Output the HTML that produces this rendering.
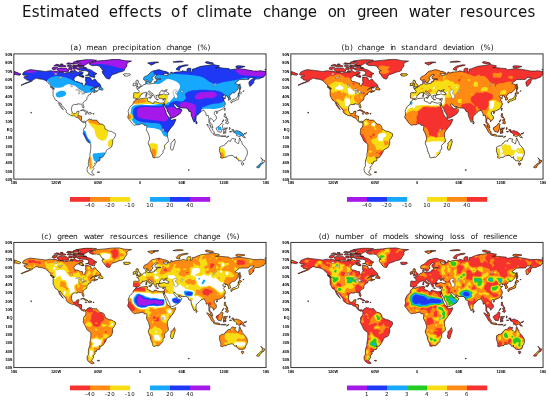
<!DOCTYPE html>
<html lang="en"><head><meta charset="utf-8"><title>Estimated effects of climate change on green water resources</title>
<style>html,body{margin:0;padding:0;background:#fff}svg{display:block}text{font-family:"DejaVu Sans","Liberation Sans",sans-serif;fill:#111;font-variant-ligatures:none}.t{font-family:"Liberation Sans",sans-serif;fill:#000;font-weight:bold}</style></head><body>
<svg width="550" height="400" viewBox="0 0 550 400">
<defs><clipPath id="land"><path d="M8.4,20.4L9.8,18.1L12.6,16.7L16.4,15.6L21,16.2L27.3,16.9L31.5,17.5L36.4,16.7L38.5,17.1L42,17.1L45.5,18.3L49,18.3L50.4,19.2L54.6,18.3L57.4,18.3L58.8,18.8L59.5,17.5L60.2,15.4L61.6,17.1L63,17.9L64.4,18.3L65.8,17.1L66.5,17.5L68.6,17.9L69.3,19.2L67.9,20L65.8,19.8L65.1,21.2L63,21.7L60.9,23.3L59.8,25L60.2,26.1L61.2,27.5L63.7,27.7L66.5,28.9L68.6,29.2L68.6,30.8L70,32.3L70.7,31.7L71,30L72.1,28.3L71.4,26.2L71.8,25L71.4,23.1L74.2,23.1L77,24.2L77.3,25.8L78.4,26.4L80.1,25.4L80.8,24.8L82.6,27.1L84,28.8L85.8,30L86.8,31.7L85.4,32.3L84,33.2L81.2,33.2L79.1,33.8L77.7,35L76.3,36L78.4,34.6L79.8,34L80.8,34.3L80.5,35.4L81.2,36.7L83.3,37.1L84,36.2L83.3,37.3L81.2,38.1L79.8,38.8L79.8,37.9L80.8,37.1L79.1,37.5L77.7,38.3L76.6,39.2L77,40L76.3,40.4L74.2,41.2L74.2,42.1L73.1,43.3L72.8,44.2L73.1,45.4L72.1,46.2L70.7,47.1L69.3,48.3L68.9,49.6L69.6,51.7L70,52.9L69.8,54L68.9,53.8L68.1,52.1L68.1,50.8L67.2,50L66.1,50.2L64.8,49.8L63.3,49.8L63.3,50.7L62.3,50.6L60.2,50.4L58.4,51.4L57.7,53.3L57.5,56.2L58.4,58.8L59.8,59.8L61.6,59.5L62.6,58.3L62.8,57.5L65.1,57.1L64.8,58.8L64.4,59.6L64,61.7L65.8,61.8L67.5,62.3L67.5,64.6L67.5,66.2L68.6,67.5L70,67.3L70.7,67.1L71.8,67.9L71,68.1L70,68.9L68.9,68.3L67.9,67.9L66.5,66.7L65.9,65.8L64.8,64.2L63,63.6L61.6,62.9L60.2,61.7L58.8,61.9L57,61.4L54.9,60.4L53.2,59.2L52.1,57.9L52.3,56.7L51.1,55L49.3,52.9L48.3,51.7L47.2,50L46.5,48.8L45.6,48.6L45.8,50L47,52.1L48.3,54.2L49.3,55.8L48.8,55.4L47.6,54.2L46.5,52.7L45.5,51.7L44.9,50L44.1,47.9L43,46.7L41.6,46.2L40.7,44.6L40.2,43.5L39.2,41.7L39,39.2L39.2,36.5L38.7,34.8L39.9,34.6L40.2,35.4L40,34.2L38.5,33.3L36.8,32.5L36.4,31.2L35,29.6L33.9,28.8L32.9,27.5L31.1,26.2L29.7,25.8L28,25.2L25.2,25L23.1,24.2L21.7,24.2L19.9,25.6L18.5,25.8L18.2,27.1L16.1,27.9L14,28.8L11.9,29.5L9.8,30.3L7.3,31.4L7,31.1L9.1,30.1L10.8,29.3L12.6,28.5L14,28.3L15.4,27.1L16.1,26.1L14.7,26.2L12.6,26.1L12.6,25L10.8,24.6L9.8,23.5L10.5,22.5L13.3,22.1L13.3,21.2L11.9,21.2L9.8,21.2ZM80.5,23.5L78,22.9L76.3,22.5L74.2,21.2L71.4,21.4L74.2,20.8L74.5,19.2L74.9,17.9L72.1,16.8L70.7,16.7L68.6,16.7L66.5,16.2L63.7,15.8L63.3,14.2L66.5,13.6L69.3,13.8L71.4,14.3L74.2,15.2L76.3,15.8L78.4,16.7L79.1,17.5L81.2,18.8L82.9,19.6L81.5,20.8L79.8,20.2L80.8,22.1ZM44.8,17.5L46.5,17.9L50.4,17.7L53.2,17.7L54.9,17.1L54.2,15.8L52.5,14.3L50.4,14L49,14.3L46.2,13.9L43.4,14.6L42.7,15.4L43.8,16.2ZM38.1,15L39.9,15.7L41.3,15.4L42.3,14.2L43.8,13.2L41.3,12.9L38.8,13.3ZM63.7,11.2L70,11.5L71.4,10.8L73.5,9.6L74.9,8.8L79.1,7.5L82.6,6.2L78.4,5.8L71.4,5.8L65.8,6.5L62.3,7.1L65.1,7.9L66.5,9.2L64.4,10ZM61.6,12.7L70,12.8L70,11.9L64.4,11.2L58.8,11.1L61.6,12.1ZM59.5,9.8L63.7,9.6L65.1,8.5L62.3,7.3L59.5,8.1ZM44.1,12.3L47.6,12.9L51.8,12.5L51.8,11.7L49,11.2L44.8,11.4ZM53.2,12.3L57.4,12.5L57.4,11.2L53.9,11.2ZM54.6,15.4L58.1,15.4L58.1,13.5L54.9,13.5ZM58.8,15L62.6,15L62.6,13.3L59.1,13.3ZM65.1,22.1L67.9,22.9L69.6,21.8L67.2,20.2L65.5,20.7ZM56.3,17.9L58.8,17.9L58.8,16.8L56.7,16.8ZM84.5,35.3L87.1,36L88.9,36.1L89.1,35.2L88.5,34.2L87.1,33.5L86.8,32.1L85.8,32.9L85,34.2ZM36.2,32.8L38.5,33.2L39.7,34.7L38.1,34.4ZM80.8,33.5L82.7,34L81.9,34ZM66.5,56.7L68.6,55.8L70,55.8L72.1,57L74.1,58.2L71.8,58.4L71.4,57.8L69.6,56.7L68.2,56.2L67.2,56.7ZM73.8,59.6L75.2,58.4L77,58.5L78,59.5L77,59.8L75.9,60.2ZM71.2,59.7L72.6,59.8L72.4,60.2L71.3,60.1ZM79,59.6L80.1,59.7L79.9,60.1L79,60ZM74.9,9.8L78.4,8.3L82.6,7.1L91,6.4L98,5.6L105,5.4L110.6,6.7L117.6,7.1L114.1,8.3L112.7,10L113,11.7L112,13.3L110.6,15L110.6,16.2L108.5,17.5L105,18.2L102.9,19.2L100.1,20.2L98,20.8L96.6,22.9L95.9,24.8L94.5,25L92.4,24.2L91,22.5L89.6,20.4L88.5,19.2L88.2,17.1L90.3,16.7L88.2,15.8L87.1,14.2L85.4,12.1L82.6,11.5L78.4,11.7L76.3,10.8ZM109.2,20.4L110.6,19.7L113.4,19.8L115.8,19.8L116.5,20.8L114.8,21.7L112.7,22.2L110.2,21.8L110.6,21ZM71.8,67.9L72.8,67.1L73.5,66L74.9,65.4L75.9,64.8L76.3,65.8L77.3,65L78.4,66.2L81.2,66.2L82.6,66.1L84,67.9L86.1,70L88.2,70.2L89.9,71.2L91,73.8L91,75L92.4,75.6L94.8,77.1L97.3,77.4L99.8,78.8L101.4,79.6L101.6,81.7L100.1,84.2L98.7,85.8L98.7,89.2L98,91.7L97.3,93.3L95.9,94.2L94.5,94.8L92.4,96.2L91.9,98.3L90.3,100.8L88.5,103.3L86.8,104L85.2,103.3L86.1,105L85.8,106.7L82.6,107.5L82.4,109.2L80.5,109.2L81.3,110.7L80.1,112.5L78.8,113.3L79.9,114.6L78.4,116.7L77.7,118.3L78.2,119L80.3,120.7L78.4,121.2L76.3,120.4L74.2,118.8L73.1,116.7L73.1,114.2L74.5,111.7L74.3,109.6L74.5,107.5L74.8,105.8L75.9,102.5L75.9,100L76.6,96.7L76.8,93.3L76.8,90.2L75.6,89.2L73.5,87.8L72.6,86.5L71.4,83.8L70.3,81.7L69.3,80L69.1,78.6L70,77.8L69.4,76.8L69.6,75.4L70,74.2L71,73.8L71.8,71.8L71.9,70L71.5,69ZM83.3,117.9L85.4,117.8L85.4,118.5L83.6,118.5ZM121.9,45.2L124.6,45.7L126.7,44.6L129.5,44.3L133,43.9L133.7,44.3L133.2,46.2L133.7,47.1L135.1,47.6L136.7,48.1L137.9,49.2L140,49.3L140,47.9L141.4,47.6L143.5,48.5L146.3,49.2L148.4,48.9L149.9,48.9L150.4,50.4L150,51.8L148.8,50L149.4,51.7L150.8,55L151.9,57.5L152.2,59.6L153.6,62.1L156.1,64.6L156.3,65.4L157.5,66.2L159.6,65.7L161.8,65.2L161.7,66.3L160.3,69.2L159.2,71.2L156.8,74L155,76.5L153.6,78.8L153.3,80.8L153.6,83.3L154.3,85.4L154.3,87.9L151.9,89.8L150.5,91.7L150.8,95L149.1,96.2L149,98.8L147.3,100.8L144.9,103.2L142.1,103.3L140,104L138.8,103.3L138.7,101.7L137.5,98.8L136.5,96.7L136.1,93.8L134.4,90L134.3,88.3L135.7,85L135.3,82.5L134.5,80L133.7,78.3L132.3,75.8L132.7,74.2L132.8,72.1L132.2,71.2L130.2,71.4L129.2,69.8L127,69.8L124.6,70.8L122.8,70.7L120.7,71.3L119.7,70.8L117.9,69.2L116.7,67.5L115.5,65.8L114.2,64.6L113.7,62.8L114.4,61.2L114.6,59.2L114.1,57.5L114.8,55.4L115.8,53.3L116.9,51.9L118.3,51L119.1,50L119.2,48.8L120,47.3L121.2,46.7ZM160.5,85L161.3,87.9L160.6,90L159.6,93.3L158.9,95.8L157.5,96.2L156.4,94.6L156.4,92.9L157.1,91.2L156.8,89.2L158.2,88.2L159.6,86.2ZM119.7,44.2L119.3,42.8L119.8,40.4L119.5,39.2L120.4,38.6L123.2,38.8L124.7,38.8L125.2,37.5L124.2,35.7L122.7,34.8L124.9,34.4L124.7,33.6L126.1,33.8L127.1,32.7L128.4,32.2L129.3,30.8L130.9,30.4L131.9,30L131.8,28.8L131.7,27.5L133.3,26.9L133.3,28.3L133,29.2L133.7,30L135.8,30L138.9,29.4L140.7,29L140.7,27.5L142.8,27.3L142.4,25.7L145.6,25.2L147,25L143.5,24.8L141.8,25L140.9,23.8L141,22.5L143.5,20.8L141.4,20.2L140.7,21.2L138.2,23.3L137.9,24.4L139.2,25.2L137.5,27.1L137.2,28.2L136,28.8L135,28.8L133.8,26.2L133.3,25.6L131.6,26.6L129.8,26L129.5,24.2L130.5,22.7L133,21.7L135.1,20L136.5,18.3L138.6,17.1L140.7,16.7L143.8,15.8L145.6,15.8L147.7,16.5L149.1,17.1L151.9,17.5L154.7,18.8L154,19.8L150.5,19.6L149.1,19.4L150.5,21.4L152.2,21.7L154,21.1L154,20L156.8,19.8L156.8,18.1L158.2,18.3L158.5,19.3L161,18.3L163.8,17.9L167.3,17.7L168.3,16.8L171.5,17.5L173.6,17.9L172.9,16.7L172.8,15.8L173.9,14.3L176.8,14.3L176.8,15.8L176.4,17.9L177.8,17.9L178.5,15L180.6,14.8L182.7,13.8L186.9,12.3L191.1,11.7L196,11.2L198.8,10.2L201.6,11.1L205.4,11.7L204.4,13.3L201.6,13.8L205.1,13.6L210,14.2L214.9,14.6L216.3,15.8L219.1,15.4L224,14.6L231,15.4L238,16.7L239.4,17L245,17.1L245.7,16.7L250.6,17.3L252,17.5L252,20.8L250.6,21.2L249.9,22.9L246.4,24.2L245,25L241.5,25L240.1,26.7L239.4,28.3L240.1,28.3L238,30.8L235.9,32.5L235.2,30.8L234.8,27.9L236.6,26.2L239.4,24.6L240.1,23.3L238,23.5L235.9,23.5L234.5,25.4L231.7,25.6L228.2,25.5L225.4,25.7L222.6,27.9L220.8,29.4L222.6,30L224.7,30.7L224.3,32.5L224.3,34.6L222.6,36.7L220.5,38.8L218.4,39L217,39.8L216.6,41L215.2,41.8L216.5,44.2L216.6,45.4L214.5,46.2L214.5,44.6L214.7,43.6L213.5,43.3L213.5,41.9L213,41.7L211,42.5L211.4,41.1L210.7,40.9L208.6,42.3L209.3,43.8L211.8,43.9L210.3,44.8L209.5,45.8L210.6,47.8L211.3,49.2L211.4,50L211,51.4L209.8,53.8L208.2,55.2L205.9,56.4L203.3,57.3L203,58.1L202.6,57.1L201.6,57L200.2,58.8L200.5,60.4L202.1,62.1L202.5,64.6L201.1,66.2L199.5,67.8L199.4,66.5L197.8,65L196.6,63.9L195.9,65.4L195.6,67.2L196.3,68.9L197.6,69.8L198.4,71.7L198.8,73.8L197.8,73.3L196.7,72.2L196.2,70.4L195.5,69.2L194.8,68.2L194.9,66.7L194.9,64.6L194.4,62.1L193.9,61L192.8,61.8L192,61.5L192,59.6L190.8,57.5L190,56.2L189,56.7L187.9,56.9L186.9,57.5L186.5,58.3L185.5,58.9L183.6,61.1L182.1,62.1L182.1,64.2L181.9,66.4L181.2,67.3L180.2,68.3L179.4,66.8L178.4,64.2L177.4,61.7L177,59.2L176.9,57.5L175.3,57.7L174.3,56.4L175,55.8L173.6,55.2L172.9,54.2L171.1,54L169,54.1L166.6,53.7L165.9,52.5L164.1,52.8L162.8,52L161.6,50.8L161,49.8L159.9,50L159.6,50.4L160.1,51.7L161.1,52.9L162,53.8L162.1,54.8L163.8,54.8L165.3,53.2L165.5,54.6L167.1,55.3L167.9,56.2L166.9,57.9L166.4,59.2L164.5,60.8L162.5,61.9L160.3,63.3L157.5,64.3L156.4,64.4L156,62.7L155.9,61.2L154.7,59.2L153.4,57.1L152.9,55.2L151.9,53.8L150.7,51.7L150.5,50.4L149.9,48.9L150.5,47.5L151.2,45.4L151.3,44.4L149.8,44.8L148.4,44.8L147.3,44.6L146.3,44.6L145.1,44.2L144.5,42.9L144.3,42.1L144.5,41.4L146.3,40.7L148,40.6L149.4,40L150.5,40L151.5,40.6L152.9,40.8L155,40.4L155,39.4L153.6,38.6L152.2,37.7L151.9,37.3L152.6,36.4L153.4,35.7L152.2,35.8L150.6,36.4L150.8,37.3L151.5,37.3L150.5,37.8L149.5,38L148.8,37.2L149.4,36.7L148.4,36.4L147.6,36.2L146.8,37.3L146.1,38.3L145.5,39.3L145.7,40.3L146.3,40.7L145.2,41L144.3,41.2L142.8,41L142.7,41.7L141.9,41.3L142,42.3L142.8,43.3L142.1,44.6L141.2,44.3L140.8,43.1L140,41.9L139.6,40.4L138.9,39.6L137.2,38.8L136.1,37.3L135.6,37L134.6,37.3L134.8,38.2L135.6,38.8L136.4,39.8L137.3,40.2L138.9,41.5L137.9,41.2L137.6,41.9L138,42.5L137.2,43.3L137,43.1L137.2,42.1L136.5,41.4L135.9,41L134.6,40.2L133.3,39.2L132.7,38.1L131.2,38.5L129.5,38.9L128.2,39L128.2,40.1L126.6,41L125.8,42.1L126.1,42.8L125.5,43.6L124.6,44.3L122.8,44.4L122.1,45L121.6,44.4L120.9,44ZM0,17.5L2.1,18.1L4.9,19.2L7,20L5.6,21.2L3.5,21L1.4,20.4L0,20.8ZM122.1,33.3L123.5,33.1L125.3,32.8L127,32.3L127.2,31.1L126.2,30.8L125.9,30L124.9,29.2L124.6,28.3L124,28.1L124.6,27.1L123.5,26.9L123.9,26.2L122.5,26.2L121.9,27.1L122.1,28.3L122.6,28.8L122.5,29.3L123.5,29.3L123.9,30.4L122.8,30.6L123.1,31.2L122.4,31.8L123.8,32.2L122.8,32.5ZM119,31.8L121.6,31.5L121.8,30.4L122.1,29.5L121.1,28.9L120,29.3L119,29.8L119.3,30.8ZM217,48.9L218,48.8L218.4,47.3L219.8,47.1L220.8,47L221.9,46.2L223.3,45.8L224.6,45.2L224.7,43.3L225.4,42.1L224.9,40.5L224.1,40.8L224,42.1L222.9,43.8L221.9,44.2L221.2,45L219.1,45.4L217.7,46.2L216.8,47.3ZM224,40.4L225,39.6L226.3,40L227.8,38.9L227.1,38.3L225.4,37.2L225,38.8L224,39.6ZM225.4,36.7L226.4,36L226.1,34.2L227.1,34.2L226.2,31.7L226.1,29.8L225.4,30.4L225.4,33.3ZM210.1,55.8L210.7,56.7L211.3,54.2L210.7,54ZM202.1,59L203,59.7L203.7,58.5L203,58.3ZM181.9,67.9L182.1,66.9L183.3,68.8L182.7,69.8L182,70ZM210.2,61.7L210.6,59.6L211.5,59.7L211.4,61.2L212.8,64.2L212.1,63.8L211,63.3L210.3,62.9ZM211.4,69.2L212.4,67.9L213.8,66.9L214.5,68.8L213.8,70L212.8,69.6ZM211.4,66.2L212.1,65.2L213.7,64.6L213.8,66.2L212.8,66.7L212.1,67.3ZM208,68L209.6,65.6L209.9,66L208.5,68.2ZM202.3,73.8L203,73.5L204,72.7L205.1,72.3L206.1,71.1L207.2,69.6L207.9,69.2L209.3,70.7L208.6,71.4L208.5,73.3L209.3,74.2L208.2,75L207.5,76.7L207.2,78.2L206.1,78.3L205.1,77.7L204,77.8L203,76.2L202.3,75ZM192.7,70.3L194.2,70.7L196,72.5L197,73.3L198.4,75L199.1,76.7L200.2,77.9L200.1,79.8L199.1,79.8L197.6,78.3L196.3,76L195.1,73.8L193.9,72.2ZM199.6,80.6L200.5,80L201.9,80.4L203.7,80.4L205.1,80.8L206.1,81.5L206.1,82.2L203.7,81.9L201.6,81.5L200.5,81.2ZM209.6,79.6L209.6,77.5L209.3,75.8L210,74.3L210.7,74L212.1,74.2L213.5,73.7L213.1,74.6L211,74.7L210.1,75.7L211,75.8L212.3,75.7L211.8,76.7L211.3,76.7L211.8,77.9L212.1,78.8L211.4,79.2L210.7,77.5L210.3,77.9L210.3,79.6ZM217.7,75.7L219.1,75.4L219.9,75.8L220.5,77.8L222.2,76.4L224.7,77.2L227.1,78.2L228.2,79.6L229.2,80L229.6,81.7L231.5,83.8L229.2,83.3L228.2,81.8L226.8,81.4L226.1,82.7L224.7,82.7L223.3,81.7L222.6,81.9L222.6,80.4L221.2,78.9L219.4,78.3L219,77.3L219.8,76.9L218.4,76.8ZM206.8,81.9L209.3,81.9L212.1,81.9L212.1,82.4L209.3,82.5L206.8,82.3ZM212.4,83.6L213.5,82.5L214.9,82L214.2,82.9ZM215.2,75.4L215.6,73.3L216.2,74.2L215.9,75.4ZM215.6,77.5L217.6,77.5L217.3,78.1L215.6,77.9ZM229.9,79.7L231.7,79.2L232.6,78.5L232.4,79.4L231,80.2ZM205.4,93.3L205.9,93.2L207.5,92.1L209.3,91.7L211,90.8L211.6,89.3L212.4,89.4L213.5,87.5L214.9,86.7L215.9,87.3L216.6,87.4L217,85.8L217.3,85.2L218.8,84.4L220.5,85L221.8,85L221.2,86.2L220.8,87.5L222.2,88.3L223.6,89.6L224.6,89.6L225,87.5L225.2,85.4L225.7,83.9L226.4,85.4L226.6,86.9L227.7,87.5L228.2,90L229.2,91.2L230.3,92.1L231.5,93.8L232.9,95.8L233.4,97.9L233.3,100L232.7,102.1L231.7,103.3L231,106.1L229.2,106.7L228.4,107.5L227.1,106.8L224.7,106.8L223.6,105L222.6,104.8L222.4,102.5L221.2,104L220.8,103.9L219.8,102.3L218,101.2L215.9,101.7L214.2,101.9L212.8,102.5L212.4,103.3L210,103.3L208.6,104.2L207.2,104L206.5,103.6L207,101.7L206.5,100L205.9,98.3L205.3,96.7L205.7,94.6ZM227.3,108.9L229.7,109L229.7,110L228.9,111.3L228.2,111.2L227.6,110.2ZM246.9,103.7L248.1,105L248.8,105.6L249.2,106.3L250.8,106.4L250.5,107.7L249.8,107.9L249.8,108.8L248.6,109.7L248.4,109L248.6,108.3L247.7,107.8L248.3,107.1L248.3,105.8L247.1,104.2ZM246.9,108.8L247.9,109.6L247.1,110.8L246.7,111.5L245.8,112.1L245.6,113.3L244.6,113.8L243.6,113.7L242.5,113.3L243.2,112.3L243.9,111.7L245.3,110.8L246,109.8ZM162,15.2L162.8,14.2L163.8,13.3L165.2,12.3L167.3,11.7L171.5,10.8L174.3,10.9L173.6,11.5L170.1,12.2L168,12.7L166.9,13.5L165.9,14.3L165.2,15.4L166.2,16.1L164.5,16.2L162.8,15.8ZM133.7,9L135.8,10.3L137.5,11.2L138.9,10.4L140.7,9.6L139.3,9L142.1,9L144.9,8.3L142.1,7.9L138.6,8.2L135.8,8.5ZM158.9,8.1L162.4,8.3L166.6,8.1L169.4,7.7L166.6,7.1L162.4,7.3ZM192.5,9.2L196,10L199.5,9.6L198.8,8.8L196,8.3L193.2,7.5L191.1,8.3ZM221.9,13.3L223.3,13.8L226.1,13.9L231,12.5L228.2,12L224,11.7L221.9,12.3ZM250.9,15.8L252,15.8L252,15.3L250.9,15.4ZM134.8,43.3L136.8,43.2L136.6,44.4L134.8,43.7ZM131.7,42.5L132.7,42.3L132.8,40.7L131.8,40.9ZM132,40.4L132.6,40.4L132.7,39.2L132.1,39.6ZM142.4,45.3L144.4,45.6L144.3,45.9L142.4,45.7ZM148.6,45.8L150.1,45.2L149.8,45.9L148.8,46.2ZM39.9,11.7L44.1,11.8L45.1,10.8L42.7,10.3ZM52.5,10L56.7,10.2L57.4,9.3L53.9,8.8ZM57.4,10.1L59.1,10.1L59.1,9.2L57.4,9.3ZM58.4,12.7L60.7,12.7L60.7,11.9L58.4,11.9ZM69.3,14.2L72.8,14.3L72.1,13.5L69.6,13.4ZM46.2,10.6L49,10.7L49,10L46.5,9.9ZM67.9,23.2L70,23.2L70,22.5L68.2,22.5ZM16.8,58.2L17.5,58.4L17.5,59.2L16.8,59ZM174.2,115.8L175.3,115.8L175.2,116.4L174.3,116.3ZM228.9,37.5L229.9,37.1L230.2,36.8L228.9,37.2Z"/></clipPath>
<clipPath id="frame"><rect x="0" y="0" width="252" height="125"/></clipPath>
<path id="coast" d="M8.4,20.4L9.8,18.1L12.6,16.7L16.4,15.6L21,16.2L27.3,16.9L31.5,17.5L36.4,16.7L38.5,17.1L42,17.1L45.5,18.3L49,18.3L50.4,19.2L54.6,18.3L57.4,18.3L58.8,18.8L59.5,17.5L60.2,15.4L61.6,17.1L63,17.9L64.4,18.3L65.8,17.1L66.5,17.5L68.6,17.9L69.3,19.2L67.9,20L65.8,19.8L65.1,21.2L63,21.7L60.9,23.3L59.8,25L60.2,26.1L61.2,27.5L63.7,27.7L66.5,28.9L68.6,29.2L68.6,30.8L70,32.3L70.7,31.7L71,30L72.1,28.3L71.4,26.2L71.8,25L71.4,23.1L74.2,23.1L77,24.2L77.3,25.8L78.4,26.4L80.1,25.4L80.8,24.8L82.6,27.1L84,28.8L85.8,30L86.8,31.7L85.4,32.3L84,33.2L81.2,33.2L79.1,33.8L77.7,35L76.3,36L78.4,34.6L79.8,34L80.8,34.3L80.5,35.4L81.2,36.7L83.3,37.1L84,36.2L83.3,37.3L81.2,38.1L79.8,38.8L79.8,37.9L80.8,37.1L79.1,37.5L77.7,38.3L76.6,39.2L77,40L76.3,40.4L74.2,41.2L74.2,42.1L73.1,43.3L72.8,44.2L73.1,45.4L72.1,46.2L70.7,47.1L69.3,48.3L68.9,49.6L69.6,51.7L70,52.9L69.8,54L68.9,53.8L68.1,52.1L68.1,50.8L67.2,50L66.1,50.2L64.8,49.8L63.3,49.8L63.3,50.7L62.3,50.6L60.2,50.4L58.4,51.4L57.7,53.3L57.5,56.2L58.4,58.8L59.8,59.8L61.6,59.5L62.6,58.3L62.8,57.5L65.1,57.1L64.8,58.8L64.4,59.6L64,61.7L65.8,61.8L67.5,62.3L67.5,64.6L67.5,66.2L68.6,67.5L70,67.3L70.7,67.1L71.8,67.9L71,68.1L70,68.9L68.9,68.3L67.9,67.9L66.5,66.7L65.9,65.8L64.8,64.2L63,63.6L61.6,62.9L60.2,61.7L58.8,61.9L57,61.4L54.9,60.4L53.2,59.2L52.1,57.9L52.3,56.7L51.1,55L49.3,52.9L48.3,51.7L47.2,50L46.5,48.8L45.6,48.6L45.8,50L47,52.1L48.3,54.2L49.3,55.8L48.8,55.4L47.6,54.2L46.5,52.7L45.5,51.7L44.9,50L44.1,47.9L43,46.7L41.6,46.2L40.7,44.6L40.2,43.5L39.2,41.7L39,39.2L39.2,36.5L38.7,34.8L39.9,34.6L40.2,35.4L40,34.2L38.5,33.3L36.8,32.5L36.4,31.2L35,29.6L33.9,28.8L32.9,27.5L31.1,26.2L29.7,25.8L28,25.2L25.2,25L23.1,24.2L21.7,24.2L19.9,25.6L18.5,25.8L18.2,27.1L16.1,27.9L14,28.8L11.9,29.5L9.8,30.3L7.3,31.4L7,31.1L9.1,30.1L10.8,29.3L12.6,28.5L14,28.3L15.4,27.1L16.1,26.1L14.7,26.2L12.6,26.1L12.6,25L10.8,24.6L9.8,23.5L10.5,22.5L13.3,22.1L13.3,21.2L11.9,21.2L9.8,21.2ZM80.5,23.5L78,22.9L76.3,22.5L74.2,21.2L71.4,21.4L74.2,20.8L74.5,19.2L74.9,17.9L72.1,16.8L70.7,16.7L68.6,16.7L66.5,16.2L63.7,15.8L63.3,14.2L66.5,13.6L69.3,13.8L71.4,14.3L74.2,15.2L76.3,15.8L78.4,16.7L79.1,17.5L81.2,18.8L82.9,19.6L81.5,20.8L79.8,20.2L80.8,22.1ZM44.8,17.5L46.5,17.9L50.4,17.7L53.2,17.7L54.9,17.1L54.2,15.8L52.5,14.3L50.4,14L49,14.3L46.2,13.9L43.4,14.6L42.7,15.4L43.8,16.2ZM38.1,15L39.9,15.7L41.3,15.4L42.3,14.2L43.8,13.2L41.3,12.9L38.8,13.3ZM63.7,11.2L70,11.5L71.4,10.8L73.5,9.6L74.9,8.8L79.1,7.5L82.6,6.2L78.4,5.8L71.4,5.8L65.8,6.5L62.3,7.1L65.1,7.9L66.5,9.2L64.4,10ZM61.6,12.7L70,12.8L70,11.9L64.4,11.2L58.8,11.1L61.6,12.1ZM59.5,9.8L63.7,9.6L65.1,8.5L62.3,7.3L59.5,8.1ZM44.1,12.3L47.6,12.9L51.8,12.5L51.8,11.7L49,11.2L44.8,11.4ZM53.2,12.3L57.4,12.5L57.4,11.2L53.9,11.2ZM54.6,15.4L58.1,15.4L58.1,13.5L54.9,13.5ZM58.8,15L62.6,15L62.6,13.3L59.1,13.3ZM65.1,22.1L67.9,22.9L69.6,21.8L67.2,20.2L65.5,20.7ZM56.3,17.9L58.8,17.9L58.8,16.8L56.7,16.8ZM84.5,35.3L87.1,36L88.9,36.1L89.1,35.2L88.5,34.2L87.1,33.5L86.8,32.1L85.8,32.9L85,34.2ZM36.2,32.8L38.5,33.2L39.7,34.7L38.1,34.4ZM80.8,33.5L82.7,34L81.9,34ZM66.5,56.7L68.6,55.8L70,55.8L72.1,57L74.1,58.2L71.8,58.4L71.4,57.8L69.6,56.7L68.2,56.2L67.2,56.7ZM73.8,59.6L75.2,58.4L77,58.5L78,59.5L77,59.8L75.9,60.2ZM71.2,59.7L72.6,59.8L72.4,60.2L71.3,60.1ZM79,59.6L80.1,59.7L79.9,60.1L79,60ZM74.9,9.8L78.4,8.3L82.6,7.1L91,6.4L98,5.6L105,5.4L110.6,6.7L117.6,7.1L114.1,8.3L112.7,10L113,11.7L112,13.3L110.6,15L110.6,16.2L108.5,17.5L105,18.2L102.9,19.2L100.1,20.2L98,20.8L96.6,22.9L95.9,24.8L94.5,25L92.4,24.2L91,22.5L89.6,20.4L88.5,19.2L88.2,17.1L90.3,16.7L88.2,15.8L87.1,14.2L85.4,12.1L82.6,11.5L78.4,11.7L76.3,10.8ZM109.2,20.4L110.6,19.7L113.4,19.8L115.8,19.8L116.5,20.8L114.8,21.7L112.7,22.2L110.2,21.8L110.6,21ZM71.8,67.9L72.8,67.1L73.5,66L74.9,65.4L75.9,64.8L76.3,65.8L77.3,65L78.4,66.2L81.2,66.2L82.6,66.1L84,67.9L86.1,70L88.2,70.2L89.9,71.2L91,73.8L91,75L92.4,75.6L94.8,77.1L97.3,77.4L99.8,78.8L101.4,79.6L101.6,81.7L100.1,84.2L98.7,85.8L98.7,89.2L98,91.7L97.3,93.3L95.9,94.2L94.5,94.8L92.4,96.2L91.9,98.3L90.3,100.8L88.5,103.3L86.8,104L85.2,103.3L86.1,105L85.8,106.7L82.6,107.5L82.4,109.2L80.5,109.2L81.3,110.7L80.1,112.5L78.8,113.3L79.9,114.6L78.4,116.7L77.7,118.3L78.2,119L80.3,120.7L78.4,121.2L76.3,120.4L74.2,118.8L73.1,116.7L73.1,114.2L74.5,111.7L74.3,109.6L74.5,107.5L74.8,105.8L75.9,102.5L75.9,100L76.6,96.7L76.8,93.3L76.8,90.2L75.6,89.2L73.5,87.8L72.6,86.5L71.4,83.8L70.3,81.7L69.3,80L69.1,78.6L70,77.8L69.4,76.8L69.6,75.4L70,74.2L71,73.8L71.8,71.8L71.9,70L71.5,69ZM83.3,117.9L85.4,117.8L85.4,118.5L83.6,118.5ZM121.9,45.2L124.6,45.7L126.7,44.6L129.5,44.3L133,43.9L133.7,44.3L133.2,46.2L133.7,47.1L135.1,47.6L136.7,48.1L137.9,49.2L140,49.3L140,47.9L141.4,47.6L143.5,48.5L146.3,49.2L148.4,48.9L149.9,48.9L150.4,50.4L150,51.8L148.8,50L149.4,51.7L150.8,55L151.9,57.5L152.2,59.6L153.6,62.1L156.1,64.6L156.3,65.4L157.5,66.2L159.6,65.7L161.8,65.2L161.7,66.3L160.3,69.2L159.2,71.2L156.8,74L155,76.5L153.6,78.8L153.3,80.8L153.6,83.3L154.3,85.4L154.3,87.9L151.9,89.8L150.5,91.7L150.8,95L149.1,96.2L149,98.8L147.3,100.8L144.9,103.2L142.1,103.3L140,104L138.8,103.3L138.7,101.7L137.5,98.8L136.5,96.7L136.1,93.8L134.4,90L134.3,88.3L135.7,85L135.3,82.5L134.5,80L133.7,78.3L132.3,75.8L132.7,74.2L132.8,72.1L132.2,71.2L130.2,71.4L129.2,69.8L127,69.8L124.6,70.8L122.8,70.7L120.7,71.3L119.7,70.8L117.9,69.2L116.7,67.5L115.5,65.8L114.2,64.6L113.7,62.8L114.4,61.2L114.6,59.2L114.1,57.5L114.8,55.4L115.8,53.3L116.9,51.9L118.3,51L119.1,50L119.2,48.8L120,47.3L121.2,46.7ZM160.5,85L161.3,87.9L160.6,90L159.6,93.3L158.9,95.8L157.5,96.2L156.4,94.6L156.4,92.9L157.1,91.2L156.8,89.2L158.2,88.2L159.6,86.2ZM119.7,44.2L119.3,42.8L119.8,40.4L119.5,39.2L120.4,38.6L123.2,38.8L124.7,38.8L125.2,37.5L124.2,35.7L122.7,34.8L124.9,34.4L124.7,33.6L126.1,33.8L127.1,32.7L128.4,32.2L129.3,30.8L130.9,30.4L131.9,30L131.8,28.8L131.7,27.5L133.3,26.9L133.3,28.3L133,29.2L133.7,30L135.8,30L138.9,29.4L140.7,29L140.7,27.5L142.8,27.3L142.4,25.7L145.6,25.2L147,25L143.5,24.8L141.8,25L140.9,23.8L141,22.5L143.5,20.8L141.4,20.2L140.7,21.2L138.2,23.3L137.9,24.4L139.2,25.2L137.5,27.1L137.2,28.2L136,28.8L135,28.8L133.8,26.2L133.3,25.6L131.6,26.6L129.8,26L129.5,24.2L130.5,22.7L133,21.7L135.1,20L136.5,18.3L138.6,17.1L140.7,16.7L143.8,15.8L145.6,15.8L147.7,16.5L149.1,17.1L151.9,17.5L154.7,18.8L154,19.8L150.5,19.6L149.1,19.4L150.5,21.4L152.2,21.7L154,21.1L154,20L156.8,19.8L156.8,18.1L158.2,18.3L158.5,19.3L161,18.3L163.8,17.9L167.3,17.7L168.3,16.8L171.5,17.5L173.6,17.9L172.9,16.7L172.8,15.8L173.9,14.3L176.8,14.3L176.8,15.8L176.4,17.9L177.8,17.9L178.5,15L180.6,14.8L182.7,13.8L186.9,12.3L191.1,11.7L196,11.2L198.8,10.2L201.6,11.1L205.4,11.7L204.4,13.3L201.6,13.8L205.1,13.6L210,14.2L214.9,14.6L216.3,15.8L219.1,15.4L224,14.6L231,15.4L238,16.7L239.4,17L245,17.1L245.7,16.7L250.6,17.3L252,17.5L252,20.8L250.6,21.2L249.9,22.9L246.4,24.2L245,25L241.5,25L240.1,26.7L239.4,28.3L240.1,28.3L238,30.8L235.9,32.5L235.2,30.8L234.8,27.9L236.6,26.2L239.4,24.6L240.1,23.3L238,23.5L235.9,23.5L234.5,25.4L231.7,25.6L228.2,25.5L225.4,25.7L222.6,27.9L220.8,29.4L222.6,30L224.7,30.7L224.3,32.5L224.3,34.6L222.6,36.7L220.5,38.8L218.4,39L217,39.8L216.6,41L215.2,41.8L216.5,44.2L216.6,45.4L214.5,46.2L214.5,44.6L214.7,43.6L213.5,43.3L213.5,41.9L213,41.7L211,42.5L211.4,41.1L210.7,40.9L208.6,42.3L209.3,43.8L211.8,43.9L210.3,44.8L209.5,45.8L210.6,47.8L211.3,49.2L211.4,50L211,51.4L209.8,53.8L208.2,55.2L205.9,56.4L203.3,57.3L203,58.1L202.6,57.1L201.6,57L200.2,58.8L200.5,60.4L202.1,62.1L202.5,64.6L201.1,66.2L199.5,67.8L199.4,66.5L197.8,65L196.6,63.9L195.9,65.4L195.6,67.2L196.3,68.9L197.6,69.8L198.4,71.7L198.8,73.8L197.8,73.3L196.7,72.2L196.2,70.4L195.5,69.2L194.8,68.2L194.9,66.7L194.9,64.6L194.4,62.1L193.9,61L192.8,61.8L192,61.5L192,59.6L190.8,57.5L190,56.2L189,56.7L187.9,56.9L186.9,57.5L186.5,58.3L185.5,58.9L183.6,61.1L182.1,62.1L182.1,64.2L181.9,66.4L181.2,67.3L180.2,68.3L179.4,66.8L178.4,64.2L177.4,61.7L177,59.2L176.9,57.5L175.3,57.7L174.3,56.4L175,55.8L173.6,55.2L172.9,54.2L171.1,54L169,54.1L166.6,53.7L165.9,52.5L164.1,52.8L162.8,52L161.6,50.8L161,49.8L159.9,50L159.6,50.4L160.1,51.7L161.1,52.9L162,53.8L162.1,54.8L163.8,54.8L165.3,53.2L165.5,54.6L167.1,55.3L167.9,56.2L166.9,57.9L166.4,59.2L164.5,60.8L162.5,61.9L160.3,63.3L157.5,64.3L156.4,64.4L156,62.7L155.9,61.2L154.7,59.2L153.4,57.1L152.9,55.2L151.9,53.8L150.7,51.7L150.5,50.4L149.9,48.9L150.5,47.5L151.2,45.4L151.3,44.4L149.8,44.8L148.4,44.8L147.3,44.6L146.3,44.6L145.1,44.2L144.5,42.9L144.3,42.1L144.5,41.4L146.3,40.7L148,40.6L149.4,40L150.5,40L151.5,40.6L152.9,40.8L155,40.4L155,39.4L153.6,38.6L152.2,37.7L151.9,37.3L152.6,36.4L153.4,35.7L152.2,35.8L150.6,36.4L150.8,37.3L151.5,37.3L150.5,37.8L149.5,38L148.8,37.2L149.4,36.7L148.4,36.4L147.6,36.2L146.8,37.3L146.1,38.3L145.5,39.3L145.7,40.3L146.3,40.7L145.2,41L144.3,41.2L142.8,41L142.7,41.7L141.9,41.3L142,42.3L142.8,43.3L142.1,44.6L141.2,44.3L140.8,43.1L140,41.9L139.6,40.4L138.9,39.6L137.2,38.8L136.1,37.3L135.6,37L134.6,37.3L134.8,38.2L135.6,38.8L136.4,39.8L137.3,40.2L138.9,41.5L137.9,41.2L137.6,41.9L138,42.5L137.2,43.3L137,43.1L137.2,42.1L136.5,41.4L135.9,41L134.6,40.2L133.3,39.2L132.7,38.1L131.2,38.5L129.5,38.9L128.2,39L128.2,40.1L126.6,41L125.8,42.1L126.1,42.8L125.5,43.6L124.6,44.3L122.8,44.4L122.1,45L121.6,44.4L120.9,44ZM0,17.5L2.1,18.1L4.9,19.2L7,20L5.6,21.2L3.5,21L1.4,20.4L0,20.8ZM122.1,33.3L123.5,33.1L125.3,32.8L127,32.3L127.2,31.1L126.2,30.8L125.9,30L124.9,29.2L124.6,28.3L124,28.1L124.6,27.1L123.5,26.9L123.9,26.2L122.5,26.2L121.9,27.1L122.1,28.3L122.6,28.8L122.5,29.3L123.5,29.3L123.9,30.4L122.8,30.6L123.1,31.2L122.4,31.8L123.8,32.2L122.8,32.5ZM119,31.8L121.6,31.5L121.8,30.4L122.1,29.5L121.1,28.9L120,29.3L119,29.8L119.3,30.8ZM217,48.9L218,48.8L218.4,47.3L219.8,47.1L220.8,47L221.9,46.2L223.3,45.8L224.6,45.2L224.7,43.3L225.4,42.1L224.9,40.5L224.1,40.8L224,42.1L222.9,43.8L221.9,44.2L221.2,45L219.1,45.4L217.7,46.2L216.8,47.3ZM224,40.4L225,39.6L226.3,40L227.8,38.9L227.1,38.3L225.4,37.2L225,38.8L224,39.6ZM225.4,36.7L226.4,36L226.1,34.2L227.1,34.2L226.2,31.7L226.1,29.8L225.4,30.4L225.4,33.3ZM210.1,55.8L210.7,56.7L211.3,54.2L210.7,54ZM202.1,59L203,59.7L203.7,58.5L203,58.3ZM181.9,67.9L182.1,66.9L183.3,68.8L182.7,69.8L182,70ZM210.2,61.7L210.6,59.6L211.5,59.7L211.4,61.2L212.8,64.2L212.1,63.8L211,63.3L210.3,62.9ZM211.4,69.2L212.4,67.9L213.8,66.9L214.5,68.8L213.8,70L212.8,69.6ZM211.4,66.2L212.1,65.2L213.7,64.6L213.8,66.2L212.8,66.7L212.1,67.3ZM208,68L209.6,65.6L209.9,66L208.5,68.2ZM202.3,73.8L203,73.5L204,72.7L205.1,72.3L206.1,71.1L207.2,69.6L207.9,69.2L209.3,70.7L208.6,71.4L208.5,73.3L209.3,74.2L208.2,75L207.5,76.7L207.2,78.2L206.1,78.3L205.1,77.7L204,77.8L203,76.2L202.3,75ZM192.7,70.3L194.2,70.7L196,72.5L197,73.3L198.4,75L199.1,76.7L200.2,77.9L200.1,79.8L199.1,79.8L197.6,78.3L196.3,76L195.1,73.8L193.9,72.2ZM199.6,80.6L200.5,80L201.9,80.4L203.7,80.4L205.1,80.8L206.1,81.5L206.1,82.2L203.7,81.9L201.6,81.5L200.5,81.2ZM209.6,79.6L209.6,77.5L209.3,75.8L210,74.3L210.7,74L212.1,74.2L213.5,73.7L213.1,74.6L211,74.7L210.1,75.7L211,75.8L212.3,75.7L211.8,76.7L211.3,76.7L211.8,77.9L212.1,78.8L211.4,79.2L210.7,77.5L210.3,77.9L210.3,79.6ZM217.7,75.7L219.1,75.4L219.9,75.8L220.5,77.8L222.2,76.4L224.7,77.2L227.1,78.2L228.2,79.6L229.2,80L229.6,81.7L231.5,83.8L229.2,83.3L228.2,81.8L226.8,81.4L226.1,82.7L224.7,82.7L223.3,81.7L222.6,81.9L222.6,80.4L221.2,78.9L219.4,78.3L219,77.3L219.8,76.9L218.4,76.8ZM206.8,81.9L209.3,81.9L212.1,81.9L212.1,82.4L209.3,82.5L206.8,82.3ZM212.4,83.6L213.5,82.5L214.9,82L214.2,82.9ZM215.2,75.4L215.6,73.3L216.2,74.2L215.9,75.4ZM215.6,77.5L217.6,77.5L217.3,78.1L215.6,77.9ZM229.9,79.7L231.7,79.2L232.6,78.5L232.4,79.4L231,80.2ZM205.4,93.3L205.9,93.2L207.5,92.1L209.3,91.7L211,90.8L211.6,89.3L212.4,89.4L213.5,87.5L214.9,86.7L215.9,87.3L216.6,87.4L217,85.8L217.3,85.2L218.8,84.4L220.5,85L221.8,85L221.2,86.2L220.8,87.5L222.2,88.3L223.6,89.6L224.6,89.6L225,87.5L225.2,85.4L225.7,83.9L226.4,85.4L226.6,86.9L227.7,87.5L228.2,90L229.2,91.2L230.3,92.1L231.5,93.8L232.9,95.8L233.4,97.9L233.3,100L232.7,102.1L231.7,103.3L231,106.1L229.2,106.7L228.4,107.5L227.1,106.8L224.7,106.8L223.6,105L222.6,104.8L222.4,102.5L221.2,104L220.8,103.9L219.8,102.3L218,101.2L215.9,101.7L214.2,101.9L212.8,102.5L212.4,103.3L210,103.3L208.6,104.2L207.2,104L206.5,103.6L207,101.7L206.5,100L205.9,98.3L205.3,96.7L205.7,94.6ZM227.3,108.9L229.7,109L229.7,110L228.9,111.3L228.2,111.2L227.6,110.2ZM246.9,103.7L248.1,105L248.8,105.6L249.2,106.3L250.8,106.4L250.5,107.7L249.8,107.9L249.8,108.8L248.6,109.7L248.4,109L248.6,108.3L247.7,107.8L248.3,107.1L248.3,105.8L247.1,104.2ZM246.9,108.8L247.9,109.6L247.1,110.8L246.7,111.5L245.8,112.1L245.6,113.3L244.6,113.8L243.6,113.7L242.5,113.3L243.2,112.3L243.9,111.7L245.3,110.8L246,109.8ZM162,15.2L162.8,14.2L163.8,13.3L165.2,12.3L167.3,11.7L171.5,10.8L174.3,10.9L173.6,11.5L170.1,12.2L168,12.7L166.9,13.5L165.9,14.3L165.2,15.4L166.2,16.1L164.5,16.2L162.8,15.8ZM133.7,9L135.8,10.3L137.5,11.2L138.9,10.4L140.7,9.6L139.3,9L142.1,9L144.9,8.3L142.1,7.9L138.6,8.2L135.8,8.5ZM158.9,8.1L162.4,8.3L166.6,8.1L169.4,7.7L166.6,7.1L162.4,7.3ZM192.5,9.2L196,10L199.5,9.6L198.8,8.8L196,8.3L193.2,7.5L191.1,8.3ZM221.9,13.3L223.3,13.8L226.1,13.9L231,12.5L228.2,12L224,11.7L221.9,12.3ZM250.9,15.8L252,15.8L252,15.3L250.9,15.4ZM134.8,43.3L136.8,43.2L136.6,44.4L134.8,43.7ZM131.7,42.5L132.7,42.3L132.8,40.7L131.8,40.9ZM132,40.4L132.6,40.4L132.7,39.2L132.1,39.6ZM142.4,45.3L144.4,45.6L144.3,45.9L142.4,45.7ZM148.6,45.8L150.1,45.2L149.8,45.9L148.8,46.2ZM39.9,11.7L44.1,11.8L45.1,10.8L42.7,10.3ZM52.5,10L56.7,10.2L57.4,9.3L53.9,8.8ZM57.4,10.1L59.1,10.1L59.1,9.2L57.4,9.3ZM58.4,12.7L60.7,12.7L60.7,11.9L58.4,11.9ZM69.3,14.2L72.8,14.3L72.1,13.5L69.6,13.4ZM46.2,10.6L49,10.7L49,10L46.5,9.9ZM67.9,23.2L70,23.2L70,22.5L68.2,22.5ZM16.8,58.2L17.5,58.4L17.5,59.2L16.8,59ZM174.2,115.8L175.3,115.8L175.2,116.4L174.3,116.3ZM228.9,37.5L229.9,37.1L230.2,36.8L228.9,37.2Z"/><path id="water" d="M158.9,37.5L160.3,36.2L162,35.8L163.1,36.7L162.4,37.9L161.3,38.1L161.7,39.6L163.1,40.4L163.7,42.1L163.4,43.9L161.7,44.4L160.6,43.8L160.3,42.1L159.2,39.6ZM61.6,36L63.7,35L65.8,35L66.8,36L65.1,36.2L63,36.2ZM64.5,40L65.5,40L66.1,37.1L65.1,36.8ZM67.2,36.8L69.3,36.8L70,37.9L68.7,39L67.5,38.3ZM67.7,40.3L70,40L70.7,39.2L68.9,39.5ZM70.2,38.9L72.4,38.8L72.4,38.2L70.7,38.4ZM39.9,20.4L42.7,20.8L43.4,19.6L41.3,19.2ZM44.1,24.2L46.2,24.2L49,22.9L47.6,22.7L45.5,23.3ZM57,32.9L58.4,32.9L57.7,30.4L56.7,30.4ZM148.4,77.3L149.8,77.1L149.8,74.8L148.4,74.8ZM166.9,38.3L168.3,38.8L169,36.7L167.6,36.2ZM198.8,32.1L200.2,31.7L202.6,28.8L201.9,28.8Z"/></defs>
<rect width="550" height="400" fill="#fff"/>
<text x="22.1" y="16.6" font-size="15" textLength="77.5" lengthAdjust="spacing" style="fill:#111">Estimated</text><text x="108.8" y="16.6" font-size="15" textLength="53" lengthAdjust="spacing" style="fill:#111">effects</text><text x="171" y="16.6" font-size="15" textLength="16.3" lengthAdjust="spacing" style="fill:#111">of</text><text x="196.6" y="16.6" font-size="15" textLength="55.5" lengthAdjust="spacing" style="fill:#111">climate</text><text x="262.9" y="16.6" font-size="15" textLength="54.1" lengthAdjust="spacing" style="fill:#111">change</text><text x="327.8" y="16.6" font-size="15" textLength="17.9" lengthAdjust="spacing" style="fill:#111">on</text><text x="356.9" y="16.6" font-size="15" textLength="41.4" lengthAdjust="spacing" style="fill:#111">green</text><text x="408.7" y="16.6" font-size="15" textLength="42.1" lengthAdjust="spacing" style="fill:#111">water</text><text x="459.8" y="16.6" font-size="15" textLength="75.6" lengthAdjust="spacing" style="fill:#111">resources</text>
<g transform="translate(14,54)">
<text x="56.2" y="-3.9" font-size="7.5" textLength="11.3" lengthAdjust="spacing">(a)</text><text x="72.2" y="-3.9" font-size="7.5" textLength="20.9" lengthAdjust="spacing">mean</text><text x="98.4" y="-3.9" font-size="7.5" textLength="48.6" lengthAdjust="spacing">precipitation</text><text x="152.2" y="-3.9" font-size="7.5" textLength="25.3" lengthAdjust="spacing">change</text><text x="183.3" y="-3.9" font-size="7.5" textLength="13.1" lengthAdjust="spacing">(%)</text>
<g clip-path="url(#frame)">
<g clip-path="url(#land)">
<path d="M33,24C33.4,25.7 34.4,28.4 35.6,30C36.8,31.6 37.9,33.1 40,33.6C42.1,34.1 45.8,33.7 48,33.2C50.2,32.7 51,30.7 53,30.4C55,30.1 57.8,30.7 60,31.6C62.2,32.5 64,34.4 66,35.6C68,36.8 69.7,38.7 72,39C74.3,39.3 77.4,38 80,37.6C82.6,37.2 86.1,37.3 87.6,36.4C89.1,35.5 88.8,34.7 89,32C89.2,29.3 98.3,22 89,20C79.7,18 42.3,19.3 33,20C23.7,20.7 32.6,22.3 33,24Z" fill="#16a8fc"/>
<path d="M42,39.5C42.5,38.5 44.5,37.3 46,37C47.5,36.7 50,36.9 51,37.5C52,38.1 52.5,39.6 52,40.5C51.5,41.4 49.5,42.6 48,43C46.5,43.4 44,43.6 43,43C42,42.4 41.5,40.5 42,39.5Z" fill="#16a8fc"/>
<path d="M129,30C127.3,28.8 127.2,24.5 128,22C128.8,19.5 130.3,16.7 134,15C137.7,13.3 130.3,12.5 150,12C169.7,11.5 235,10 252,12C269,14 255.7,21.7 252,24C248.3,26.3 234.2,24.5 230,26C225.8,27.5 227.8,30.3 227,33C226.2,35.7 226.3,40.2 225,42C223.7,43.8 221,43.2 219,44C217,44.8 214.7,45.5 213,47C211.3,48.5 211.2,51.7 209,53C206.8,54.3 203.2,54.7 200,55C196.8,55.3 192.3,54.5 190,55C187.7,55.5 186.7,55.2 186,58C185.3,60.8 187.7,69.7 186,72C184.3,74.3 178.7,73.7 176,72C173.3,70.3 171.7,64.8 170,62C168.3,59.2 167.7,57 166,55C164.3,53 161.7,51.2 160,50C158.3,48.8 156.2,49 156,48C155.8,47 158,45.3 159,44C160,42.7 160.8,41.8 162,40C163.2,38.2 165.8,35 166,33C166.2,31 165,29.3 163,28C161,26.7 156.2,25.2 154,25C151.8,24.8 151.5,26.2 150,27C148.5,27.8 147,29.6 145,30C143,30.4 140.7,29.5 138,29.5C135.3,29.5 130.7,31.2 129,30Z" fill="#16a8fc"/>
<path d="M117,56C117.3,54 117.7,52.9 119,52C120.3,51.1 122.3,50.7 125,50.5C127.7,50.3 131.7,51.1 135,51C138.3,50.9 141.5,50.5 145,50C148.5,49.5 152.5,48 156,48C159.5,48 163.7,48.7 166,50C168.3,51.3 169.7,53.7 170,56C170.3,58.3 169.3,61.7 168,64C166.7,66.3 163.7,67.8 162,70C160.3,72.2 159.2,75 158,77C156.8,79 156.3,81.2 155,82C153.7,82.8 151.5,83 150,82C148.5,81 148,77.3 146,76C144,74.7 141,74.5 138,74C135,73.5 130.8,73.7 128,73C125.2,72.3 122.8,71.5 121,70C119.2,68.5 117.7,66.3 117,64C116.3,61.7 116.7,58 117,56Z" fill="#16a8fc"/>
<path d="M79,100C79.8,99.3 82,99.2 84,99C86,98.8 89.6,98.2 91,98.5C92.4,98.8 92.8,99.9 92.5,101C92.2,102.1 90.4,103.8 89,105C87.6,106.2 85.4,107.7 84,108C82.6,108.3 81.3,107.8 80.5,107C79.7,106.2 79.2,104.2 79,103C78.8,101.8 78.2,100.7 79,100Z" fill="#16a8fc"/>
<path d="M69,77C69.3,76.5 70.5,76 71.3,77C72,78 72.5,81.2 73.5,83C74.5,84.8 76.7,86.9 77,88C77.3,89.1 76.4,89.8 75.6,89.4C74.8,89 73,87.1 72,85.5C71,83.9 69.9,81.4 69.4,80C68.9,78.6 68.7,77.5 69,77Z" fill="#16a8fc"/>
<path d="M221,77C221.8,76.7 224.5,76.5 226,77C227.5,77.5 229.5,79.1 230,80C230.5,80.9 230,82.3 229,82.5C228,82.7 225.3,81.6 224,81C222.7,80.4 221.5,79.7 221,79C220.5,78.3 220.2,77.3 221,77Z" fill="#16a8fc"/>
<path d="M243,110C243.7,109 246,108 247,108C248,108 249.2,109 249,110C248.8,111 247,113.3 246,114C245,114.7 243.5,114.7 243,114C242.5,113.3 242.3,111 243,110Z" fill="#16a8fc"/>
<path d="M204,73C204.5,72.5 206.5,72.5 207,73C207.5,73.5 207.5,75.5 207,76C206.5,76.5 204.5,76.5 204,76C203.5,75.5 203.5,73.5 204,73Z" fill="#16a8fc"/>
<path d="M0,32C1.3,37.3 3,32.3 8,32C13,31.7 25.5,31.3 30,30C34.5,28.7 32.8,25.7 35,24.4C37.2,23.1 40.2,22.1 43,22C45.8,21.9 49.2,22.8 52,23.6C54.8,24.4 57.3,25.9 60,27C62.7,28.1 65.3,29.2 68,30C70.7,30.8 73.3,31.4 76,32C78.7,32.6 81.8,33.6 84,33.6C86.2,33.6 87.7,32.9 89,32C90.3,31.1 91.5,29 92,28C92.5,27 89.7,26.3 92,26C94.3,25.7 103.3,27.3 106,26C108.7,24.7 105.7,20 108,18C110.3,16 118,17 120,14C122,11 140,2.3 120,0C100,-2.3 20,-5.3 0,0C-20,5.3 -1.3,26.7 0,32Z" fill="#1e38f6"/>
<path d="M128,0C107.3,2.2 126.3,10.3 128,13C129.7,15.7 135.8,14.8 138,16C140.2,17.2 138.7,19.7 141,20.5C143.3,21.3 149.5,21.2 152,21C154.5,20.8 154.5,19.2 156,19C157.5,18.8 157.7,19.7 161,20C164.3,20.3 171.5,20.5 176,21C180.5,21.5 184.7,21.8 188,23C191.3,24.2 193.7,26.8 196,28C198.3,29.2 199.7,30 202,30C204.3,30 206.7,28.7 210,28C213.3,27.3 218.7,26.7 222,26C225.3,25.3 228,24.2 230,24C232,23.8 233,23.5 234,25C235,26.5 234.7,31.7 236,33C237.3,34.3 240.8,34.5 242,33C243.2,31.5 241.3,25.5 243,24C244.7,22.5 250.5,28 252,24C253.5,20 272.7,4 252,0C231.3,-4 148.7,-2.2 128,0Z" fill="#1e38f6"/>
<path d="M156,49C157.2,48.2 160,47.2 162,47C164,46.8 166.3,48 168,47.5C169.7,47 171.5,45.2 172,44C172.5,42.8 170.3,41.2 171,40C171.7,38.8 173.8,37.7 176,37C178.2,36.3 181,36.2 184,36C187,35.8 190.7,35.8 194,36C197.3,36.2 201.3,36.3 204,37C206.7,37.7 208.8,38.5 210,40C211.2,41.5 211.7,44.5 211,46C210.3,47.5 208.2,48.3 206,49C203.8,49.7 200.3,49.5 198,50C195.7,50.5 193.7,51.3 192,52C190.3,52.7 188.8,52.7 188,54C187.2,55.3 187.2,57.3 187,60C186.8,62.7 187.3,68.3 186.5,70C185.7,71.7 183.8,70.7 182,70C180.2,69.3 178,68 176,66C174,64 172,59.3 170,58C168,56.7 166,58.3 164,58C162,57.7 159.5,57 158,56C156.5,55 155.3,53.2 155,52C154.7,50.8 154.8,49.8 156,49Z" fill="#1e38f6"/>
<path d="M119,58C119,56.1 119.5,54.6 121,53.5C122.5,52.4 124.8,51.8 128,51.5C131.2,51.2 136.3,52 140,52C143.7,52 147,51.7 150,51.5C153,51.3 155.5,50.8 158,51C160.5,51.2 163.2,52 165,53C166.8,54 168.5,55.5 169,57C169.5,58.5 169,60.3 168,62C167,63.7 164.3,65.3 163,67C161.7,68.7 160.8,70.2 160,72C159.2,73.8 159,76.8 158,78C157,79.2 155.5,79.3 154,79C152.5,78.7 150.3,77.5 149,76C147.7,74.5 147.8,71.2 146,70C144.2,68.8 141,69.3 138,69C135,68.7 130.8,68.7 128,68C125.2,67.3 122.5,66.7 121,65C119.5,63.3 119,59.9 119,58Z" fill="#1e38f6"/>
<path d="M69.6,79C69.7,78.6 70,78.2 70.6,79C71.2,79.8 72.2,82.6 73,84C73.8,85.4 75.2,86.8 75.5,87.5C75.8,88.2 75.6,88.7 75,88.3C74.4,87.9 72.8,86.1 72,85C71.2,83.9 70.4,82.5 70,81.5C69.6,80.5 69.5,79.4 69.6,79Z" fill="#1e38f6"/>
<path d="M12,17.5C12.2,17.1 12.5,16.3 14,16.2C15.5,16.1 19.7,16.3 21,16.6C22.3,16.9 22.7,17.6 22,18C21.3,18.4 18.6,18.7 17,18.8C15.4,18.9 13.3,18.8 12.5,18.6C11.7,18.4 11.8,17.9 12,17.5Z" fill="#a418ea"/>
<path d="M38,0C25,2.9 36.7,14.5 38,17.5C39.3,20.5 43,18 46,18C49,18 53,17.8 56,17.5C59,17.2 62.2,17.1 64,16.5C65.8,15.9 66,14.8 67,14C68,13.2 68.2,12.1 70,11.5C71.8,10.9 75,10.8 78,10.5C81,10.2 84.3,9.7 88,10C91.7,10.3 96.3,11.7 100,12.5C103.7,13.3 107.3,14.6 110,15C112.7,15.4 115,17.5 116,15C117,12.5 129,2.5 116,0C103,-2.5 51,-2.9 38,0Z" fill="#a418ea"/>
<path d="M223,14C227.8,13.3 247.2,12.7 252,14C256.8,15.3 254,20.7 252,22C250,23.3 244,22.2 240,22C236,21.8 230.8,21.7 228,21C225.2,20.3 223.8,19.2 223,18C222.2,16.8 218.2,14.7 223,14Z" fill="#a418ea"/>
<path d="M0,14C0.7,12.7 3.3,12.7 4,14C4.7,15.3 4.7,20.7 4,22C3.3,23.3 0.7,23.3 0,22C-0.7,20.7 -0.7,15.3 0,14Z" fill="#a418ea"/>
<path d="M181,42C181.5,41 183.2,39.7 185,39C186.8,38.3 189.5,38.2 192,38C194.5,37.8 198.2,37.5 200,38C201.8,38.5 203.2,40 203,41C202.8,42 200.8,43.5 199,44C197.2,44.5 194.2,43.8 192,44C189.8,44.2 187.7,45.3 186,45.5C184.3,45.7 182.8,45.6 182,45C181.2,44.4 180.5,43 181,42Z" fill="#a418ea"/>
<path d="M166,50C166.7,49.2 168.3,48.2 170,48C171.7,47.8 174.2,48.5 176,49C177.8,49.5 180,49.8 181,51C182,52.2 182,54.2 182,56C182,57.8 181.5,60.3 181,62C180.5,63.7 179.8,65.7 179,66C178.2,66.3 177,65.3 176,64C175,62.7 174.2,59.5 173,58C171.8,56.5 170.2,55.8 169,55C167.8,54.2 166.5,53.8 166,53C165.5,52.2 165.3,50.8 166,50Z" fill="#a418ea"/>
<path d="M153,55C153.8,53.8 156.2,53 158,53C159.8,53 162.3,54.2 164,55C165.7,55.8 167.7,56.8 168,58C168.3,59.2 167.3,60.8 166,62C164.7,63.2 161.7,64.7 160,65C158.3,65.3 157.2,64.8 156,64C154.8,63.2 153.5,61.5 153,60C152.5,58.5 152.2,56.2 153,55Z" fill="#a418ea"/>
<path d="M123,58C123.2,56.5 123.5,54.8 125,54C126.5,53.2 129.2,53.1 132,53C134.8,52.9 139,53.5 142,53.5C145,53.5 148,52.8 150,53C152,53.2 153.2,53.5 154,55C154.8,56.5 155.3,60 155,62C154.7,64 153.5,66.2 152,67C150.5,67.8 148.3,67.2 146,67C143.7,66.8 140.7,66.3 138,66C135.3,65.7 132.3,65.5 130,65C127.7,64.5 125.2,64.2 124,63C122.8,61.8 122.8,59.5 123,58Z" fill="#a418ea"/>
<path d="M118.5,42C118.7,40.9 118.9,39.2 120,38.6C121.1,38 123.5,38.3 125,38.4C126.5,38.5 128.3,38.8 129,39.4C129.7,40 129.5,41.1 129,42C128.5,42.9 127.7,44.4 126,45C124.3,45.6 120.2,46 119,45.5C117.8,45 118.3,43.1 118.5,42Z" fill="#f7de14"/>
<path d="M143,41.5C143.7,40.8 146.3,40.6 148,40.5C149.7,40.4 152,40.4 153,41C154,41.6 154.2,43 154,44C153.8,45 152.8,46.8 152,47C151.2,47.2 150.3,45.8 149,45.5C147.7,45.2 145,45.7 144,45C143,44.3 142.3,42.2 143,41.5Z" fill="#f7de14"/>
<path d="M120,46C121.2,45.2 123.7,44.8 126,44.5C128.3,44.2 131.7,43.8 134,44C136.3,44.2 137.8,45.5 140,46C142.2,46.5 144.8,46.9 147,47C149.2,47.1 152,46.1 153,46.5C154,46.9 154.2,48.9 153,49.5C151.8,50.1 148.5,49.9 146,50C143.5,50.1 140.7,50 138,50C135.3,50 132.7,49.9 130,50C127.3,50.1 123.8,50.7 122,50.5C120.2,50.3 119.3,49.8 119,49C118.7,48.2 118.8,46.8 120,46Z" fill="#f7de14"/>
<path d="M119.5,47C120.2,46.3 122.1,45.8 124,45.5C125.9,45.2 129.7,45.1 131,45.5C132.3,45.9 132.8,47.4 132,48C131.2,48.6 128,48.8 126,49C124,49.2 121.1,49.8 120,49.5C118.9,49.2 118.8,47.7 119.5,47Z" fill="#ff8a14"/>
<path d="M113,61C113.7,59.9 116,59.2 117,59.5C118,59.8 119,61.8 119,63C119,64.2 118,66 117,66.5C116,67 113.7,66.9 113,66C112.3,65.1 112.3,62.1 113,61Z" fill="#f7de14"/>
<path d="M114,61.5C114.3,60.8 116,60.6 116.5,61C117,61.4 117.3,63.3 117,64C116.7,64.7 115,65.4 114.5,65C114,64.6 113.7,62.2 114,61.5Z" fill="#ff8a14"/>
<path d="M57,59C57.5,58.2 59.7,57.5 61,57.5C62.3,57.5 64.2,58.1 65,59C65.8,59.9 66.5,62.2 66,63C65.5,63.8 63.3,63.7 62,63.5C60.7,63.3 58.8,62.8 58,62C57.2,61.2 56.5,59.8 57,59Z" fill="#f7de14"/>
<path d="M63,62C63.5,61.6 65.1,61.2 66,61.5C66.9,61.8 68.2,63.2 68.5,64C68.8,64.8 68.6,66.2 68,66.5C67.4,66.8 65.8,66.4 65,66C64.2,65.6 63.3,64.7 63,64C62.7,63.3 62.5,62.4 63,62Z" fill="#ff8a14"/>
<path d="M74,66C74.7,65 77.7,64.8 80,65C82.3,65.2 85.8,65.8 88,67C90.2,68.2 92,69.8 93,72C94,74.2 94.3,77.7 94,80C93.7,82.3 92.3,85 91,86C89.7,87 87.5,86.7 86,86C84.5,85.3 83,83.8 82,82C81,80.2 81,76.8 80,75C79,73.2 77,72.5 76,71C75,69.5 73.3,67 74,66Z" fill="#f7de14"/>
<path d="M74.5,66.5C75.2,66 77.9,65.3 80,65.5C82.1,65.7 85.5,66.8 87,67.5C88.5,68.2 89.3,69.4 89,70C88.7,70.6 86.7,71.1 85,71C83.3,70.9 80.6,69.9 79,69.5C77.4,69.1 76.2,69 75.5,68.5C74.8,68 73.8,67 74.5,66.5Z" fill="#ff8a14"/>
<path d="M94,88C94.5,87 95.9,85.3 97,85C98.1,84.7 100.2,85 100.5,86C100.8,87 99.8,89.8 99,91C98.2,92.2 96.3,93.5 95.5,93.5C94.7,93.5 94.2,91.9 94,91C93.8,90.1 93.5,89 94,88Z" fill="#f7de14"/>
<path d="M74.5,103C75,102.2 76.8,101.8 77.5,103C78.2,104.2 78.4,108 78.5,110C78.6,112 78.5,114.2 78,115C77.5,115.8 76.1,116.2 75.5,115C74.9,113.8 74.7,110 74.5,108C74.3,106 74,103.8 74.5,103Z" fill="#f7de14"/>
<path d="M75,104C75.2,103.3 76.1,103 76.5,104C76.9,105 77.2,108.3 77.3,110C77.4,111.7 77.2,113.3 77,114C76.8,114.7 76.3,115 76,114C75.7,113 75.5,109.7 75.3,108C75.1,106.3 74.8,104.7 75,104Z" fill="#ff8a14"/>
<path d="M135,90C136.2,89 141.6,88.8 143,90C144.4,91.2 143.8,94.7 143.5,97C143.2,99.3 142,103 141,104C140,105 138.4,104.3 137.5,103C136.6,101.7 135.9,98.2 135.5,96C135.1,93.8 133.8,91 135,90Z" fill="#f7de14"/>
<path d="M137.5,96C138,94.8 140.2,94.3 141,95C141.8,95.7 142.2,98.5 142,100C141.8,101.5 140.7,103.7 140,104C139.3,104.3 138.4,103.3 138,102C137.6,100.7 137,97.2 137.5,96Z" fill="#ff8a14"/>
<path d="M150,91C150.3,90.5 151.7,90.5 152,91C152.3,91.5 152.3,93.5 152,94C151.7,94.5 150.3,94.5 150,94C149.7,93.5 149.7,91.5 150,91Z" fill="#f7de14"/>
<path d="M204.5,95C205,93.8 206.9,93.2 208,93.5C209.1,93.8 210.4,95.2 211,97C211.6,98.8 212.2,102.6 211.5,104C210.8,105.4 208.1,106 207,105.5C205.9,105 205.4,102.8 205,101C204.6,99.2 204,96.2 204.5,95Z" fill="#f7de14"/>
<path d="M205.5,99C205.9,98 208.2,98.1 209,99C209.8,99.9 210.4,103.5 210,104.5C209.6,105.5 207.2,105.9 206.5,105C205.8,104.1 205.1,100 205.5,99Z" fill="#ff8a14"/>
<path d="M221,104C221.7,103.5 224.3,103.5 225,104C225.7,104.5 225.7,106.5 225,107C224.3,107.5 221.7,107.5 221,107C220.3,106.5 220.3,104.5 221,104Z" fill="#f7de14"/>
</g>
<use href="#water" fill="#fff"/>
<use href="#coast" fill="none" stroke="#1a1414" stroke-width="0.62" stroke-linejoin="round"/>
<use href="#water" fill="none" stroke="#3a3030" stroke-width="0.35"/>
</g>
<rect x="-0.15" y="-0.1" width="252.2" height="125.2" fill="none" stroke="#222" stroke-width="0.9"/>
<text x="0" y="130.2" font-size="3.9" text-anchor="middle" class="t">180</text><text x="42" y="130.2" font-size="3.9" text-anchor="middle" class="t">120W</text><text x="84" y="130.2" font-size="3.9" text-anchor="middle" class="t">60W</text><text x="126" y="130.2" font-size="3.9" text-anchor="middle" class="t">0</text><text x="168" y="130.2" font-size="3.9" text-anchor="middle" class="t">60E</text><text x="210" y="130.2" font-size="3.9" text-anchor="middle" class="t">120E</text><text x="252" y="130.2" font-size="3.9" text-anchor="middle" class="t">180</text><text x="-1.6" y="1.8" font-size="3.9" text-anchor="end" class="t">90N</text><text x="-1.6" y="10.1" font-size="3.9" text-anchor="end" class="t">80N</text><text x="-1.6" y="18.5" font-size="3.9" text-anchor="end" class="t">70N</text><text x="-1.6" y="26.8" font-size="3.9" text-anchor="end" class="t">60N</text><text x="-1.6" y="35.1" font-size="3.9" text-anchor="end" class="t">50N</text><text x="-1.6" y="43.5" font-size="3.9" text-anchor="end" class="t">40N</text><text x="-1.6" y="51.8" font-size="3.9" text-anchor="end" class="t">30N</text><text x="-1.6" y="60.1" font-size="3.9" text-anchor="end" class="t">20N</text><text x="-1.6" y="68.5" font-size="3.9" text-anchor="end" class="t">10N</text><text x="-1.6" y="76.8" font-size="3.9" text-anchor="end" class="t">EQ</text><text x="-1.6" y="85.1" font-size="3.9" text-anchor="end" class="t">10S</text><text x="-1.6" y="93.5" font-size="3.9" text-anchor="end" class="t">20S</text><text x="-1.6" y="101.8" font-size="3.9" text-anchor="end" class="t">30S</text><text x="-1.6" y="110.1" font-size="3.9" text-anchor="end" class="t">40S</text><text x="-1.6" y="118.5" font-size="3.9" text-anchor="end" class="t">50S</text><text x="-1.6" y="126.8" font-size="3.9" text-anchor="end" class="t">60S</text>
<rect x="56" y="143" width="20.2" height="4.8" fill="#f6322e"/>
<rect x="76" y="143" width="20.2" height="4.8" fill="#ff8a14"/>
<rect x="96" y="143" width="20.2" height="4.8" fill="#f7de14"/>
<rect x="136" y="143" width="20.2" height="4.8" fill="#16a8fc"/>
<rect x="156" y="143" width="20.2" height="4.8" fill="#1e38f6"/>
<rect x="176" y="143" width="20.2" height="4.8" fill="#a418ea"/>
<text x="76" y="153" font-size="5.4" text-anchor="middle" letter-spacing="0.35" fill="#222">-40</text>
<text x="96" y="153" font-size="5.4" text-anchor="middle" letter-spacing="0.35" fill="#222">-20</text>
<text x="116" y="153" font-size="5.4" text-anchor="middle" letter-spacing="0.35" fill="#222">-10</text>
<text x="136" y="153" font-size="5.4" text-anchor="middle" letter-spacing="0.35" fill="#222">10</text>
<text x="156" y="153" font-size="5.4" text-anchor="middle" letter-spacing="0.35" fill="#222">20</text>
<text x="176" y="153" font-size="5.4" text-anchor="middle" letter-spacing="0.35" fill="#222">40</text>
</g>
<g transform="translate(291,54)">
<text x="50.5" y="-3.9" font-size="7.5" textLength="11.4" lengthAdjust="spacing">(b)</text><text x="66.8" y="-3.9" font-size="7.5" textLength="26.8" lengthAdjust="spacing">change</text><text x="99.5" y="-3.9" font-size="7.5" textLength="5.6" lengthAdjust="spacing">in</text><text x="110.3" y="-3.9" font-size="7.5" textLength="35.7" lengthAdjust="spacing">standard</text><text x="151.9" y="-3.9" font-size="7.5" textLength="31.7" lengthAdjust="spacing">deviation</text><text x="189.5" y="-3.9" font-size="7.5" textLength="13.1" lengthAdjust="spacing">(%)</text>
<g clip-path="url(#frame)">
<g clip-path="url(#land)">
<rect x="0" y="0" width="252" height="125" fill="#f6322e"/>
<path d="M93.1,20L94.5,19.5L96,19.5L96.5,19.3L97.5,18.6L99,17L98.5,16.5L97.5,17L97,16.5L97,15L97.8,14L98.7,13.5L98.6,13L97.5,12.3L96,12.5L93.5,11.8L91,11.5L90,11.5L88.4,12L87.9,12.5L87,15.2L87,16.1L87.2,16.5L89,18.5L90,19.2ZM213.3,84.5L213.5,84.3L214,84.3L216.2,82L215,81.1L213.5,81.1L213,81.4L212,80.9L211.6,80.5L211.5,79L211.6,78L212,77.5L213,77.3L213.1,76L213.5,75.6L214,75.6L214.9,76.5L214.5,77L214.5,77.5L215,77.6L215.5,77.5L217.5,76.2L220.7,75.5L220.6,75L219.5,73.9L217.5,73.9L215.5,71.9L214.5,72.9L214,72.9L213,71.9L212.5,72.4L210,72.5L209.5,72L210.1,71.5L210.1,71L211,70.1L211.5,70.6L212.5,70.6L213,71.1L214,71.1L215.6,69.5L215.6,69L216.1,68.5L215.6,68L215.6,67.5L214.6,66.5L215.1,66L215.1,64.5L213.6,63L213.6,62.5L213.1,62L213.1,61.5L212.6,61L212.6,60.5L213.1,60L213.1,59.5L211.5,57.9L211,57.9L210.5,57.5L212.1,56L212.1,55L212.6,54.5L212.6,54L211.6,53L211.6,52.5L212.1,52L212.1,51.5L212.6,51L212.6,48.5L211.6,47.5L211.6,47L211.1,46.5L211.1,45.5L212.5,44L213,44.5L213,46L214.5,47.6L215,47.6L215.4,48L215.4,48.5L217,50.1L218,50.1L219.5,48.7L220.5,48.7L222,47.2L223.5,47.2L224,46.7L224.5,46.7L226.1,45L226.1,42.5L226.5,42L226.5,41L229,38.6L229.5,38.6L231,37L229.5,35.4L228.5,35.4L228,35.9L227.6,35.5L227.6,34.5L228.1,34L228.1,32.5L227.6,32L227.5,30L226,28.5L225.5,28.4L225,28.9L223.5,28.9L223.1,28.5L224,27.5L224.5,27.4L223,27.2L221,28L220.5,28L218.5,27.5L215,28.1L214,28.6L212.5,29L209,29.1L205.8,30.5L204.4,31.5L205.1,32.5L204.8,33L204.5,33.1L203.9,32.5L203.7,31L203.9,30L203.5,29.6L203,29.4L200,28.9L195.9,24L194,22.4L193.5,22.2L191.5,21.8L190,22.2L189.5,21.9L188.5,20.8L188,20.6L186.5,21.2L185.5,21.8L183.5,22.5L179.5,20.7L177,20.2L174,18.7L171,17.9L168.5,17.7L167.7,17L166.5,16.5L164.5,15.9L162.5,15.9L160.9,15L160.5,15L161.4,16L160.5,16.9L160,16.9L159.5,17.4L158.5,17.4L157.5,16.5L156.5,16.5L155,18.1L154,17L153.5,17L153,16.4L152.5,16.4L152,15.9L150.5,15.9L150,15.4L148.5,15.4L148,15L142.5,15.7L141.5,15.5L139.5,15.8L138,15.7L137,16.4L136.5,16.4L133,19.9L132.5,19.9L132,20.4L131.5,20.4L131,20.9L130.5,20.9L127.9,23.5L127.9,25.5L129.9,27.5L129.9,28.5L128,30.3L127,29.3L126.5,29.3L126.2,29L126.2,28.5L125.7,28L125.7,27L125.2,26.5L125.2,26L123.5,24.4L122,24.4L120.4,26L120.3,26.5L119.8,27L119.8,27.5L119.5,27.8L119,27.8L117.3,29.5L117.3,31.5L119,33.2L120.5,33.1L121.4,34L120.9,34.5L122.8,36.5L122.5,36.8L120,36.9L119.5,37.4L119,37.4L117.3,39L117.8,39.5L117.9,42L117.4,42.5L117.5,43L117.9,43.5L117.8,44L119.2,45.5L119.2,46L117.7,47.5L117.7,48L117.2,48.5L117.2,49.5L114.2,52.5L114.2,53L113.7,53.5L113.7,54L113.2,54.5L113.2,55L112.7,55.5L112.7,56L112.3,56.5L112.2,58L112.7,58.5L112.7,60L112.2,60.5L112.2,62L111.8,62.5L111.8,63L111.8,63.5L112.4,64L112.5,64.5L114.4,66.5L114.5,67L115,67.4L115.3,67L115.5,65.5L116.5,66L116.8,67L116.5,68L116.1,68.5L117.5,69.9L119.5,71.2L121,71.5L122.5,70.9L123.1,72L124.5,72.1L125,71.6L126,71.6L126.5,71.1L127.7,71L126.4,70L125,68.5L125,68L125.2,67.5L126,66.5L125.6,64.5L125.5,63.5L125.8,62L127,60.5L126.8,58L127,57.5L127.5,57L129.1,56L131.9,53.5L133,53.1L136,53.1L138.5,53.4L142.5,53.2L145,53.4L148.5,52.8L150.5,52.9L153,52.5L153.8,52L154.5,50.2L155,49.8L155.5,49.8L156.5,50.3L157.6,51.5L159,52.8L163.5,53.6L166.4,56.5L168,57.4L169,56.5L169,56L169.5,55.5L170,55.4L170.2,55.5L172.5,55.5L173,56L172.9,56.5L175,58.5L174.9,59L175.4,59.5L175.4,61.5L175.9,62L175.9,62.5L176.4,63L176.4,64L176.9,64.5L176.9,65L177.4,65.5L177.4,66.5L178.4,67.5L178.4,68L180,69.6L180.5,69.6L182,71.1L182.5,71.1L183.1,70.5L184.1,69.5L184.1,69L184.6,68.5L184.1,68L184.1,67.5L183.1,66.5L183.1,65L183.6,64.5L183.6,62L186,59.6L186.5,59.6L188,58.1L188.5,58.1L189,57.6L190,58.6L191,59.1L192.7,62L194.1,64L195.5,65L196.5,66.2L197,66.5L197.5,66.5L198,67L198,67.5L199.5,69.1L203,65.5L203,65L204.1,64L203.6,63.5L203.6,62L202.7,61L204.7,59L204.7,58L205,57.7L206,57.7L206.5,57.2L207,57.2L207.5,56.7L208,56.7L208.5,56.1L210.5,58L209,59.5L208.9,60L208.4,60.5L208.4,62.5L209.4,63.5L209.4,64L207.4,66L207.4,66.5L206.4,67.5L206.4,68.5L203,71.9L202.5,71.9L200.5,73.9L200.1,73.5L200.1,72.5L199.6,72L199.6,71L199,70.5L199,70L197.5,68.5L197,68.5L193.5,67.8L193.4,68.5L193,68.9L192.5,68.9L192.2,69.5L192,72L193.4,73.5L193.4,74L193.9,74.5L193.9,75L194.9,76L194.9,76.5L195.4,77L195.4,77.5L198,80L198,80.5L199.5,82.1L200,82.1L200.5,82.6L201,82.6L201.5,83.2L204.5,83.3L205,83.8L205.5,83.8L206,83.3L206.5,83.8L211.5,83.8L212.5,84.8L213,84.8ZM114.7,23L115,22.7L115.5,22.7L117.7,20.5L117.7,20L115.5,17.9L111,17.9L110.6,17.5L111.5,16.5L111.5,16.3L110.5,16.7L109,16.7L108,17.1L106.5,17L106.3,17.5L106.5,19L107.5,19L107.9,19.5L107.4,20L108.4,21L108.4,21.5L110,23.2L114.5,23.2ZM209.2,24L209.8,23.5L211,21L211,19.5L210.8,19L210.5,18.7L210,18.5L206,19.2L203.5,18.7L202.5,18.9L202,19.2L201.7,20.5L201.9,23L202.1,23.5L202.5,23.8L207,23.6L208.5,24.1ZM78.8,122.5L79,122.3L80,122.3L81.8,120.5L79.3,118L79.3,117.5L79.8,117L79.8,116.5L80.3,116L80.3,115.5L81.3,114.5L80.8,114L80.8,113L82.3,111.5L82.3,111L82.7,110.5L82.7,110L83.7,109L83.7,108.5L84,108.2L85.5,108.2L87.1,106.5L87.1,105.5L88,104.6L88.5,104.6L90.1,103L90,102.5L90.5,102L89.7,101.5L89,100.4L87.6,99.5L87.3,99L89,98.9L89.7,97.5L90.5,97.1L91,97.2L91.7,97.5L92,98L92.2,99L92.5,99.1L93.2,98.5L93.2,97.5L93.7,97L93.7,96.5L94,96.2L94.5,96.2L95,95.7L95.5,95.7L96,95.2L96.5,95.2L99.2,92.5L99.2,92L99.7,91.5L99.7,89.5L100.2,89L100.2,85.5L100.7,85L100.7,84.5L102.2,83L102.2,82.5L102.7,82L102.7,81.5L103.2,81L102.7,80.5L102.7,79.5L100.5,77.4L100,77.4L99.5,76.9L99,76.8L98.5,76.3L98,76.3L97,75.3L94.5,75.3L94,74.8L93.5,74.8L92.2,73.5L92.2,73L91.7,72.5L91.7,72L91.2,71.5L91.2,71L89.5,69.3L89,69.3L88,68.3L86,68.4L84.7,67L84.7,66.5L82.5,64.3L78,64.4L77,63.4L76.5,63.9L76,63.8L75.5,63.3L75,63.3L74.5,63.8L74,63.8L72,65.8L71,65.8L70.5,65.3L70,65.3L69.5,65.8L69.2,65.5L69.1,62.5L67,60.4L66,60.4L65.6,60L65.6,59.5L66.1,59L66.1,58.5L67,57.6L69,57.6L69.5,58L70,58L70.4,58.5L69.5,59.5L71.5,61.5L72,61.5L73,60.6L73.5,60.6L74,61.1L75.5,61.1L77.5,61.1L78,60.6L79,61.6L79.5,61.6L80,61.1L81.1,60L81.1,59.5L79.5,58L78,58L77,56.9L75,56.9L74.5,57.4L73,55.9L72.5,55.9L72,55.5L71.5,55.5L70.5,54.5L70.6,54L71.6,53L71.6,52.5L71.1,52L71.1,51.5L70.6,51L70.7,50L70.1,49.5L70.1,49L71.5,47.6L72,47.6L74.6,45L74.1,44.5L74.1,43.5L76,41.6L76.5,41.6L78.1,40L78.1,39.5L78.5,39.1L79.5,40.1L80,40.1L81,39.1L82,39.1L82.5,38.6L83,38.6L85,36.6L85.5,37.1L86.5,37.1L87,37.6L88.5,37.6L90.1,36L90.1,35.5L90.6,35L90.1,34.5L90.1,34L88.5,32.5L88,32.5L86.5,33.4L85.5,33.7L82.5,33L78,33.3L76.5,32.8L73.5,32.1L71.5,31.3L70.3,30.5L67,29L65.5,28.7L65,28.5L64,26.7L63,26.2L61.5,26L59.1,24.5L58,23.3L56,23.2L54,23.7L53.3,22.5L52.8,22L49.5,20.4L48,20.2L47,20.3L42.8,21.5L42,22.2L41.5,21.7L41,21.6L38.5,22.3L35,24.3L31.5,28L33.5,30.1L34,30.1L34.4,30.5L34.4,31L34.9,31.5L34.9,32L35.4,32.5L34.9,33L36.9,35L36.9,35.5L37.4,36L37.4,37.5L36.9,38L36.9,39.5L37.4,40L37.4,41.5L38,42L38,42.5L38.5,43L38.5,43.5L39,44L39,44.5L39.4,45L39.4,45.5L41.5,47.6L42,47.6L42.4,48L42.4,48.5L42.9,49L42.9,49.5L43.4,50L43.4,50.5L43.9,51L43.9,51.5L45.4,53L45.4,53.5L49,57L50,56.1L50.4,56.5L50.4,57.5L50.9,58L50.9,58.5L53,60.6L53.5,60.6L54.5,61.6L55,61.6L55.5,62.1L56,62.1L56.5,62.6L57.5,62.6L58,63.1L60,63.1L60.5,63.6L61,63.6L62,64.6L62.5,64.6L63,65.1L63.5,65L64,65.5L65,65.7L65.1,66.5L67.5,69.2L68,69.2L68.5,69.7L69,69.7L69.8,70.5L69.8,72.5L67.8,74.5L67.8,76L67.3,76.5L68.3,77.5L67.3,78.5L67.3,79.5L67.8,80L67.8,80.5L68.3,81L68.3,81.5L68.8,82L68.8,82.5L69.3,83L69.3,83.5L69.8,84L69.8,84.5L70.3,85L70.3,85.5L70.8,86L70.8,86.5L74,89.5L74.2,89.5L73.3,87.5L72.4,86.5L70.5,82.1L70.3,80L70.5,79.7L71,79.7L71.7,80L72.5,80.7L73.2,82.5L74.3,84.5L76.2,89.5L76.2,90L76,90.2L75,90L74.8,97L74.3,97.5L74.3,99L73.8,99.5L73.8,103.5L73.3,104L73.3,105L72.8,105.5L72.8,108.5L72.3,109L72.3,110L72.8,110.5L72.7,111.5L72.2,112L72.2,112.5L71.3,113.5L71.3,117L71.7,117.5L71.7,118L74.5,120.8L75,120.8L76,121.8L76.5,121.8L77,122.3L77.5,122.3L78,122.8L78.5,122.8ZM148.5,23.1L148,22.9L147.7,22.5L147.7,22L148,21.5L148.7,21.5L149.1,22L149,22.5ZM165,22.6L164.5,22.3L164.4,22L164.5,21.8L165,21.6L165.2,22ZM170.5,23.7L170,23.4L169.6,22.5L169.7,22L170,21.9L170.5,21.8L170.7,22ZM221.1,25L221.6,24.5L221.9,23L221.9,22.5L221.5,21.9L220.5,21.8L217.5,22.3L217.2,22.5L217.1,23L217.5,24L220,25ZM168.5,27.6L168,27.7L167.3,27L167.7,25L168,24.7L169,24.8L169.6,25.5L169.6,26ZM140,26.4L139.6,26L140,25.6L140.4,26ZM139.5,26.9L139.1,26.5L139.5,26.1L139.9,26.5ZM139,27.4L138.6,27L139,26.6L139.4,27ZM134.5,28L134.4,27.5L134.5,27.3L135,27.5L134.9,28ZM63.5,30.6L61.5,30.3L61,30L61.1,29.5L61.5,29.3L63,29.3L64,29.5L64.1,30ZM218.5,43.8L218,43.8L217.7,43.5L217.7,43L217.2,42.5L217.1,41.5L218.5,40.1L220.5,40.1L223,37.5L223.5,38L223.5,38.5L222.4,39.5L222.3,42L222,42.3L221.5,42.3L220.5,43.3L219,43.3ZM148,38.8L147.5,38.8L147.2,38.5L147.5,38.2L148,38.2L148.3,38.5ZM181.5,66.5L181,66.9L180.5,66.8L179.8,66L178.8,64L177.8,61L177.2,60L174.6,58L174.2,57L173.5,56L171.5,55L170.3,53L170.2,51.5L170.4,51L172,50.1L177.5,49L179.5,49.4L180.5,49.7L182.5,51.5L183.5,51.7L183.8,51.5L183,50.3L181,48.5L180.3,47.5L179.7,46L180,43.5L180.5,42.8L183.5,41.1L184.3,39.5L185,38.8L185.5,38.6L186.5,38.5L188,38.8L190.5,38.7L191,38.8L191.5,39.2L192.5,39L192.8,38.5L193.5,38.1L196,38.3L197.5,38.7L201.1,40L201.9,41.5L201.7,44.5L201.4,45L199.5,45.7L197.7,47L197.4,48L197.6,50L197.5,51.3L196.3,54L195.5,55.2L194,55.9L192,56L191,56.4L190,56.4L189.5,56.3L188.5,55.5L187,53.5L186,52.6L185,52.3L184.6,52.5L184.6,54L185,55.5L185.7,57L185.7,57.5L184.2,59.5L183,61.5L182.6,64.5ZM224.5,39.6L223.6,39.5L223.3,39L223.5,38.6L224,38.2L224.5,38.3L224.6,38.5L224.8,39.5ZM73.5,40.1L73,40.3L72.2,40L71.6,39L73,38.6L74,39L74.1,39.5ZM129,42.8L128,42.8L127.2,42L129,40.2L130,40.2L130.3,40.5L129.8,41L129.7,42ZM138.5,47.2L137.5,47.2L136.5,46.2L136,46.2L135.8,46L136,45.8L136.5,45.8L137,45.3L138.3,44L138.3,43.5L138.5,43.3L139,43.3L139.2,43.5L139.2,44L140.7,45.5L140.5,45.7L140,45.7ZM135.5,45.7L135,45.7L134.8,45.5L135,45.3L135.5,45.3L135.7,45.5ZM148,47.2L144.5,47.2L144.3,47L145.5,45.8L146,45.8L146.5,46.3L147.5,46.3L148.2,47ZM60.5,57.9L59.5,57.9L59.2,57.5L59.2,52L59.5,51.7L62,51.7L62.5,52.2L63,52.1L64,51.1L65,51.2L65.5,51.7L66,51.7L66.3,52L66.4,52.5L66.8,53L66.8,53.5L67.4,54L67.4,54.5L67,54.9L66.5,54.9L65.5,55.9L65,55.4L64,55.4L63.5,55.9L62.5,55.8ZM210.5,65L210,64.5L210.5,64L211,64.5ZM210.5,67.9L210.1,67.5L210.5,67.1L210.9,67.5ZM210,68.5L209.5,68L210,67.6L210.4,68ZM209.5,69.4L209.1,69L209.1,68.5L209.5,68L210,68.5L209.9,69ZM198.5,70.2L198,70.4L197,70.1L195.7,70L196,69.9L196.5,70L197,69.6L197.5,68.9L198.4,69.5L198.6,70ZM210,69.9L209.6,69.5L210,69.1L210.4,69.5ZM210.5,70.4L210.1,70L210.5,69.6L210.9,70ZM141.3,105L141.5,104.8L144.5,104.8L149.8,99.5L149.8,99L150.3,98.5L150.3,97.5L150.8,97L150.8,96.5L152.3,95L152.3,91L154.5,88.5L154.9,89L154.8,89.5L155.3,90L155.2,91.5L154.7,92L154.7,92.5L154.2,93L154.2,94L154.7,94.5L154.7,95L156.5,96.7L157.5,97.3L158.5,97.1L159,96.6L160.6,95L160.7,93.5L161.2,93L161.2,92L161.7,91.5L161.7,90.5L162.2,90L162.2,89L162.7,88.5L162.7,86.5L162.2,86L162.2,85L160.5,83.5L156,87.9L155.6,87.5L155.7,84.5L155.2,84L155.1,82.5L154.6,82L154.6,80L154.6,79.5L155.1,79L155.1,78L156.1,77L156,76L155.5,75.7L153.5,75.5L152.5,75.7L151.5,76.2L150,76L148.5,76.3L148,76.7L147.3,77.5L146.1,80L146.3,82.5L146.2,83L145.5,83.3L142.5,82.2L138.8,81.5L138,80.5L137.9,80L138,78.5L137.2,76.5L136.1,75L135.5,73.5L132.5,72.8L131,72.7L131,74.8L132,75L132.7,75.5L133.2,80L133.9,81.5L133.9,82.5L134.2,83.5L134,85L134.4,87L133.2,88.5L133.1,90L133.4,92L133.8,92.5L133.8,93L134.2,93.5L134.2,95.5L134.7,96L134.7,97L135.2,97.5L135.2,98L135.7,98.5L135.7,99.5L136.2,100L136.2,100.5L136.7,101L136.7,103L138.5,104.8L139,104.8L139.5,105.3L141,105.3ZM201,76.9L200.1,76L200.1,75.5L199.6,75L199.6,74L200,73.6L200.4,74L200.4,74.5L200.9,75L200.9,75.5L201.4,76L201.4,76.5ZM72.5,76.2L71.8,76L72,75.5L72.5,75.2L73,75.3L73,75.5ZM202.5,78.4L202,78.4L201.1,77.5L201.1,77L201.5,76.6L202.9,78ZM207.5,79.9L207,79.9L206.6,79.5L207.5,78.6L207.9,79L207.9,79.5ZM83,82.1L82.5,82.3L82,82.2L81.3,81.5L81.5,80.6L82.5,79.4L83,79.4L83.5,80L83.7,80.5L83.6,81ZM206.5,80.4L206.1,80L206.5,79.6L206.9,80ZM228.6,112.5L230.6,110.5L230.6,110L231.1,109.5L231.1,109L230.1,108L232.2,106L232.2,105.5L232.8,105L232.8,103.5L233.8,102.5L233.8,102L234.3,101.5L234.3,101L234.8,100.5L234.8,96.5L234.3,96L234.3,95.5L233.2,94.5L233.3,94L232.3,93L232.3,92.5L229.8,90L229.8,89.5L229.3,89L229.3,87.5L227.8,86L227.8,85L227.3,84.5L227.3,84L226.8,83.5L226.8,83L227,82.8L229,84.8L230,84.8L230.5,85.3L231,85.3L232.8,83.5L231.8,82.5L231.7,82L231.1,81.5L231,81.2L225,81.1L221,81.3L220.9,81.5L221.3,82L222.5,83.3L223.5,83.3L223.7,83.5L223.7,84L223,84.7L221.5,83.2L220,83.2L219.5,82.7L218,82.7L215.5,85.2L215,85.2L214.5,84.7L212,87.2L211.5,87.2L209.7,89L209.7,89.5L209.5,89.7L208.5,89.7L208,90.2L207,90.2L206,91.2L205.5,91.2L203.2,93.5L203.7,94L203.7,95.5L203.2,96L203.2,96.5L203.7,97L203.7,98L204.2,98.5L204.2,99L204.8,99.5L204.8,103.5L207,105.8L208,105.8L208.5,105.3L209,105.3L209.5,104.8L212,104.8L213.5,103.3L215.5,103.3L216,102.7L218,102.7L220.5,105.3L221.5,105.3L224.5,108.2L225.5,108.2L226.5,108.8L226.7,109.5L226.5,111L228,112.6ZM80.5,83.7L80,83.8L79.5,83.7L79,82.8L79.2,82L80,81.5L80.5,81.8L80.6,82L80.8,83.5ZM223,87.2L222.8,87L222.8,85.5L223,85.3L223.2,85.5L223.2,87ZM155.5,88.4L155,88L155.5,87.6L155.9,88ZM155,88.9L154.5,88.5L155,88L155.4,88.5ZM86,99.1L85.5,99.3L85.3,98.5L85.9,98L86.6,98L87,98.5ZM244.6,115L245,114.6L245.5,114.6L247.1,113L247.1,112L248.5,110.6L249,110.6L251,108.5L251,108L251.5,107.5L251.5,105.4L250.5,104.5L248,104.5L246.5,104.8L246.4,107L245.9,107.5L245.9,108L244,109.9L243.5,109.9L241.5,112L241.7,113.5L242.5,114.5L243,114.5L243.5,115ZM85.2,120L86.7,118.5L86.7,117.5L85,115.8L83.5,115.7L81.7,117.5L81.7,118.5L83.5,120.3L85,120.2Z" fill="#ff8a14" fill-rule="evenodd"/>
<path d="M114.5,23L115,22.6L115.5,22.6L117.6,20.5L117.5,20L116,18.5L115.5,18.3L114.5,18.5L113.3,19L112.8,19.5L112.2,20.5L111.1,21.5L110.5,21.7L110,21.5L109.9,21L110.8,20L111,18.5L110,18.2L109.5,18.4L109,19.5L108.8,20.5L109,22L110,23.1ZM158.6,19.5L158.6,19L158,18.5L157.5,18.9L157.7,19.5L158,19.7ZM153.1,25.5L153.8,25L153.6,23.5L153.7,23L155,21.5L154.5,21.3L153,21.1L152,21.5L151.9,22L152.2,23.5L152,24.7L152.5,25.5ZM178.7,27L179,26.5L179.1,26L178.7,25.5L178,25L177.5,24.9L177,25.2L176.9,26L177.5,27.1L178,27.2ZM113.4,63.5L113.8,63L114.4,60.5L117.5,58L122,56.6L123.5,56.7L125,57.3L126,57.2L128.4,55.5L131,53L132,52.5L133,52.3L137,52.1L140.5,52.6L142.5,52.4L144.5,52.6L149,52L150.5,52.2L153,51.6L154.1,49.5L154.5,44L155,43.4L157.5,43.9L159.5,43.4L160,43.1L160.5,42.4L162.5,40.6L164,40.3L164.5,40L166.8,37L168,35L168.3,34L168.6,32L168.3,31L167.5,30.2L165,29.8L163.5,30L163,28.5L162.5,28.1L161.5,27.6L160,27.4L157.5,26L156,25.6L154,25.6L153.7,26L152.1,27L150.5,27.5L147.5,26.7L146,27.2L145,27.2L144.2,26.5L144.6,26L144.5,25.5L144,25.7L143.8,26.5L143.4,27L141.5,28.5L141,28.6L140,28.2L138,28.4L137,28.7L134.5,30.1L134,30.2L132.7,29.5L132,29.5L130.5,29.7L129.2,30.5L128.5,30.6L128,30.5L127,29.4L126.5,29.4L126.1,29L126.1,28.5L125.6,28L125.6,27L125.1,26.5L125,26L120.5,26.1L120.5,26.5L119.9,27L119.9,27.5L119.5,27.9L119,27.9L117.4,29.5L117.4,31.5L119,33L120.1,33L120.5,32.4L121.5,33.1L123.5,33.5L123.8,34L123.5,34.6L122.4,35.5L122.5,36L122.9,36.5L122.5,36.9L120,37L119.5,37.5L119,37.5L117.5,39L118,39.5L118,41.9L118.5,43L118.4,43.5L118,44L119.3,45.5L119.3,46L117.8,47.5L117.8,48L117.3,48.5L117.3,49.5L114.3,52.5L114.3,53L113.8,53.5L113.8,54L113.3,54.5L113.3,55L112.8,55.5L112.8,56L112.4,56.5L112.3,58L112.8,58.5L112.8,60L112.3,60.5L112.3,62L111.9,62.5L112,63.5L112.5,63.8ZM58.9,61L58.3,59.5L58.2,59L59,58.2L59.5,58L59,57.5L59.1,52L59.5,51.5L62,51.6L62.5,52L63,52L63.1,51L63.4,50.5L64,50.4L65.5,51.5L66,51.5L66.5,52L66.5,52.5L67,53L67,53.5L67.5,54.1L68,54.1L69.2,53.5L70,52.5L70.1,51.5L70.5,50.9L70.5,50L70,50L69.5,50.3L68,50L66.5,48.7L64.5,47.6L63.1,45.5L63,44L63.2,42L64,41.2L64.5,40.9L66,40.9L68,40.4L68.5,40.5L70,41.1L70.4,40.5L70.2,40L69.5,39.4L66,37.6L64.5,37.3L63,35.5L60.6,34.5L59.5,32.6L58,31.3L56.5,31L55,30.3L53.5,30L51.4,28.5L50.5,28.1L49.5,27.9L48,28L46,27.5L44,27.4L42.5,28.4L40.9,29L40,29.9L38.5,30.3L38.3,32L38.7,33.5L38.5,33.8L38,33.8L37.8,34L37.6,34.5L38,35L39,34.4L39.5,34.8L40,36L40.3,38L41.5,39L42,39.1L42.5,38.9L44,37.8L45.5,37.7L46,37.6L47,37L48.5,36.9L49.4,37L50,37.5L50.5,38.7L51,39.2L51.6,39L52,37.9L52.5,37.9L54,39L55.7,39.5L56.5,40L57.4,41.5L57.6,43L57,43.3L56.5,43.2L56.3,41.5L55.5,40.7L53.1,44.5L52.5,47.1L51.5,47.3L51,47.1L50,45.9L47,44.9L45.5,45.2L45.1,45.5L45.2,46L45.7,47L46,48.7L47.2,50.5L48,52.3L50,53.6L52,54.4L53.5,54.5L55.5,55.2L55.9,55.5L56,56L55.8,56.5L54.4,57.5L54.7,58.5L56,60.5L56.5,60.9L58.5,61.3ZM186.6,32.5L187.1,30.5L186.5,28.1L186,27.7L185,27.4L183.5,27.7L183,28.5L182.5,30.5L182.5,31.5L182.7,32.5L183,32.9L183.5,33L186,32.7ZM159.5,33.3L159,33.4L157.5,33.2L157,32.5L157.5,31.7L158,31.7L159,32.2L159.5,32.2L160,32.5ZM195.9,37L196.5,36.5L196.9,34.5L196,33.5L195,33.1L193,33.1L191,33.8L190.5,34.2L189.8,35.5L189.8,36.5L190,36.9L190.5,37.2L193.5,36.8L195,37.1ZM131.5,35.3L131,35.4L130.5,34.7L130.5,33.9L131,33.5L131.7,34L132,34.5L131.8,35ZM160,35.6L159.5,35.4L159,34.5L159.5,33.8L160.5,34.7L160.5,35.1ZM82.7,36L82.5,34.8L82,34.8L81.4,35L81.3,35.5L81.5,36.1L82.5,36.1ZM139.5,38.2L138.5,38.3L137.5,37.8L136.3,37.5L137,36.8L137.5,35.8L138,35.5L139.5,35.3L141,36L141.1,36.5L141,37.1ZM135,37.1L134.5,37.2L133.9,37L133.8,36.5L134,36L134.5,35.9L134.8,36L135.1,36.5ZM210.9,41.5L211.6,40.5L212.4,40L214.5,40L215.4,39.5L215.2,36.5L215,36.1L214.5,36L212.5,36.2L210.5,37L209.8,37.5L209.3,38.5L209,40L209.1,40.5L209.5,41.7L210,41.9ZM148,38.9L147.5,38.9L147,38.5L147.5,38L148,38L148.5,38.5ZM180.5,41L181.6,40L181.5,39.5L181,39.3L179.8,41L180,41.3ZM129,42.9L128,42.9L127.1,42L129,40.1L130,40.1L130.4,40.5L129.9,41L129.8,42ZM219,49L219.5,48.5L220.5,48.5L222,47.1L223.5,47L224,46.5L224.5,46.5L224.7,46L224.3,44.5L224.9,42L224.5,41.2L222.5,40.4L222.4,42L222,42.5L221.5,42.5L220.5,43.4L219,43.4L218.5,43.9L218,43.9L217.6,43.5L217.6,43L217,42.5L217,42.1L216.4,47L217,48ZM60,45.1L59.4,45L58.9,44L59.1,42L59.5,41.5L60,41.6L60.2,42L59.7,43.5L60.1,44.5L60.1,45ZM71.5,44L71.7,43.5L70.5,42.5L70,42.3L69.5,42.5L69.3,43L69.4,43.5L70,44.2L70.5,44.5ZM66.9,43.5L67.2,43L67,42.7L66.5,42.7L66,43L65.9,43.5L66,43.7L66.5,43.7ZM73.5,46L74.5,45L74,44.5L74,43.2L73.5,43.5L73.9,45ZM138.5,47.3L137.5,47.3L136.5,46.3L136,46.3L135.7,46L136,45.7L136.5,45.7L137,45.2L138.2,44L138.2,43.5L138.5,43.2L139,43.2L139.3,43.5L139.3,44L140.8,45.5L140.5,45.8L140,45.8ZM170.2,49L170.5,48.9L170.7,48.5L170.5,47L170.7,45.5L170.5,45L170,44.9L167.5,45.1L166.9,46L166.7,47.5L166.8,48.5L167.5,48.9ZM135.5,45.8L135,45.8L134.7,45.5L135,45.2L135.5,45.2L135.8,45.5ZM148,47.3L144.5,47.3L144.2,47L145.5,45.7L146,45.7L146.5,46.2L147.5,46.2L148.3,47ZM200.7,65.5L201.7,64.5L202.9,62.5L203.5,62L202.5,61L204.6,59L204.6,58L205,57.6L206,57.6L206.5,57.1L207,57.1L207.5,56.5L208,56.5L208.5,56L209.1,54.5L209.3,52.5L210.5,50L210.4,49.5L209.9,49L208.5,48.5L206,47.2L204,45.8L199.5,46.6L198.6,47L198.1,47.5L198,48L198.1,51L197.7,53.5L197.9,55.5L197.8,56L196.7,57.5L195.5,60.5L195.5,61L197,61.9L200,65.8L200.5,65.8ZM63.1,58.5L63.2,56L62.5,55.9L60.4,58L62,58.2L63,58.6ZM72.7,88L71.5,87L71,84.9L69.8,82.5L69.1,80L69.4,78L68.9,77L68.8,76L69.8,74L70.4,72L71,71L71.4,69L72,67.5L72.5,67.5L72.9,70.5L73.4,71.5L74,71.9L75.5,71.7L77.3,71L77.6,70.5L77.6,69L76.5,67.5L75.1,66.5L75.4,66L76.3,65.5L76.5,65L76.3,64L76,64L75.5,63.5L75,63.5L74.5,64L74,64L72,65.9L71,65.9L70.5,65.4L70,65.4L69.5,65.9L69.1,65.5L69,62.5L67,62.5L66.5,62.6L66,63.5L66,67.5L67.5,69.1L68,69.1L68.5,69.6L69,69.6L69.9,70.5L70,72L70,72.5L67.9,74.5L67.9,76L67.4,76.5L68.4,77.5L67.4,78.5L67.5,79.5L68,80L68,80.5L68.5,81L68.4,81.5L68.9,82L68.9,82.5L69.5,83L69.4,83.5L69.9,84L69.9,84.5L70.4,85L70.4,85.5L71,86L71,86.5L72.5,88ZM93,98.5L93.1,97.5L93.6,97L93.6,96.5L94,96.1L94.5,96.1L95,95.6L95.5,95.6L96,95.1L96.5,95.1L99.1,92.5L99.1,92L99.6,91.5L99.6,89.5L100.1,89L100.1,85.5L100.6,85L100.6,84.5L102,83L102.1,82.5L102.6,82L102.5,81.5L103,81L102.5,80.5L102.6,79.5L100.5,77.5L100,77.5L99.5,77L99,77L98.5,76.5L98,76.5L97,75.5L94.5,75.4L94,74.9L93.5,74.9L92.1,73.5L92.1,73L91.6,72.5L91.6,72L91.1,71.5L91.1,71L89.5,69.4L89,69.4L88,68.4L86,68.5L84.5,67L84.5,66.5L82.5,64.4L77.8,64.5L77.7,65L78.1,65.5L81.5,66.3L83.5,67.4L84.3,68L81,68.5L80.5,69L80.3,69.5L80,71L80.1,71.5L80.5,72.1L82.6,73L83,73.5L84,75.7L84.5,76L85,75.9L85.6,75.5L85.7,75L85.4,74.5L84.1,73.5L84,73L84.6,71.5L84.6,69.5L84.3,68.5L84.5,68.2L85.5,68.4L86.4,69L87.5,70.5L90.5,73.5L91.3,75.5L91,78.1L90.6,78.5L89.5,78.8L87,79.8L86.6,80.5L86.3,82.5L86,83.3L84.5,84.4L82.5,84.7L81.5,85.3L80.4,86L79.9,87L80.3,88L81.5,89L82,90L84.1,92L84.8,93.5L85.3,96L86,96.1L88.5,95.5L92,96.1L92.3,96.5ZM213.2,71L213.1,70.5L212.5,69.9L212,70L211.5,70.4L212.5,70.5L213,71ZM148.6,81.5L149.2,80L148.5,79.4L147.9,80L147.9,81.5L148,81.7ZM213.2,84.5L213.5,84.2L214,84.2L216.1,82L215.5,81.6L212,81.5L210.5,81.1L207,80.9L202.5,81.3L201.5,81.9L201.2,82.5L201.5,83.1L204.5,83.2L205,83.7L205.5,83.7L206,83.2L206.5,83.7L211.5,83.7L212.5,84.7L213,84.7ZM225.8,108L226.5,107.8L229.5,107.8L230.5,107.5L232.1,106L232.1,105.5L232.7,105L232.7,103.5L233.7,102.5L233.7,102L234.2,101.5L234.2,101L234.7,100.5L234.7,96.5L234.2,96L234.2,95.5L233.1,94.5L233.2,94L232.2,93L232.2,92.5L229.7,90L229.7,89.5L229.2,89L229.2,87.5L227.7,86L227.7,85L227.2,84.5L227.2,84L226.7,83.5L226.7,83L227,82.7L229,84.7L230,84.7L230.5,85.2L231,85.2L232.7,83.5L231.7,82.5L231.6,82L231,81.7L224.5,81.7L221.5,81.8L221.4,82L222.5,83.2L223.5,83.2L223.8,83.5L223.8,84L223,84.8L221.5,83.3L220,83.3L219.5,82.8L218,82.8L215.5,85.3L215,85.3L214.5,84.8L212,87.3L211.5,87.3L209.8,89L209.8,89.5L209.5,89.8L208.5,89.8L208,90.3L207,90.3L206,91.3L205.5,91.3L203.3,93.5L203.8,94L203.8,95.5L203.3,96L203.3,96.5L203.8,97L203.8,98L204.3,98.5L204.3,99L204.9,99.5L204.9,103.5L207,105.7L208,105.7L208.5,105.2L209,105.2L209.5,104.7L212,104.7L213.5,103.2L215.5,103.2L216,102.6L218,102.6L220.5,105.2L221.5,105.2L224.5,108.1ZM141.2,105L141.5,104.7L144.5,104.7L149.7,99.5L149.7,99L150.2,98.5L150.2,97.5L150.7,97L150.7,96.5L152.2,95L152.2,91L154.1,89L153.6,88L154,87.4L155,86.8L155.5,86.8L155.5,84.5L155,84L155,82.5L154.5,82.2L154,82.1L153,82.8L151.5,82.9L150.5,83.3L148,83.1L146,84.1L142.5,83.1L139.5,82.5L137.5,83.5L136,84L135.4,84.5L135.5,87.5L134,88.3L133.6,89.5L133.7,92L133.9,93L134.3,93.5L134.3,95.5L134.8,96L134.8,97L135.3,97.5L135.3,98L135.7,98.5L135.7,99.5L136.2,100L136.3,100.5L136.8,101L136.8,103L138.5,104.7L139,104.7L139.5,105.2L141,105.2ZM157.1,96.5L157.5,96.3L159,96.4L160,95.5L160,95L160.5,94.9L160.6,93.5L161.1,93L161.1,92L161.6,91.5L161.6,90.5L162.1,90L162.1,89L162.6,88.5L162.6,86.5L162.1,86L162,85L161.5,84.5L159.5,84.5L156.4,87.5L156.1,88L156,89L155.5,89.3L155,89.2L154.9,89.5L155.4,90L155.3,91.5L154.8,92L154.8,92.5L154.3,93L154.3,94L154.8,94.5L154.8,95L156,96.1L156.5,96.6ZM223,87.3L222.7,87L222.7,85.5L223,85.2L223.3,85.5L223.3,87ZM95.5,91.2L94,91.4L93.5,91L93.3,89L92.9,88L92.8,87.5L93,86.9L93.5,86.6L94.5,86.7L95.5,87.3L97,87.2L97.5,87.4L97.9,88.5L97.5,90.5ZM78.7,122.5L79,122.2L80,122.2L81.7,120.5L79.2,118L79.2,117.5L79.7,117L79.7,116.5L80.2,116L80.2,115.5L81.2,114.5L80.7,114L80.7,113L82.2,111.5L82.2,111L82.6,110.5L82.6,110L83.5,109L83.5,108.5L84,108L85.5,108L86.9,106.5L86.2,105.5L85.5,104.8L84.5,104.4L84.1,104L83.5,101.9L83,102L82.5,102.5L82,102.7L79,103.2L78.3,103L77.8,102.5L77.2,101.5L77.4,99.5L77.1,98.5L76.8,98L75.5,97L75.4,96.5L75.3,92L75,91.2L75,97L74.4,97.5L74.4,99L73.9,99.5L74,103.5L73.5,104L73.5,105L72.9,105.5L72.9,108.5L72.4,109L72.4,110L72.9,110.5L72.8,111.5L72.3,112L72.3,112.5L71.4,113.5L71.4,117L71.8,117.5L71.8,118L74.5,120.7L75,120.7L76,121.7L76.5,121.7L77,122.2L77.5,122.2L78,122.7L78.5,122.7ZM80.5,98.5L80.9,98L81,97.5L80.8,97L80,96.4L78.7,96.5L78,97L77.7,97.5L77.7,98L78.5,98.7L79.5,98.7ZM217.5,101.5L216.9,101.5L216.8,101L217.5,100.8L218.5,101L218,101.4ZM85.1,120L86.6,118.5L86.6,117.5L85,115.9L83.5,115.8L81.8,117.5L81.8,118.5L83.5,120.2Z" fill="#f7de14" fill-rule="evenodd"/>
<path d="M123.6,29L124.2,28.5L124,27.8L123.5,27.8L123,28.4L122.8,29L123,29.3ZM51.3,35.5L52,35L52.3,34.5L52.3,33.5L51,32.1L49.4,31.5L48.5,30.5L48,30.5L47.5,31L47.8,31.5L47.6,32L47,32.5L45,32.8L44.6,33L44.3,33.5L44.5,35.7L46,35.2L48.5,35.9L50,35.9ZM165.7,34L166.3,33.5L166,32.5L165.5,32.7L165.4,33L165.4,34ZM143.1,35.5L143.5,34.9L143.9,33.5L143.5,33L141.4,34L142.5,34.8L143,35.7ZM63.2,40L63.7,39.5L63.8,38.5L63.3,37L62.6,36L59.8,35L58,33.6L56.9,34L56.6,34.5L56.6,35L57,36.5L57.2,38.5L57.8,40L58.5,40.3L61,40.3L62.5,40.2ZM156.5,40L157.1,39L157.2,38L156.5,37.4L155.5,37.4L155,38.2L155,39.3L155.5,40L156,40.2ZM112.9,63L113.2,62.5L113.4,61L113.8,60L115,59L115.4,58.5L116,56.7L116.4,56L116.9,55.5L119,54.1L121.5,53.5L122,53.5L123,54.2L123.5,54.2L123.7,54L123.8,53L124.1,52.5L126,51.4L131,51.1L132.5,51.3L136.5,51.1L140.5,51.8L143,51.4L144.5,51.6L147,51.6L149,51L151.5,50.7L153,50L153.4,49.5L153.5,49L153.9,43L153.2,40.5L152,39.7L150,39.3L145.5,39.6L144,40L142,39.7L138,40.1L135.5,39.4L132,39.7L130.5,40.3L130,41L129.9,42L129,43L129,43.5L128.5,44.1L127,44L126.4,43.5L126,42.2L124.5,41.2L124,41.3L122.9,42L122.2,42.5L122.1,43L121.5,43.4L118.5,44.3L118.5,44.5L119.4,45.5L119.4,46L117.9,47.5L117.9,48L117.4,48.5L117.4,49.5L114.4,52.5L114.4,53L113.9,53.5L113.9,54L113.4,54.5L113.4,55L112.9,55.5L112.9,56L112.5,56.5L112.4,58L112.9,58.5L112.9,60L112.4,60.5L112.4,62L112.1,62.5L112.2,63L112.5,63.2ZM138.5,47.4L137.5,47.4L136.5,46.4L136,46.4L135.6,46L136,45.6L136.5,45.6L137,45.1L138.1,44L138.1,43.5L138.5,43.1L139,43.1L139.4,43.5L139.4,44L140.9,45.5L140.5,45.9L140,45.9ZM58,52L59.2,49L59.1,47L58.8,46L58,44.7L57.5,44.4L55.5,44.3L54.5,44.5L53.9,45L53.7,46L53.8,49L54.3,51.5L54.7,52L55.5,52.2L57.5,52.3ZM135.5,45.9L135,45.9L134.6,45.5L135,45.1L135.5,45.1L135.9,45.5ZM219,47L219.3,46L219.3,45.5L219,45.2L218.5,45.5L217.9,46.5L218,46.8L218.4,47ZM148,47.4L144.5,47.4L144.1,47L145.5,45.6L146,45.6L146.5,46.1L147.5,46.1L148.4,47ZM201,55.5L201.7,54.5L203.1,51.5L202.9,50.5L203.3,48.5L203.2,47.5L202.7,47L202,46.9L200.5,46.9L199.5,47.1L198.8,47.5L198.6,48L198.7,51L198.4,53L198.6,54L199.5,55.2L199.9,55.5L200.5,55.6ZM69.6,70L69.7,68.5L70.1,68L70.1,67L69.7,66.5L69.5,66L69,65.5L69,64.5L68,64.5L67.4,66.5L67.5,69L68,69L68.5,69.5L69,69.5ZM75.6,70L75.7,69.5L75,68.4L74.5,68.3L74.1,68.5L74.5,70.3L75,70.5ZM83.1,72L83.5,71.9L83.8,71.5L84,70.5L83.9,69.5L83.6,69L83,68.8L81.4,69L80.9,69.5L80.8,70L80.8,71L81,71.5L81.5,71.8ZM91.2,87L91.8,86.5L92,86L92.3,83.5L94.5,82.8L94.9,82.5L95.1,82L95.2,81L95,80.3L93,78.7L89.5,79.5L87.5,80.2L87,81L86.9,82.5L87.2,84L87.1,85.5L87.3,86L88.3,87L89,87.3ZM213.1,84.5L213.5,84.1L214,84.1L216,82L212,82L207.5,81.6L203,81.9L202.5,81.9L202,82.3L201.8,83L204.5,83.1L205,83.6L205.5,83.6L206,83.1L206.5,83.6L211.5,83.6L212.5,84.6ZM225.8,107.5L226.4,107L226.6,106.5L226,105.3L225.8,104.5L226,103L226.4,102.5L231,102.7L231.5,102.9L231.9,104.5L231.8,106L232,106L232,105.5L232.6,105L232.6,103.5L233.6,102.5L233.6,102L234.1,101.5L234.1,101L234.6,100.5L234.6,96.5L234.1,96L234.1,95.5L233,94.5L233.1,94L232.1,93L232.1,92.5L229.6,90L229.6,89.5L229.1,89L229.1,87.5L227.6,86L227.6,85L227.1,84.5L227.1,84L226.6,83.5L226.6,83L227,82.6L229,84.6L230,84.6L230.5,85.1L231,85.1L232.6,83.5L231.6,82.5L231.5,82.2L224,82.1L222,82.3L222,82.5L222.5,83.1L223.5,83.1L223.9,83.5L223.9,84L223,84.9L221.5,83.4L220,83.4L219.5,82.9L218,82.9L215.5,85.4L215,85.4L214.5,84.9L212,87.4L211.5,87.4L209.9,89L209.9,89.5L209.5,89.9L208.5,89.9L208,90.4L207,90.4L206,91.4L205.5,91.4L203.4,93.5L203.9,94L203.9,95.5L203.4,96L203.4,96.5L203.9,97L203.9,98L204.4,98.5L204.4,99L205,99.5L205,100.1L205.6,97.5L205,95.5L205.3,94.5L206,94.2L208.5,94.4L208.9,95L209.5,101L209.3,103L209,103.6L208,103.8L205.5,103.7L205,103.1L205,103.5L207,105.6L208,105.6L208.5,105.1L209,105.1L209.5,104.6L212,104.6L213.5,103.1L215.5,103.1L216,102.5L211.7,100L211.3,99.5L211.5,98.3L212.2,97.5L211.5,96.6L211.2,95.5L210.5,94L210.4,93L211.6,91.5L214,89.9L215,89.8L215.3,90L215.5,91L216,91.2L217.5,91L219.2,91.5L219.5,91.7L219.9,92.5L220.1,94L221,95.4L221.5,95.7L224,96.4L225,96.3L225.3,96L225.9,94.5L226.5,94.2L230.5,94L232.5,94.4L232.7,95L233,98L232.9,99L232.5,99.7L231.5,99.9L230,99.6L227,99.5L226.3,99L225.9,98L225,97.3L224.5,97.5L223.5,99.5L222.4,101L219.3,102.5L218.5,102.7L218.5,103L220.5,105.1L221.5,105.1L224,107.6L224.5,107.8ZM153.5,86L153.2,85.5L153,85.4L152.8,86L153,86.2ZM223,87.4L222.6,87L222.6,85.5L223,85.1L223.4,85.5L223.4,87ZM141.1,105L141.5,104.6L144.5,104.6L147,102L147,101.7L145.5,101.5L145.2,101L145.3,98.5L145.8,98L147.5,97.8L148.5,98L148.8,98.5L148.8,100L149,100L149.6,99.5L149.6,99L150.1,98.5L150.1,97.5L150.6,97L150.6,96.5L152.1,95L152.1,91L153.6,89.5L153.6,89L152.5,87.8L151.5,87.4L149.5,87.6L148,87.3L144.5,87.4L142.5,87.2L137,88L134.5,88.5L134,89L134,93L134.4,93.5L134.4,95.5L134.9,96L134.9,97L135.3,97.5L135.3,98L135.8,98.5L135.8,99.5L136.3,100L136.3,100.5L136.9,101L136.9,103L138.5,104.6L139,104.6L139.5,105.1ZM159,89.5L159.7,89L159.5,88.6L159,88.1L158.5,88.2L158.2,89L158.5,89.6ZM156.2,96L155.9,91L155.8,90.5L155.5,90.1L155.4,91.5L154.9,92L154.9,92.5L154.4,93L154.4,94L154.9,94.5L154.9,95ZM228.2,97.5L228.1,97L227.5,96.4L227,96.3L226.8,96.5L226.8,97.5L227,97.8ZM78.6,122.5L79,122.1L80,122.1L81.6,120.5L79.1,118L79.1,117.5L79.6,117L79.6,116.5L80.1,116L80.1,115.5L81.1,114.5L80.6,114L80.6,113L82.1,111.5L82.1,111L82.5,110.5L82.5,110.1L78,110L77.1,109.5L76.6,109L76.5,108.4L75.8,107.5L75,107.4L74.5,107.9L74.1,109L73,110L72.9,111.5L72.4,112L72.4,112.5L71.5,113.5L71.5,117L71.9,117.5L71.9,118L74.5,120.6L75,120.6L76,121.6L76.5,121.6L77,122.1L77.5,122.1L78,122.6ZM84.9,120L84.4,117.5L84.4,116L83.5,115.9L81.9,117.5L81.9,118.5L83.5,120.1Z" fill="#ffffff" fill-rule="evenodd"/>
<path d="M121.2,50.5L121.5,49.5L121.3,48L121,47.6L120,47.3L119,47.8L118.7,49L118.8,50L119.4,50.5L120,50.7L120.5,50.8ZM136.9,100.5L137.4,100L137.2,97.5L136.5,96.6L136,96.6L135.5,97.2L135.5,98L135.9,98.5L136,99.5L136.5,100L136.5,100.5Z" fill="#16a8fc" fill-rule="evenodd"/>
</g>
<use href="#water" fill="#fff"/>
<use href="#coast" fill="none" stroke="#1a1414" stroke-width="0.62" stroke-linejoin="round"/>
<use href="#water" fill="none" stroke="#3a3030" stroke-width="0.35"/>
</g>
<rect x="-0.15" y="-0.1" width="252.2" height="125.2" fill="none" stroke="#222" stroke-width="0.9"/>
<text x="0" y="130.2" font-size="3.9" text-anchor="middle" class="t">180</text><text x="42" y="130.2" font-size="3.9" text-anchor="middle" class="t">120W</text><text x="84" y="130.2" font-size="3.9" text-anchor="middle" class="t">60W</text><text x="126" y="130.2" font-size="3.9" text-anchor="middle" class="t">0</text><text x="168" y="130.2" font-size="3.9" text-anchor="middle" class="t">60E</text><text x="210" y="130.2" font-size="3.9" text-anchor="middle" class="t">120E</text><text x="252" y="130.2" font-size="3.9" text-anchor="middle" class="t">180</text><text x="-1.6" y="1.8" font-size="3.9" text-anchor="end" class="t">90N</text><text x="-1.6" y="10.1" font-size="3.9" text-anchor="end" class="t">80N</text><text x="-1.6" y="18.5" font-size="3.9" text-anchor="end" class="t">70N</text><text x="-1.6" y="26.8" font-size="3.9" text-anchor="end" class="t">60N</text><text x="-1.6" y="35.1" font-size="3.9" text-anchor="end" class="t">50N</text><text x="-1.6" y="43.5" font-size="3.9" text-anchor="end" class="t">40N</text><text x="-1.6" y="51.8" font-size="3.9" text-anchor="end" class="t">30N</text><text x="-1.6" y="60.1" font-size="3.9" text-anchor="end" class="t">20N</text><text x="-1.6" y="68.5" font-size="3.9" text-anchor="end" class="t">10N</text><text x="-1.6" y="76.8" font-size="3.9" text-anchor="end" class="t">EQ</text><text x="-1.6" y="85.1" font-size="3.9" text-anchor="end" class="t">10S</text><text x="-1.6" y="93.5" font-size="3.9" text-anchor="end" class="t">20S</text><text x="-1.6" y="101.8" font-size="3.9" text-anchor="end" class="t">30S</text><text x="-1.6" y="110.1" font-size="3.9" text-anchor="end" class="t">40S</text><text x="-1.6" y="118.5" font-size="3.9" text-anchor="end" class="t">50S</text><text x="-1.6" y="126.8" font-size="3.9" text-anchor="end" class="t">60S</text>
<rect x="56" y="143" width="20.2" height="4.8" fill="#a418ea"/>
<rect x="76" y="143" width="20.2" height="4.8" fill="#1e38f6"/>
<rect x="96" y="143" width="20.2" height="4.8" fill="#16a8fc"/>
<rect x="136" y="143" width="20.2" height="4.8" fill="#f7de14"/>
<rect x="156" y="143" width="20.2" height="4.8" fill="#ff8a14"/>
<rect x="176" y="143" width="20.2" height="4.8" fill="#f6322e"/>
<text x="76" y="153" font-size="5.4" text-anchor="middle" letter-spacing="0.35" fill="#222">-40</text>
<text x="96" y="153" font-size="5.4" text-anchor="middle" letter-spacing="0.35" fill="#222">-20</text>
<text x="116" y="153" font-size="5.4" text-anchor="middle" letter-spacing="0.35" fill="#222">-10</text>
<text x="136" y="153" font-size="5.4" text-anchor="middle" letter-spacing="0.35" fill="#222">10</text>
<text x="156" y="153" font-size="5.4" text-anchor="middle" letter-spacing="0.35" fill="#222">20</text>
<text x="176" y="153" font-size="5.4" text-anchor="middle" letter-spacing="0.35" fill="#222">40</text>
</g>
<g transform="translate(14,242.5)">
<text x="27.2" y="-3.7" font-size="7.5" textLength="10.2" lengthAdjust="spacing">(c)</text><text x="43.2" y="-3.7" font-size="7.5" textLength="20.6" lengthAdjust="spacing">green</text><text x="70" y="-3.7" font-size="7.5" textLength="19.8" lengthAdjust="spacing">water</text><text x="96" y="-3.7" font-size="7.5" textLength="37.8" lengthAdjust="spacing">resources</text><text x="139.2" y="-3.7" font-size="7.5" textLength="34.6" lengthAdjust="spacing">resilience</text><text x="180" y="-3.7" font-size="7.5" textLength="26.6" lengthAdjust="spacing">change</text><text x="212.8" y="-3.7" font-size="7.5" textLength="12.6" lengthAdjust="spacing">(%)</text>
<g clip-path="url(#frame)">
<g clip-path="url(#land)">
<rect x="0" y="0" width="252" height="125" fill="#ff8a14"/>
<path d="M77.4,23L80,22L81.2,21L81.6,20.5L82,19.5L82.1,18.5L81.9,17.5L81,17.3L80,16.2L79.5,16.2L78,14.7L77.5,14.7L77,14.2L76.5,14.2L76,13.7L75,13.7L74.5,13.2L73.5,13.2L72.4,12L72.4,11.5L73,11.3L73.5,10.8L74.5,10.8L76,12.3L76.5,12.3L77,12.8L79,12.8L79.9,12.5L80,11.5L79.2,10L78.9,8L78.4,7L78.7,4.5L78,3.8L71.5,3.6L71,4.1L66,4.3L65.5,4.8L63.5,4.7L63,5.2L62,5.2L61.5,5.7L60.5,5.8L60,6.3L59,6.3L58,7.3L56,7.4L53.5,7.2L51,9.7L50.5,9.7L49,8.2L46,8.2L45,9.2L44.5,8.7L41.5,8.8L41,9.4L40.5,9.5L41.1,10L42,12L42.5,12.1L43.5,11.6L44,11.7L45,12.5L45.3,13L45.1,13.5L43.5,13.6L42.5,12.8L42,12.7L41,13.2L40.5,13.2L39.7,12L39,11.6L38.5,11.7L38.1,12.5L38.5,13.4L39.1,14L38.8,15.5L38.9,16.5L39.1,17L39.5,17.3L41,17.3L43.5,18.1L45,18.4L46,18.3L47,17.9L47.5,17.9L50,19.3L52,19.4L53,19.4L56,17.8L56.5,17.7L59,18.1L61.5,19.3L62.5,19.5L64,19.5L66,18.9L67.5,18.8L68,19L68.2,20L68.8,20.5L69.5,20.7L69.7,20L70.7,19L70.7,18.5L71,18.3L72.5,18.3L72.7,18.5L72.7,19L72.5,19.2L71.5,19.3L70.4,20.5L70.2,21L70.6,21.5L70.6,22.5L70.9,23L72,23.4L74.5,23L76.5,23.3ZM101.2,16L102.5,14.7L103.5,14.4L104,14L104.3,13.5L104.4,13L104.1,11.5L104.7,10L104.5,9.1L103.4,8L102.7,7L102,6.5L101.5,6.5L100.5,6.6L98.5,7.6L97.3,8L96.7,8.5L96.5,9L96.6,9.5L98,11L98.4,12L98.5,12.5L98.2,14L98.3,14.5L100,16.1L100.5,16.3ZM193.3,10.5L193.6,10L193.5,9L193,8.4L192.5,8.2L192,8.3L191.9,8.5L192,9L192.5,10L193,10.7ZM145.6,17.5L145.9,17L145.9,15L145.5,14.8L144,15.2L143.6,15.5L143.6,17L144,17.8L145,17.8ZM206.6,17L206.5,16.5L206,16.1L205.5,16L205.1,16.5L205.5,17.2L206,17.3ZM9.8,18.5L9.5,17.3L9,16.9L8.4,17.5L8.5,18.2L9,18.7L9.5,18.8ZM26.3,21.5L26.7,21L26.8,20.5L26.6,19.5L26.2,19L25.5,18.8L24,19L21.5,18.7L20,17.3L19.5,17.2L19,17.3L18.5,17.8L18,17.7L16.5,17L16,17.1L14.7,18L13.9,19.5L14.1,20L14.8,20.5L15.5,20.7L17.5,20.6L19,20.1L19.5,20.1L22,20.7L24,20.8L25.5,21.6L26,21.6ZM230.3,22L231,21L231.1,20L230.9,19L230,18L227.5,17.4L226,17.6L224,17.4L223.5,17.7L223.2,20L222.8,21L222.8,21.5L223.3,22L225.5,22.4L227.5,22.2L229.5,22.3ZM94.1,26L94,25L94.5,24.6L96,24.4L96.5,24L96.6,23.5L96,22.3L94.6,21L93.5,20.5L93,20.6L92.5,20.8L92,21.5L91.7,24.5L92.5,25.6L93,25.6L93.5,26.1ZM198.2,25.5L199,24.2L200.2,23L200.4,22L200.4,21.5L200,21.1L198.5,21.3L197.5,20.9L197,20.9L196.5,21.4L196.1,24L196.5,25.5L197,25.8ZM25.5,26L24.9,24.5L24.5,24.3L24,24.5L24,25.5L24.4,26L25,26.3ZM152.7,28.5L153.1,28L153.2,27.5L152.9,27L152,26.3L151,26L150,26.5L149.5,27L149.5,27.5L149.8,28L150.5,28.5L152,28.9ZM61.6,29L62.2,28.5L62.3,28L62.3,27.5L62,27.2L61.5,27.1L60.6,27.5L60.3,28L60.3,28.5L60.7,29ZM238.6,29L239,28.7L239.1,28L239,27.6L238.5,27.4L238.2,28.5L238.4,29ZM173.5,30.5L174.3,30L174.4,29.5L173,29.5L172,30L172.1,30.5L172.5,30.7ZM131,48.5L131.2,48L131,46.1L130.5,45.6L128.5,45.2L127,45.3L125.1,44L124.8,43.5L124.7,43L125,41.5L124.5,40.4L123.5,40L120.5,40.3L120,40.5L119.8,41L119.9,43.5L121.5,45L121.5,45.5L121,46.3L119.8,47L119.7,47.5L120,48L124,48.5L125.5,48.3L126.5,48.6L130,48.9ZM194.1,53L195,52.3L196,50.8L197,50.6L198.1,50L198.4,49.5L198.7,48.5L197.5,47.8L195.7,47.5L194,46.4L191.5,46.6L189.5,47.6L188.5,48.9L188.2,50L188.4,50.5L189.4,52L190,52.3L191.5,52.5L193,53.3ZM68.8,67.5L69.4,66.5L69.3,66L68.9,65L68.7,63L67.5,61L67,60.5L66,60.2L65.7,60L65.5,59.2L64,58.2L61.5,57.6L59.8,58L59.2,59L59.1,60L60,62.3L60.5,63.1L61,63.4L62.5,63.4L63.5,64L64.8,64.5L64.9,65.5L65.1,66L67,67.6L68,67.9L68.5,67.8ZM119.5,68.5L120.5,67.8L121.2,67L121.1,66L120,64L117.6,61L116.5,58.6L116,58.6L115,59.9L113.5,60.5L112.8,61L112.6,61.5L112.6,62.5L113.7,64L114,66L114.5,66.6L116,67.1L118.5,68.6ZM195.7,63L197.3,62L197.6,61.5L197.4,61L196.2,59.5L195.5,59.3L194.4,60.5L194.1,62.5L194.1,63L194.5,63.3L195,63.4ZM84.9,84L85.5,83.6L85.9,83L87,80.3L89.5,78L90.2,77L90.4,75L89.9,73.5L88.9,71.5L88.2,71L86,70.1L83.5,70L83,69.8L81.5,68.4L79.5,68.6L78.7,67L77.7,65.5L77,64.9L76,64.8L74.5,65.1L73,65.1L72.6,65.5L72.3,68L72.4,68.5L73,69.2L74,69.8L75.5,70.1L76.6,70L78,69.4L78.5,69.3L78.8,69.5L78.6,70.5L77.5,72.5L77.2,74.5L77.3,76L77.2,76.5L76.2,78L76.4,78.5L77.6,79.5L78.5,81L79.1,83L79.7,83.5L82.5,84.4ZM198.2,67L198.5,66.6L199.5,66.5L200,66.1L200.3,65.5L200,65L199.5,65L197.7,66.5L198,67.3ZM196.6,68L197,67.9L197,66.9L196.3,67.5ZM130.1,72.5L130.1,71.5L129,70L128.5,69.8L126.5,69.7L126,70L126,71.4L126.5,71.2L128.5,71.3L129.5,72.3ZM203.9,76L204.4,75.5L204.6,75L205,72.5L203.5,71.8L202.5,71.9L200.9,73.5L200.8,74L201,74.5L202.5,76.2L203,76.4ZM140.3,76.5L142.3,75.5L141.2,74L140.5,73.7L139.4,74L138.9,74.5L138.7,75L139.5,76.1L140,76.6ZM144.8,78.5L145.2,77L145.3,76L145,75.2L144.5,74.8L143.4,75L142.6,75.5L142.5,77.2L142,77.5L140.6,77.5L140.5,78L140.9,78.5L141.5,78.8L143,78.7L144,78.9ZM209.4,79.5L210.5,78.5L212.1,78L212.2,77.5L212,77.2L211.5,76.9L211,76.9L210,77.7L209,77.6L208.1,78L208.1,78.5L208.5,79.4L209,79.6ZM82.5,81.6L81.5,81.8L81,81.3L80.8,80.5L81.1,80L81.5,79.7L82.9,80L83.9,80.5ZM227.8,83L228.1,81L227.7,80L227,79.7L226.5,79.9L226.3,81L225.6,82.5L225.6,83L226.5,83.5L226.6,83L227,82.7L227.5,83.1ZM98.7,89.5L99.1,89L98.8,88.5L98.5,88.2L98,88.3L97.5,89L97.5,89.5L98,89.8ZM92,90.5L92.8,90L92.9,89.5L92.5,89L91.5,88.6L91,88.8L90.9,89.5L91.1,90L91.5,90.4ZM208.7,91.5L209.1,91L209.1,90.5L208.5,90.1L207.9,90.5L207.8,91L208,91.4ZM85.7,92.5L86,92L85.8,91.5L85.5,91.3L85,91.5L85.1,92L85.5,92.5ZM137.5,95.5L137.5,95L137,94.8L136.7,95L136.7,95.5L137,95.8ZM91.2,101.5L91.8,101L91.8,100.5L92.3,100L92.3,99.5L93,98.5L93,97.3L92.5,97.1L91,97.1L90.5,97.2L90.2,97.5L89.8,100.5L90,101.5L90.5,101.9Z" fill="#f6322e" fill-rule="evenodd"/>
<path d="M99,6L98,6.3L97.3,6L97,5L97.2,4L98.5,3.8L99.9,4L99.5,5.5ZM114.5,23L112.5,22.4L110,23L109.5,22.7L108.3,21.5L108.3,21L107.4,20L107.9,19.5L108,19L108.4,18.5L109.3,17.5L108.5,17.1L108,17.3L107,17.9L106.5,18L105.2,17.5L105,17L105.6,16L105.6,14.5L106,14L106.5,13.8L109.5,13.9L110,13.8L110.5,13.5L110.1,12L109.5,11.2L107.5,10.7L106,10.9L105.8,10.5L104.9,7.5L105.8,4L107,4L108,5.5L108.2,7L108.5,7.5L109,8L110.1,8.5L110.5,9L111,10L112,11L112.1,12L111.6,13.5L111.9,15L111.9,16L110.6,17.5L111,17.8L113.5,17.7L115.5,17.9L117.8,20L117.7,20.5L115.5,22.8L115,22.7ZM82.5,5.2L81,4.8L80.4,4.5L82,4.3L82.5,5ZM89.5,6.7L89,6.9L88,6.9L87,6.5L86.5,6L86,6L84.5,6.3L83.6,6L83.1,5.5L85,5.4L85.5,4.8L89.5,4.9L89.9,5L89.9,6ZM162,9.5L159,9.6L158.5,9L159.6,7L159.5,6.5L160,6L160.5,6L161,6.7ZM166,8.1L165.3,8L164.9,7.5L165,6.9L165.5,6.2L166,5.9L167.5,5.7L168,5.9L169,5.8L169.2,6L169.3,6.5L167.5,6.7L167,7.5ZM116.5,7.6L116,7.7L115.6,7.5L115.9,7L117,6.5L117.1,7ZM113.5,10.3L113.3,10L113.1,8.5L113.3,8L114,7.7L114.7,8L114.7,8.5L114.3,9.5ZM136.5,9.6L135.9,9.5L135.8,9L137.1,9L136.8,9.5ZM90,20.8L89.5,20.9L88,20.4L87.9,20L86.8,19L86.7,18.5L86.3,18L86.3,17L86.8,16.5L86.8,16L85.8,15L85.8,14.5L84.5,13.2L83.5,13.2L83,12.8L81.3,12.5L81.6,11.5L81.4,10.5L83,10.5L84.5,11.5L85,11.6L85.5,11.4L87,9.8L91,9.7L93.5,10.3L95.5,10.4L96.5,11.1L97.3,12.5L97.4,14.5L98.7,17L98.9,17.5L98.7,18L98,18.3L97,17.5L96.5,17.5L94.5,18.8L94,19L92,18.1L91.4,18.5L90.6,20ZM202.5,17L202,17L201.6,16.5L201.5,16L201.8,14.5L202.4,14L202.7,13.5L202.3,12.5L202.4,11.5L202.7,11L204,10.8L205,10L206.1,11L206,11.3L205,11.7L204.4,13L203.2,14L203.2,15.5ZM173.5,12.5L172.9,12.5L172.7,12L173,11.6L174,11.4L175,10.2L175.5,10.4L175.6,10.5ZM153.5,81.1L153,81.4L152.5,81.3L152.1,80.5L151.5,80.2L150,80.3L149,79.8L147.3,78L146.9,77L146.4,75L146.6,72.5L147,72L149.5,71.4L152,71.4L152.4,71L152.6,69.5L151.7,67.5L151.7,67L152,66.2L154,66.1L155.3,65.5L155.1,64.5L153.7,62L153.1,61.5L152.5,61.5L151.5,65L151,65.3L150.2,65L149.5,65L148,65.5L145.5,65.5L143.1,66L142,66.7L141.5,66.8L140,66.7L138.5,65.5L138,65.4L136.4,65.5L136,65.7L135.7,66L135.7,67L135.2,68L135.2,68.5L136,69.2L137,69.3L137.3,70L137.3,70.5L136.1,71.5L135.3,72.5L135.3,73L136,74L136,74.5L135.5,74.7L134.5,74.6L133.1,74L133.7,73L133.7,72.5L132.5,71.2L131.1,70L130.6,69L130.6,68.5L131.1,68L131.2,67.5L130.5,67.1L130,67.1L127.5,67.8L122.5,65.4L121.5,64.6L118.3,61L117.9,60L117.5,57.5L117,56.7L116.5,56.3L114.5,55.9L113.5,55L113.4,54.5L113.7,54L113.7,53.5L114.2,53L114.2,52.5L117.5,49.2L119,49.5L120.5,49.2L122.5,49.1L126,49.5L128.5,49.3L130.5,49.6L132,49.1L132.2,49L132.4,48.5L132,47L132.1,46L133,44.7L133.5,44.3L135.1,43.5L135.4,43L135.2,42.5L135.2,41.5L135.8,40L136.5,39.5L138.5,40.2L140.5,39.6L141.5,39.7L142.1,39.5L142.1,39L140.5,38L139.8,37L139,34.6L138.6,34L138,33.7L137,33.7L134.5,34.3L133,34.1L132.4,34.5L132.2,35L132.7,36L132.9,37.5L132.6,40L132.8,40.5L134.1,42L134.1,42.5L133.5,43L132,43.5L131,44.1L130,44L129.2,43L129.4,42.5L129.8,42L129.9,41L130.4,40.5L130,40.2L129,40.2L127.1,42L127.6,42.5L127.5,43L127,43.2L126.4,43L126.5,42.1L127.2,40.5L127,39.8L126.5,39.5L123.5,38.7L121.5,39.5L119.5,39.4L119,39.1L118.4,38L119,37.2L119.5,37.2L120,36.7L122.5,36.7L122.7,36.5L120.7,34.5L121.2,34L120.5,33.2L118.9,33L119.3,30.5L118.5,29L118.5,28.5L119,27.8L119.5,27.8L119.8,27.5L119.8,27L120.3,26.5L120.3,26L120.5,25.8L121.5,24.9L121.9,25L122.1,25.5L121.9,27L122.4,27.5L123.5,27.6L125.5,27.1L125.7,28L126.3,28.5L126.3,29L126.5,29.2L127,29.2L128,30.2L129.7,28.5L129.7,27.5L129.4,27L129.5,26.7L130.5,26.3L132,25.3L133.5,25.7L133.8,26L134.5,27.4L136,28.2L136.5,28.4L137.5,28.1L138,27.5L138,27.3L137.9,27L136.9,26.5L136.7,26L136.9,25.5L138,24.5L138.7,23L140.1,21L140,20.5L138.6,19.5L138.1,18.5L138.2,18L139.5,16.7L140,16.4L141,16.3L141.5,16.6L141.7,17L142.4,19.5L143,20.6L144.6,21.5L148.3,22.5L148.5,22.8L150,21.2L150.3,20L150.8,19.5L151.2,19.5L151.5,19.8L152,20.7L154,20.1L154.5,20L154.8,20.5L155.5,22.5L155.6,23.5L154,25.4L153.5,25.5L153,25.3L150.5,24.1L149,23L148.5,23L148,24L148.2,25L147.5,25.9L146.5,28.6L145.5,30L145.6,31L146,31.5L147,32.1L147.5,33L148,33.2L148.3,33L148.1,32L148.5,31.5L150,31.4L153.1,30L154.5,29.2L155,29L155.5,30.1L156,30.2L156.2,30L157.5,27L158.5,26L159,24.3L160.3,23.5L160,21.9L160.2,21.5L160.5,21.4L161.5,21.8L162.3,22.5L162.1,23L160.7,24L161,25L161.5,25.4L162.5,25.7L164,25.3L164.5,25.3L166.2,26L166.7,26.5L165.6,29.5L164.5,30.5L164.6,32L164.9,32.5L166.5,33.3L168.5,33.8L170,35L170.9,34L172.5,32.8L173.5,32.4L175,32.8L175.2,32.5L176.3,29.5L176.3,29L175.6,27.5L175.6,26.5L176,25.5L177,24.3L179.5,24L180,23.5L179.9,23L178.9,22L179,21L179.5,20.7L180,20.8L180.5,21L181.5,22.3L182,22.5L184,22.4L185.5,23.4L186,23.4L186.3,23L186.4,22.5L186,20.1L185,19L184.8,17L184.9,16.5L185.9,15.5L186.5,14.5L186.5,14L186.1,13L185.7,11L186.5,10.8L187,10.3L187.7,10.5L188,11.1L188.5,11.4L190,11.3L190.4,11.5L190.7,12L190.5,12.8L189.2,13.5L188.4,14.5L188,15.8L187.3,17L188,17.1L189.5,16.7L190.5,15.9L191.3,16L192.3,16.5L192.4,17L192.1,18L193.2,20L193.5,21.5L193.5,22.5L193,23.1L191.5,23.2L190.8,23.5L190.3,24L190.1,25L190.5,25.8L191.5,26.4L193.5,25.6L194,25.7L194.9,26.5L195,27L194.8,27.5L194,28.1L193,28.2L192,27.9L191.4,28L191.3,28.5L191.6,29L191.9,30.5L193.1,31.5L194,31.6L194.5,31.5L195,31L195.5,30L196.5,29.6L199,30.5L200,30.5L201,29.8L202.2,28L202.5,27.8L204.5,27.9L206.4,26.5L205.7,25.5L206.5,24.6L206.7,24L206.6,22.5L206,21.8L203.9,21L203.5,20.5L203.7,20L204.4,19.5L208,18.9L209.5,19.2L211,20.6L212,20.7L213.5,20.2L214,20.2L215.1,21L215.5,21.5L215.3,22L215,22.3L214,22.8L213.5,22.7L212.5,23.3L211,23.7L208.8,25.5L207.6,27L207.9,27.5L208.5,28L210,28.5L211,28.6L213.5,28.3L217,29.4L218.4,30.5L219.3,32L220.7,33L220.8,33.5L217.5,35L216.5,35L213.5,34.3L212.5,34.5L211.7,35L211.1,37L210.1,38L209.9,38.5L210,39L210.5,40L211,42.2L211.5,43L212,44.5L211.2,45.5L211.3,46.5L211.8,47L211.8,47.5L212.8,48.5L212.8,50L212.5,51.1L210.5,49.9L210,50L208.6,51.5L207.9,52.5L207,52.9L206.5,52.8L205.1,51.5L204.7,50.5L203.5,49.7L200.6,47L199,45.8L197.5,45L196,43.8L195.5,43.7L192.5,44.9L189.9,45L188.5,45.9L187.5,46L186.7,46.5L186,48L184,47.2L182.5,46.9L182,47.5L181.8,49L181.8,50.5L181.2,52L181.4,52.5L183.5,52.3L185,52.5L186,53.6L189,54.8L189.5,55L189.9,55.5L188.7,57L188.4,58L188,58.1L186.5,59.9L186,59.9L183.9,62L183.8,64.5L183.3,65L182.7,67L182.6,67.5L182.9,68L182.5,68.4L181.5,68.5L180.5,68.1L178,63.8L177.5,63.4L176.5,63L175.9,62.5L175.8,62L175.3,61.5L175.3,59.5L174.8,59L174.8,57.5L174.2,56.5L173,56.2L172.5,55.7L170.5,55.5L170,54.9L169.5,54.7L169,54.8L168.9,55.5L169.2,56.5L168.4,57.5L168.4,58L167.9,58.5L167.9,59L164.5,62.4L164,62.4L163.5,62.9L163,62.9L162.5,63.4L161.9,63.5L163.2,65L163.1,66L162.6,66.5L162.5,67L161.5,66.5L159,66.2L158.2,66.5L158.1,67L158.8,69L158.2,71.5L157.5,72.3L156,72.4L155.5,72.6L154.8,73.5L154.7,74.5L154.8,76L155,76.5L156,77L155.2,78L155.2,79L154.7,79.5L154.5,80.4ZM172,18L168.5,17.9L168,17.5L167.9,17L168,15.9L168.5,15.6L170,15.4L170.5,15.8L171,15.7L171.3,15.5L171.3,15L172,14.4L173,14.4L174.4,13L174.5,12.5L176.5,12.3L178,13.9L178.3,14L177.5,15.1L175.5,16.3L174.5,17.3ZM210,13.4L209,13.1L208,12.9L207.4,12.5L209.5,12.4L210.3,12.5L210.4,13ZM162.5,15.6L161,15.4L160.4,15L160.8,14.5L160.8,14L162,12.8L162.5,12.8L163,15L162.8,15.5ZM199,14.7L198.4,14.5L198.3,13.5L198.5,12.9L199.4,13.5L199.5,14ZM218.5,17.8L218,17.8L217.6,17L217.2,14.5L217.8,14L219,13.8L219.7,14.5L219.8,15.5ZM36.5,16L36,16L35.5,15L36,14.9L36.5,14.5L36.7,14.5L36.7,15.5ZM237,20.7L236.5,20.8L236,20.5L235.4,19.5L235.4,19L236,17.7L237,17.5L237,17.1L236.5,17.2L235.5,17.7L234.8,17.5L233.3,15.5L233.3,14.5L234.5,14.3L236,14.4L236.5,14.9L237,15L238,16L238.6,17.5L238.5,18L237.5,20.2ZM24,17L23,17.2L22.1,17L21.7,16.5L21.7,16L22.5,15.5L23.5,15.5L24.2,16L24.5,16.5ZM183,16.7L182.5,16.8L181.9,16.5L181.7,16L181.9,15.5L182.8,15.5L183.4,16L183.3,16.5ZM196.5,17.1L196,17.3L195.5,17L196.5,15.6L197,16.5ZM101.5,19.1L101,19L100.6,18.5L100.7,18L102,17L103,16.5L103.5,16.5L104.8,17L104,18.1ZM7,21L5.5,20.9L4.5,21.4L4,20.5L2.3,19.5L2,19L2,18.5L2.3,18L3.1,17L3.5,16.9L4,17.3L5,17.2L5.5,17.7L6,17.8L7.5,20L7.5,20.5ZM160,18.6L159.3,18.5L158.8,18L158.7,17.5L159.5,17.4L160,16.8L161,16.9L161.3,17.5L161.1,18ZM221.5,20.2L221,20.2L220.5,19.8L219.8,18.5L219.9,18L220.5,17.7L221.5,17.6L222,18L222.3,18.5L222.2,19.5L222,19.9ZM54,57L53,56.5L52.9,56L53.4,55L53.2,54.5L52.8,54L50.5,54L49.5,53.8L46.5,50.7L46,50.3L44,50L43.5,49.6L42.4,48.5L42.3,48L41.4,47L39.4,45.5L39.3,45L39,44.5L39.1,43.5L38.9,40.5L39.8,39.5L39.7,39L39.3,38.5L38,38L37.5,37.5L37.2,36L36.8,35.5L36.8,35L35.9,34L35.9,33.5L36.3,33L38.8,31.5L39.1,31L39,30.5L38.7,30L38,29.5L36,29.3L35.2,29L34.7,28.5L34.5,28L34.5,27L34.2,26.5L33.5,26L32.2,25.5L32,25.2L31.9,23.5L31.2,22L31.1,20.5L31.4,19.5L32,18.9L32.5,18.8L33.3,21L34,21.2L37,20.4L38.5,20.5L39.5,20L40.5,19L41,18.9L42.5,19L44,20L45.5,20.4L46.5,19.5L47.2,19.5L48,20.3L51,22L51.5,22.5L52.1,23.5L53.7,25L53.9,25.5L53.7,27L54.5,27.8L55.8,28.5L55.7,29L55.5,29.2L53.8,29.5L53.7,30L55.8,32.5L57,33.2L58,33.1L58.5,32.9L58.7,32.5L58.7,31.5L59,30.8L60.5,31L62.5,30.4L63.2,30L64,29.1L64.5,29.3L65.7,31L66.6,33L67.5,33.4L68,33.4L69,32.3L70,32.1L70.5,32.5L70.8,34L71,34.4L71.5,34.4L71.8,34L72.2,32.5L74.5,28.6L75.5,27.6L76.4,29.5L77.1,30.5L77,31L76,32.1L75,32.9L74,33.3L73.6,34L73.5,35L74.2,37L74.4,38L74.6,38.5L75.7,39.5L76.3,40.5L76.3,41L76,41.5L74.1,43.5L74.2,44.5L74.6,45L72,47.8L71.5,47.8L70.1,49L70.1,49.5L70.6,50L70.5,50.3L69.5,50L69.7,48.5L68.7,47L68.6,46L70,44.2L71,44.8L71.5,44.8L72.2,43.5L72.7,43L72.7,42.5L72.2,42L71.5,41.9L70.5,42.7L69.5,42.3L68,42.4L67.5,40.8L67,40.1L66.5,39.9L65.5,40.2L64.9,41L64.7,42L65,42.5L66,43.5L65.9,44L65.5,44.5L64.4,45L63.5,45.2L63,45L63,44.5L63.6,43.5L63.7,43L63.5,42.6L63,42.5L62.5,42.6L61.8,43L61.4,43.5L61.2,46L62,47.7L63,48.9L64,49.4L65,49.4L67,50.5L66.4,51L65.5,51.3L65,51.1L64,51.1L63.5,51.4L62.5,50.9L61.5,50.7L59,51L58.5,51.2L54.3,55L54.2,55.5L54.5,56.5ZM68,22.6L67,23L65.5,22.8L65.2,22.5L65.1,22L65.2,21.5L66,21L67,21.1L67.8,21.5L68.2,22ZM16.5,23.2L16.4,22.5L17,22.3L17.2,22.5ZM20,26.5L19.5,26.5L18.2,25.5L18.4,25L19.7,24L19.9,23.5L19.6,22.5L20,22L21,22.6L21.6,23.5L20.9,24.5L20.8,25.5L20.5,26ZM237,25.1L236.4,25L236,24.5L236,24L236.5,23.1L237.5,22.3L238.5,22.8L239.2,24L239,24.5ZM246,25.6L245.4,25.5L245.8,24L246,22.5L246.1,24L247,24.5L247.5,25L246.5,25.1ZM61.5,24.6L61.2,24.5L61.1,24L61.4,23.5L62,22.7L62.5,22.6L62.6,23L61.6,24ZM204.5,26.1L202.5,26.4L202.1,26L202.1,23.5L202.2,23L202.5,22.7L205.4,25.5ZM15,26L13.5,26.2L13,26L13.1,25.5L13.5,24.9L15,24.4L16,23.8L16.5,24.1L17.1,25.5ZM223.5,31.2L222.5,30.8L221.5,30.7L220.9,30L220.1,26L221,23.9L221.5,23.9L222.1,25L222.7,25.5L223.9,26L224.2,26.5L224,27.5L223.1,28.5L223,29.7L223.5,30L225,29.6L225.1,30ZM47,25.5L47.3,25L47.3,24.5L45.5,24L45.2,24.5L45.1,25.5L45.5,25.9L46,25.9ZM75.5,27.2L75,27.4L74,26.2L73.4,25L73.6,24.5L75,24.2L76.2,24.5L76.4,25L75.7,26ZM28,25.7L27.5,25.4L27.4,25L27.5,24.5L28,24.6L28.1,25.5ZM214.5,25.7L214,25.9L213.6,25.5L213.5,24.9L214,24.5L214.6,25ZM228,27L226.5,27.2L225.2,27L225.1,26L225.4,25.5L226,25.1L227.5,25.1L228.2,25.5L228.4,26ZM139.3,27L140.3,26L140,25.7L138.6,27L139,27.3ZM172,27.2L171,27.5L169.5,27.4L168.5,27L168.5,26.5L170,25.9L171.5,25.9L172.4,26.5L172.3,27ZM80,36.7L79,36.6L78.4,36L79.2,32L78.9,31.5L77.8,30.5L79,29.9L79.4,29.5L80,28.1L80.5,27.6L82.5,26.9L84,26.9L85.5,28.2L86.6,29.5L86.8,30L86.7,30.5L86.5,30.8L84.5,30.7L84,30.3L83,28.8L82.5,28.9L82.1,30L81,31.5L81.5,35L81,36L80.5,36.5ZM8.5,32.1L8,32L8.2,31.5L9.5,29.4L11,28.3L11.5,28.1L12,28.4L12.7,30.5L12,30.7L11.5,31.3L10.5,31.3L10,31.8L9,31.7ZM226.5,29.3L226,29.2L225.6,29L225.6,28.5L226,28.4L226.6,29ZM163.7,29.5L163.5,28.8L163,28.6L162.6,29L162.5,29.5L163,29.8L163.5,29.8ZM186.9,31.5L187.1,31L187,30.8L186.5,30.9L186.2,31.5L186.5,31.7ZM89,36.6L87,36L86.3,35.5L86.1,34.5L86.5,32.8L87,32.5L88.5,32.6L89,32.8L90.2,34L90.1,35ZM205.7,36.5L206,36L205.9,35.5L205,34.5L204.5,34.5L204.3,35L204.5,36L205,36.5ZM69.7,36L70.1,35.5L70.1,35L69.5,34.7L69,34.7L69,35.8L69.5,36.2ZM151.6,36.5L151.5,35.9L151,35.7L150.7,36.5L151,37ZM179.1,42.5L180,42.2L181.7,41L181.8,40L181,37.5L180.5,37.2L179,37.7L176.5,36.5L175.5,36.3L174.5,36.5L173,37.6L171.5,38L171.2,39.5L171.4,40L172,40.6L174,41.7L175.5,41.2ZM70.3,39.5L70.5,39.2L70.6,38.5L70,37.6L68,36.7L67,37L66.6,37.5L66.5,38L67,38.5L69.5,39.6ZM128.6,39L128.9,38.5L128.7,38L128.5,37.8L128,37.8L127.7,38L127.6,38.5L128,39ZM148.4,38.5L148,38.1L147.5,38.2L147.2,38.5L147.5,38.8L148,38.8ZM161,39.5L160.7,39L159.5,38.3L159,38.2L158.5,38.2L158.3,38.5L158.5,39L159,39.4L160.5,39.6ZM54,47.5L54.2,47L54,46.3L53.5,45.5L52.3,44.5L52.1,44L51.5,39.9L51,39.5L48,38.8L47,38.8L46.6,39L46.2,39.5L46.4,41L45.9,43L45.8,44L46,44.5L46.5,44.5L48,44.1L48.5,44.3L50,45.4L51,45.8L52,47.2L53,47.6ZM216.5,49.7L215.2,48.5L215.2,48L215,47.8L214.5,47.8L212.7,46L213,44.2L213.5,43.7L214.5,43.2L215.5,43.5L216,43.5L216.5,42.9L216.9,42L216.8,40.5L217,39.6L217.5,39.3L218,39.4L219.3,40L218.5,40.1L217,41.5L217.1,42.5L217.7,43L217.8,43.5L218,43.7L218.5,43.7L219,43.2L220.5,43.2L221.5,42.2L222,42.2L222.2,42L222.5,40.4L223,40.5L223.5,40.3L224.5,39.2L225,39.1L226,39.5L226.8,40.5L226.6,42L226.2,42.5L226,45L225.3,46L224.5,46.8L224,46.8L223.5,47.3L220.5,47L219,47.3L217.5,48.1L217,48.8L216.8,49.5ZM138.7,42L138.7,41.5L138.5,41.2L138,41.3L137.9,41.5L138,42.2L138.5,42.3ZM153.3,50L154.4,49.5L154.2,48.5L153.9,48L153,47.1L152,46.6L150,44.9L149.5,44.8L149.1,45L148,46L146.5,46.2L146,45.7L145.5,45.8L144.5,46.7L144,46.9L143.8,46L144,44.5L144.5,44.2L146,44.4L146.4,44L146.3,43.5L146,43.2L145.5,43L142,43.8L141.9,44L141.9,45.5L141.5,46.4L141,47.2L140.5,47.4L139.6,47L139.5,46.5L140,46L140.5,45.9L140.9,45.5L139.4,44L139.4,43.5L139,43.1L137.5,43.2L136.5,43.6L136,44L135.8,45L135,45.2L134.7,45.5L135.3,46L134.8,47.5L135.2,49L135.9,49.5L138,50.2L139,50.3L140.5,49.7L141.5,50.1L143.5,50.2L148,49.7ZM153.3,44L153.3,43.5L153,43.2L152.7,43.5L152.6,44L153,44.3ZM146.5,48.7L146,48.8L145.5,48.7L144.4,47.5L146,47.3L147,47.5ZM156.1,50L156,49.5L155.5,49.2L154.8,49.5L154.9,50L155.5,50.3ZM203.5,53L203,52.7L202.8,52L203.5,51.4L204.3,51.5L204.6,52L204.4,52.5L204,52.9ZM66.5,57.7L65.5,57.6L63,56.7L62.5,56.4L62.4,56L63.5,55.8L64,55.2L65,55.3L65.5,55.8L66.5,54.8L67,54.8L67.5,54.5L67.7,55L67.7,56L67,57.5ZM18,59.1L17,58.9L16,59.3L15.5,59.1L14.9,58.5L14.8,58L16,56.8L16.5,56.5L17,57.1L18,57.4L18.6,58L18.8,58.5L18.5,59ZM73,60.1L72,60L71.7,59.5L71.7,59L72.5,57.3L73.5,56.8L74,57L73.8,59.5L73.5,60ZM212.5,60.8L212.4,60L212.6,59.5L213,59.4L213.1,60L212.5,60.5ZM59,63.1L58,63.2L57.5,62.7L56.4,62.5L56.2,62L57,60.8L57.5,60.8L58.5,61.6L59,62.5L59.1,63ZM77,61L76,61.1L75,61L76.5,60.6L77.1,61ZM203.5,64.5L203,64.6L202.5,64.1L202.3,63L202.5,62.4L203.5,63L203.6,63.5L203.9,64ZM213,65.5L212.5,65.5L212.2,64.5L213,62.7L213.5,62.5L213.7,63.5L213.3,65ZM88,68.8L87.5,68.9L86.5,68.7L85,69L84,68.7L83.5,68.3L83.2,67.5L83.1,66.5L83.3,66L83.5,65.8L84,65.9L84.5,66.3L84.7,66.5L84.8,67L86,68.4L88,68.4ZM121,72.6L120,72.5L118.5,71.1L118,71.2L115.8,69L116,68.5L119.5,71L122.5,71.9L124,71.8L124.5,72L121.5,72.1ZM194,69.4L192.5,69.4L192.4,69L193,68.9L193.4,68.5L193.5,68.1L194,68.5L194.2,69ZM195.5,71.2L195,71.3L194.5,71.2L194.3,70.5L194.5,69.7L195.7,70.5L195.8,71ZM210.5,70.5L210,70.8L209.5,70.8L208.8,70.5L209,70.1L209.5,70L210,70.1ZM144,73L143.5,73.5L143,73.4L142.7,73L142.9,72.5L143.5,72.4L143.7,72.5ZM68.5,79L68,78.9L67.8,78.5L67.9,78L68.3,77.5L67.3,76.5L67.8,76L67.9,74.5L69,73.5L71,73.9L71.7,74.5L71.9,75L71.7,75.5L70.3,76.5L69.9,77L69.5,78.2ZM132,74.6L131.7,74.5L132,73.9L132.5,73.7L132.9,74ZM223,83.1L222.5,83.2L220.8,81.5L220.7,80.5L220,79.8L219,79.8L218,78.7L217.5,78.7L217,79.2L216,79L215.7,78.5L215.7,78L216,77.5L216.5,77.2L218.5,77.2L219,77L220,75.2L220.5,75.1L221.3,75.5L221.5,76L221.3,77L221.4,77.5L223.7,80L223.1,81L223.3,82.5ZM196,78.1L195.4,77.5L195.5,76.7L196,77L196.2,77.5L196.4,78ZM99,85L96.5,85.1L94.7,84L94.1,83.5L94,83.1L93.5,83.1L91.5,83.7L90,84.7L89,84.8L88,83.7L87.7,82.5L88,81.8L88.5,81.5L89,81.5L91,82.1L92.5,81.9L93.5,82.9L94,83L94.5,82.8L95.5,82.1L95.8,81.5L95.5,80L95.7,79L96,78.7L98.5,77.7L99.5,78.2L100.1,79L100.9,81.5L100.7,82.5L99.9,84.5ZM139,80.5L138.5,80.4L137.7,80L137.6,79.5L138,78.7L138.5,78.6L139,79.1L139.3,80ZM76.5,84.1L75,84.5L73.5,83.6L72,83.4L71.4,83L71,82.5L71.1,82L72.5,80.3L73.4,79.5L74,79.3L75,79.4L76,79.9L77,80.8L77.5,81.3L77.9,82L77.7,83.5L77.5,83.8ZM69,82.7L68.8,82.5L68.9,82L68.3,81.5L68.4,81L67.9,80.5L68,79.5L69.4,82L69.5,82.5ZM199.5,82L197.8,80.5L198,80L199,80.2L200,79.9L200.5,80.2L200.8,81ZM222,84.6L221.5,84.7L220.5,84.2L218.6,83L219.5,82.8L220,83.4L221.5,83.4L222.1,84ZM141.5,99.5L141,99.4L140.5,98.9L139,98.3L138.7,98L138.5,97.5L138.9,95L138,92.4L136.9,91.5L134.5,90.7L132.7,88L133,87.4L134.5,86.6L136.5,86.9L138,86.3L140.5,83.7L141,83.5L142,83.9L142.8,85L145,85.6L146,86.1L148.3,88.5L147.8,90.5L147,92L146.9,92.5L147.5,94L148.9,95.5L148.7,96.5L149.3,98L149.1,98.5L148.5,99L147,99L146,99.4L143.5,98.7L142.5,99ZM153.5,89.7L153,89.7L152.1,88.5L152.1,88L152.5,87L153.5,87.5L154.5,87.4L154.9,87L155.5,85.3L155.6,87.5ZM83,88.2L81.5,87.9L80.9,87.5L80.8,87L81,86.5L81.5,86L82.3,86L83,86.5L83.5,87.5L83.3,88ZM218,87.4L217.5,87.4L217,87L216.8,86.5L217,85.7L217.5,85.5L218,85.8L218.5,86.4L218.5,87ZM155,89.7L154.8,89L155.5,88.5L155.5,89.5ZM157.5,97.8L155,95L155.8,94.5L156,94L155.5,92.5L155,92L155.5,91.5L155.5,91L156,90.9L157.5,89.9L160.5,88.8L161,88.2L161.5,88.1L162.5,88.4L162.2,89L162.2,90L161.7,90.5L161.7,91.5L161.3,92L161.2,93L160.7,93.5L160.5,94.3L159.9,94.5L159.7,95L159.9,95.5L159.6,96L158.5,97.3L158,97.3ZM227.5,105.5L225.5,105.3L223.5,104.7L221.5,104.5L219,103.5L218,102.7L216,102.6L215.5,103L215,102.9L213.5,103.1L213,103.6L212.8,103.5L212.7,103L212,102.2L210.5,101.6L210.1,101L210.1,100.5L210.5,99.8L212.5,100.2L213.5,100.1L213.6,100L213.6,98.5L213.3,98L211.1,96.5L210.8,96L210.8,92.5L211.4,91.5L213,90.8L214,90.6L216.5,90.9L219,90.6L221,91.3L222.5,90.5L223,90.4L223.5,90.5L226.5,92.5L227.5,92.6L229.5,92.2L230,92.5L230.2,93.5L230.9,95L230.9,95.5L230.5,95.9L229.5,95.9L228.7,96.5L227,96.8L226.1,96.5L225,95.7L222.8,97L222.4,97.5L222.5,98L223.7,98.5L225,98.6L226.5,98.3L229,98.8L231,98.7L232.5,99.9L233.5,100.5L233.9,101L234,101.5L233.6,102L233.5,102.4L233,102.8L232,103.1L230.5,104.4ZM204,93.5L203.4,93.5L205,91.8L205.5,91.4L205.6,91.5L205.5,92.5ZM74.5,118.5L74,118.1L73.9,117.5L74.6,116.5L74.7,115.5L72.9,113L72.8,112.5L74.1,111L74.3,110L73.9,109L73,107.9L72.9,107.5L72.8,105.5L73.4,105L73.5,104.5L75,105.7L76,105.9L77.1,105.5L77.5,105L77.6,103.5L78.2,101.5L77.5,99.7L75.5,98L75.5,97L75.8,96.5L77,95.7L79,96L80.4,95.5L82.2,94.5L82.5,93.7L83,93.8L83.6,95L84.1,95.5L85,96L86,96.3L88.7,95L89,94.5L89.4,93L88.9,92L89,91.8L93,91.8L94,92.1L94.5,93L94.7,94.5L94.6,95L93,95.7L92,95.9L89.5,95.8L89,97L89,98.5L88.9,99L88.1,100L87,103.8L86.5,104.5L85,104.4L83,105.2L82,105.3L81,105L80.5,105.1L79.8,105.5L79.6,106L79.7,106.5L80,107.3L80.7,108L80.5,109.5L80.7,110.5L80,111.9L79.1,114.5L78.7,116.5L78.3,117L77,117.9L75.5,118.1ZM141,105L139.5,105.1L139,104.5L139,104L138,102.2L137.5,101.7L137,101.7L137,100.8L137.5,100.6L138,100L138.5,99.7L139,99.7L140,100.1L141,100.1L142.3,101.5L142.4,102L141.1,103.5ZM208,105.5L207.5,105.1L207.5,104.8L208,104.3L208.5,104.3L208.5,105ZM244,113.2L243.5,113.2L243,113L242.8,112.5L242.9,110.5L243.5,109.9L244,109.8L245.8,108L245.8,107.5L246.3,107L246.5,105.9L247.1,106.5L247.5,107.5L248,107.5L248.9,106.5L250.5,105.4L251,105.1L251.5,105.4L251.5,107.7L251.3,108L251.3,108.5L249,110.8L248.5,110.8L247,112.1L245,112.6ZM227,111.7L225.8,110.5L225.8,109.5L225.3,109L225.8,108.5L225.5,108.1L225,108L226,107.3L227,107L228,107.5L228.2,108L227.2,110L227.5,111.5ZM82,111.5L81.8,111.5L81.3,110.5L82,110.2L82.5,110.5L82.1,111ZM78,122.6L77.5,122.2L77,122.2L76.5,121.7L76,121.7L75,120.6L74.5,120.6L74,120L74,119.8L76,120.6L78,120.5L78.5,121L78.3,122.5Z" fill="#f7de14" fill-rule="evenodd"/>
<path d="M94,16.6L93,16.8L91.5,16.7L90,16.9L89,16.5L87.2,14.5L87.2,12.5L87.6,11.5L88.5,10.9L91,10.7L93,11.2L95.6,11.5L96.1,12L96.5,13L96.1,15L95.5,15.9ZM116,20.7L115.5,20.4L115.1,19.5L116.4,19.5L116.5,20ZM209,24L208.5,24L208,23.7L207.7,23L208,20.6L208.5,20.4L209.5,20.9L210.4,22L210.2,23L209.5,23.8ZM42,23.5L41,23.7L40.5,23.4L40.3,23L40.5,22.4L40.9,22L42,21.7L42.5,21.6L43.4,22L43.5,22.5L43,23.1ZM142.5,24.5L142,24.6L141.1,24L141,23.4L141.5,22.5L142.5,22.5L143,23L143,23.5ZM40.5,27.2L40,27.4L39.5,27.2L39.1,26L39,25.5L39.2,25L40,24.5L41,24.6L41.4,25.5L41.3,26.5ZM208,50L207,50.2L204.5,49L202.5,47.2L201,46.3L199.5,45.1L198,44.5L196,42.9L195,42.9L193,43.8L191,43.9L189,43.8L186.5,44.6L185.8,44.5L185.3,43.5L184,42.4L183.1,40.5L182.3,38L182,35.4L181.5,34.4L180.5,34.1L179.5,33L177.5,33.1L176.8,32.5L176.8,31.5L177.9,29L177.7,27.5L177.9,27L179,25.9L180,25.5L183.5,25.6L185.5,26.1L185.8,27L185.9,28L185.5,29.6L184.6,30.5L182.5,31.3L181.3,32L180.9,32.5L180.9,33L181.5,33.4L182.5,33.3L184.5,33.8L186.5,33.7L188,33L189.5,31.7L190.5,31.9L192,33.2L192.5,33.3L194.5,33.2L195,33.1L196.6,32L197,32.2L197.6,33L197.4,34L197.5,34.5L198,34.8L199,36.2L201,34.8L201.5,35L204.5,38.1L206,39.1L206.5,39.4L208,39.5L209,39.9L209.5,40.4L209.7,41L209.7,44L210.1,46.5L209.8,47.5L208.9,48.5ZM57,51L56,51.4L55.5,51L55.6,50.5L56.2,49.5L56.2,48.5L55.2,46L54.3,45L53.2,43L52.9,42L52.7,39L52.2,38.5L50.5,37.6L49,37.5L48.1,37L47.5,36L47,34.1L46.5,33.5L46,33.3L45.5,33.4L45,34.1L44.5,34.3L42.5,34.7L41,36.9L40.3,36.5L40.1,36L40.5,35L41,34.6L42,34.4L42.3,34L42.3,33.5L41.5,31.5L41.6,29.5L41.2,28.5L41.3,28L41.5,27.8L42,27.6L44,27.7L47,27L48.5,27.2L50.4,28L51.5,28.7L52.1,29.5L52.5,31L56.2,34.5L57,34.7L59,34.4L60,34.7L61.5,34.8L63.7,35.5L64,36L64.4,38L63.8,40.5L63.3,41L62,41.5L61,42.1L60.5,42.6L60.2,43.5L60.2,46L60.8,47.5L60.9,49L60.5,49.5L58,50.3ZM130.5,33.6L129.5,33.2L128.7,32.5L128.6,31.5L128.7,30.5L129,29.8L130,29L130.7,28L131.3,27.5L132,27.3L132.3,27.5L132.4,28L132,28.8L131,29.9L130.8,30.5L130.8,31L131.6,32L131.7,32.5L131,33.5ZM142,31.1L141,31.4L140,31L139.7,30.5L139.7,30L140,28.8L140.3,28.5L141.5,28.6L143,29.6L143.2,30L143.1,30.5ZM207.5,30.2L206.5,30.1L206,29.8L205.7,29L206,28.5L206.5,28.3L207,28.3L207.9,29L208.2,29.5L208,30ZM124.5,31.7L124,31.7L122.9,30.5L122.9,30L123.1,29.5L123.5,29.3L124.5,29.3L125.1,30L125.1,30.5ZM213.5,32.4L212.5,32.5L212,32.2L211.5,30L211.7,29.5L213,29.2L213.9,29.5L214.4,30L214.5,30.5L214.3,31.5L214,32ZM159,36.6L155,36.1L154.5,35.8L154.2,35.5L154,34.5L154,33.5L154.5,32.6L155,32.4L157,32.7L158.5,32.4L159.5,32.5L160.3,33L161,34.2L161.7,34.5L162,35L161.7,35.5L160.5,35.8ZM143.5,36.6L142,36.8L141.5,36.7L141,36.3L140.6,35.5L140.4,34.5L140.5,33.2L141,32.7L143,33.5L144.8,35L144.4,36ZM168.5,39L167.9,38.5L167.7,38L167.8,37.5L168.5,37.6L168.8,38L168.8,38.5ZM182,65L181.5,64.9L180.3,64L179.1,62L177.5,60L177.7,58.5L179.1,56.5L179,56L178.4,55.5L177.5,55.1L173.5,55.2L171.5,54.7L169.8,53.5L168.5,52L168,51.8L166.5,52.2L164.5,51.4L161.5,51.3L161,49.9L160.1,48.5L159.7,47.5L159.5,44.5L159.9,43.5L160.5,42.8L161,42.3L162,42.1L163.5,42.8L164.5,42.9L165.3,42.5L166,41.8L166.5,41.7L167.8,43.5L168.5,44L170,44.5L171.7,46.5L173,46.6L174.5,47.1L177,47.4L179.5,48.3L180.1,49L180.5,50L180.5,51L180,52.3L180,53L180.5,53.7L181.5,53.7L183,53.3L184,53.4L185.5,54.6L186.9,55.5L187.4,56L187.3,56.5L186.6,58L186.6,59.5L186,59.6L183.7,62L183.5,64.2ZM224,46.5L223.5,46.5L222.5,45.7L220.7,45L220.4,44.5L220.8,44L222.5,42.8L223.5,42.5L224.5,42.8L224.8,43L224.8,43.5L224.2,44.5L224.2,45L224.5,46L224.3,46.5ZM173,45L172.5,44.6L172.3,44L172.5,43.5L173,43.3L173.9,43.5L174.4,44L174,44.6ZM50.5,52.2L50,52.4L49.5,52.1L49.3,51.5L49.9,50L50,48.3L50.5,48.4L51.2,49L51.7,49.5L51.8,50L51.6,51ZM132.5,66.3L127,66.4L124,65.4L122,64.2L121,63.3L118.6,60.5L118.1,57L117.6,56L117,55.4L115.3,55L114.7,54.5L114.5,54L114.5,52.5L116.5,50.5L117.5,50.2L119,50.3L121,49.8L122.5,49.7L126.5,50.1L128.5,49.9L130.5,50.2L133,50.4L135,50.2L139,51.7L142.9,51L145,51.1L147,50.8L150.5,50.6L153.5,50.9L155.5,51.5L156,51.5L159,50.8L161.5,51.6L163,53.6L165.5,54.3L166.5,54.7L167.5,55.5L168.5,56.8L168.5,57L168.2,57.5L168.2,58L167.7,58.5L167.7,59L164.5,62.2L164,62.2L163.5,62.7L163,62.7L162.5,63.2L162,63.2L161.7,63.5L162.5,64.5L161,65.3L157.5,65.1L156.5,64.7L155.5,63.5L154.7,61.5L152.5,59.8L152,60L151.2,63L150.5,63.8L148,64.5L141.5,65.2L138.5,64.6L135.5,64.6L134.2,65ZM151.7,55.5L151.7,55L151,54.4L149.8,54.5L149.5,55L151.5,55.9ZM156,70.5L154.5,70.4L154,69.7L153.6,68L153.9,67.5L155.5,66.8L156.5,67L156.9,67.5L157.2,68.5L157,70L156.5,70.4ZM149.5,78L148.5,77.7L148,77L147.6,75L148,73.6L148.5,73L149.5,72.7L150,72.8L150.5,73.2L151.4,75L151.6,76L151.5,76.5L150.5,77.6ZM98,83.2L97,82.9L96.8,82.5L96.9,82L97.5,81.1L98.5,80.7L99,81.1L99.2,82L99,82.5L98.5,83ZM142.5,90.1L141.5,90.5L141,90L141.5,89.1L142,88.8L142.5,88.7L143.1,89L143.1,89.5ZM146,97.5L145,97.9L142,97.7L141,97.4L140.5,97L140.4,95.5L139.8,94L139.8,93.5L140,92.7L142,92.1L143,92.2L144.5,92.6L145,93.1L145.6,94.5L146.7,95.5L146.6,96.5ZM79.5,104.6L78.8,104.5L78.4,104L78.4,103.5L79,102.4L80.4,101.5L80.3,101L79.5,100.7L78.8,100L77.9,98L78,97.3L81,96.2L82,96.1L85,97.2L87,97.6L87.5,98L87.6,98.5L86.8,101L86,102.5L83,104.2L81,104ZM227,104.1L226,104.1L224.5,103.6L222,103.8L221.2,103.5L220.7,103L220.4,102L220.7,100.5L221,99.8L222,99.4L224,100L227.5,99.6L230.5,100.1L231,100.5L231.1,101L230.7,102.5L230.1,103.5L229,103.8ZM77,115.2L76.5,115L76.2,113.5L75.6,112.5L75.5,112L76.1,108.5L76.4,108L77,107.9L78.5,108.4L78.9,109L79,109.5L78.5,112L77.8,113L77.3,115Z" fill="#ffffff" fill-rule="evenodd"/>
<path d="M185,37L184.5,36.9L184.2,36.5L184.3,36L184.5,35.7L185,35.4L185.5,35.5L186,36L186,36.5L185.5,36.9ZM189,41.7L188.5,41.7L187.9,41.5L187.6,41L187.7,40L188.5,39L189.1,37.5L189.5,37.1L190.5,37.2L191.3,38L191.3,39L191,39.6L190,40L189.5,41.3ZM175,54L173.5,54L171.5,53.2L170.7,52.5L170.4,52L170,49.5L170,49L170.2,48.5L171,48.3L174,48.3L177.5,48.9L178.8,49.5L179.1,50L179.1,51L178.5,53.1L178,53.6ZM132,65.1L128,65.4L124.5,64.5L123.5,64L121.7,62.5L120,60.4L119.6,59.5L119.4,56L119.6,55.5L121.7,52.5L122.5,51.8L123.5,51.2L125,51.1L127,52L129,52.4L132,54L136.5,55.3L137.5,55.5L139.5,55.3L143,55.7L145.5,56.4L149,56.5L150,56.8L150.4,57.5L150.6,58.5L150.5,61.5L150,62.4L149,63L143.5,63.8L139,63.4L135,63.6L134,63.8ZM164.5,61.1L161.5,61.2L160.5,60.8L159.1,60L158.3,59L157.8,58L157.8,57L158.2,56L159,55.6L161.5,55L166.5,56.6L166.9,57L167,57.5L166.3,60L165.5,60.7ZM154.5,58.3L154.3,57.5L154.5,56.9L154.9,57.5L154.9,58Z" fill="#16a8fc" fill-rule="evenodd"/>
<path d="M177.5,52.7L176.5,53L175,52.7L174,52.9L173.5,52.7L171.5,51.7L171.2,50L171.5,49.5L172.2,50L172.5,50.5L172.8,50.5L173,50.4L173.3,49.5L174,49.3L176,49.7L177,49.6L178,49.8L178.4,50.5L178.4,51L178,52.1ZM131.5,64.6L128,64.6L125,64L124,63.7L123.2,63L122,60.7L120.9,59.5L120.7,58.5L120.8,56.5L123,53L123.5,52.5L124.5,52L125.5,52.1L128.7,53.5L129.5,54L130.5,55.1L132,55.5L134,55.4L136,56.6L137,56.7L139,56.2L142.5,56.5L144,56.7L145.5,57.3L149,57.2L149.5,57.3L150,58L149.6,61.5L149.3,62L148.5,62.4L143.5,63.2L142.5,63.2L141,62.7L139.5,62.6L135,62.9L134,63.1L132.5,64.1ZM165,60.1L163.5,60.4L162,60.4L160.5,60L159.6,59.5L159,58.8L158.6,58L158.6,57L159,56.4L161.5,55.7L162.5,55.9L164,56.5L165.7,57L166.1,57.5L166,58L165.5,59.6Z" fill="#1e38f6" fill-rule="evenodd"/>
<path d="M132,63.2L129,63.1L127.5,62.6L124.5,62.9L124.1,62.5L123.3,60L123.2,58.5L122.8,57.5L122.8,57L123.5,55.9L123.8,54L124.1,53.5L125,53L127,53.7L127.5,54L128.6,55.5L130,56.4L134,56.9L137,57.9L138.5,57.5L140,57.7L141.5,57.4L143,57.5L145.5,58.3L148.5,58.4L148.9,59L148.7,61L148,61.7L143.5,62.3L142.1,61.5L141,61.1L138.5,61.3L133.5,62.2ZM161,58.8L160.5,58.8L160.1,58.5L160,58L160.1,57.5L160.5,57.1L161,57L161.3,57.5Z" fill="#a418ea" fill-rule="evenodd"/>
</g>
<use href="#water" fill="#fff"/>
<use href="#coast" fill="none" stroke="#1a1414" stroke-width="0.62" stroke-linejoin="round"/>
<use href="#water" fill="none" stroke="#3a3030" stroke-width="0.35"/>
</g>
<rect x="-0.15" y="-0.1" width="252.2" height="125.2" fill="none" stroke="#222" stroke-width="0.9"/>
<text x="0" y="130.2" font-size="3.9" text-anchor="middle" class="t">180</text><text x="42" y="130.2" font-size="3.9" text-anchor="middle" class="t">120W</text><text x="84" y="130.2" font-size="3.9" text-anchor="middle" class="t">60W</text><text x="126" y="130.2" font-size="3.9" text-anchor="middle" class="t">0</text><text x="168" y="130.2" font-size="3.9" text-anchor="middle" class="t">60E</text><text x="210" y="130.2" font-size="3.9" text-anchor="middle" class="t">120E</text><text x="252" y="130.2" font-size="3.9" text-anchor="middle" class="t">180</text><text x="-1.6" y="1.8" font-size="3.9" text-anchor="end" class="t">90N</text><text x="-1.6" y="10.1" font-size="3.9" text-anchor="end" class="t">80N</text><text x="-1.6" y="18.5" font-size="3.9" text-anchor="end" class="t">70N</text><text x="-1.6" y="26.8" font-size="3.9" text-anchor="end" class="t">60N</text><text x="-1.6" y="35.1" font-size="3.9" text-anchor="end" class="t">50N</text><text x="-1.6" y="43.5" font-size="3.9" text-anchor="end" class="t">40N</text><text x="-1.6" y="51.8" font-size="3.9" text-anchor="end" class="t">30N</text><text x="-1.6" y="60.1" font-size="3.9" text-anchor="end" class="t">20N</text><text x="-1.6" y="68.5" font-size="3.9" text-anchor="end" class="t">10N</text><text x="-1.6" y="76.8" font-size="3.9" text-anchor="end" class="t">EQ</text><text x="-1.6" y="85.1" font-size="3.9" text-anchor="end" class="t">10S</text><text x="-1.6" y="93.5" font-size="3.9" text-anchor="end" class="t">20S</text><text x="-1.6" y="101.8" font-size="3.9" text-anchor="end" class="t">30S</text><text x="-1.6" y="110.1" font-size="3.9" text-anchor="end" class="t">40S</text><text x="-1.6" y="118.5" font-size="3.9" text-anchor="end" class="t">50S</text><text x="-1.6" y="126.8" font-size="3.9" text-anchor="end" class="t">60S</text>
<rect x="56" y="143" width="20.2" height="4.8" fill="#f6322e"/>
<rect x="76" y="143" width="20.2" height="4.8" fill="#ff8a14"/>
<rect x="96" y="143" width="20.2" height="4.8" fill="#f7de14"/>
<rect x="136" y="143" width="20.2" height="4.8" fill="#16a8fc"/>
<rect x="156" y="143" width="20.2" height="4.8" fill="#1e38f6"/>
<rect x="176" y="143" width="20.2" height="4.8" fill="#a418ea"/>
<text x="76" y="153" font-size="5.4" text-anchor="middle" letter-spacing="0.35" fill="#222">-40</text>
<text x="96" y="153" font-size="5.4" text-anchor="middle" letter-spacing="0.35" fill="#222">-20</text>
<text x="116" y="153" font-size="5.4" text-anchor="middle" letter-spacing="0.35" fill="#222">-10</text>
<text x="136" y="153" font-size="5.4" text-anchor="middle" letter-spacing="0.35" fill="#222">10</text>
<text x="156" y="153" font-size="5.4" text-anchor="middle" letter-spacing="0.35" fill="#222">20</text>
<text x="176" y="153" font-size="5.4" text-anchor="middle" letter-spacing="0.35" fill="#222">40</text>
</g>
<g transform="translate(291,242.5)">
<text x="27.8" y="-3.7" font-size="7.5" textLength="10.6" lengthAdjust="spacing">(d)</text><text x="44.2" y="-3.7" font-size="7.5" textLength="28.6" lengthAdjust="spacing">number</text><text x="79" y="-3.7" font-size="7.5" textLength="7.4" lengthAdjust="spacing">of</text><text x="91.8" y="-3.7" font-size="7.5" textLength="25.8" lengthAdjust="spacing">models</text><text x="123.8" y="-3.7" font-size="7.5" textLength="29" lengthAdjust="spacing">showing</text><text x="159" y="-3.7" font-size="7.5" textLength="14.6" lengthAdjust="spacing">loss</text><text x="179.8" y="-3.7" font-size="7.5" textLength="7" lengthAdjust="spacing">of</text><text x="192.2" y="-3.7" font-size="7.5" textLength="34.2" lengthAdjust="spacing">resilience</text>
<g clip-path="url(#frame)">
<g clip-path="url(#land)">
<rect x="0" y="0" width="252" height="125" fill="#f6322e"/>
<path d="M94.5,26L94.2,25.5L93.9,24L92.8,21.5L92.9,21L95.5,19.5L96,19L96.1,18.5L95.6,17L96.3,15.5L96,13.5L97,11.9L97.5,11.6L98.5,11.4L99,10.8L99.7,8.5L98.9,5.5L98.4,5L96.6,4L96,4L95.5,4.5L94.4,4.5L93.6,5.5L93.4,7L93,7.7L92.5,7.9L91.5,7.6L90.1,8L88,9.5L87,10.8L85,12L84.3,13L84.5,13L85.9,14.5L85.9,15L86.9,16L86.9,16.5L86.5,17L86.5,18L87,18.5L87,19L87.9,20L88,20.5L89.5,20.6L90.3,21L90.4,21.5L89.7,22.5L90,23L92.5,25.6L93,25.6L93.5,26ZM106.1,10.5L107,9.9L108,8.5L108.5,8.4L110,8.6L111,8.3L111.7,7.5L111.6,7L110.5,5.9L109.9,5L109.5,4.9L109,4.4L107.5,4.4L107,3.9L104.3,4L105,4.8L106.5,5.2L107,5.5L107.1,6L107.2,7L107,7.4L106,8L104.5,10L105.2,10.5ZM117.9,7.5L118.3,7L118,6.5L117,5.5L115.3,5.5L115.5,6.1L117,7.5L117.5,7.6ZM169,9L169.5,7.6L170,7L169,6L168,5.9L167.5,5.4L165.7,5.5L165.5,6.5L164.1,7.5L163.9,8L164,8.5L165,9.1ZM138.1,12L138.5,11.6L139,11.6L139.5,11.1L140,11L141,10L142.9,10L142.5,9.5L142.4,8L140.5,7.4L140.1,7L140,6.5L138,6.5L137.5,6.5L138.4,7.5L138.5,8L138.3,8.5L137.5,9.3L137.1,9.5L135,9.1L133.5,8.4L132.5,8.2L132,8.5L134,10.6L134.5,10.6L135.5,11.6L136,11.6L136.5,12ZM191.6,20.5L192.7,19.5L192.8,19L193.5,18.4L194,18.4L195,18.8L196,19.8L196.5,19.9L197,19.5L197,19L196,18.7L195.5,18.2L194.7,16.5L194.2,15L194.4,14.5L195.6,13.5L195.7,12.5L196,12L197.3,11.5L198.7,10.5L199,10L199,9L198.5,8L197.5,7.8L196.8,8L196,9.5L195,10.3L194.5,10.5L193,10.4L192,10.6L189.5,12.2L188,13.9L187.5,14.1L187,13.8L185.5,11.2L185,11.5L184,11.4L183.5,11.9L182.5,12L183.2,13L183.3,14.5L184,15.3L184.5,15.5L186.5,14.8L187.5,14.7L188.3,15.5L188.5,16L188.9,18.5L189.2,19.5L190.5,20.6L191,20.7ZM70.2,11L71,10.3L71,9.9L70.5,9.5L70,9.6L69.4,10.5L69.5,11ZM230.6,17L230.8,16.5L230.9,15.5L230.5,14L230,13.3L228,12.5L227.5,12L227.9,11L229,10.5L226,10.4L225.5,9.9L223.5,9.9L223,10.5L222.5,10.5L222.7,11L222.1,11.5L220.5,12L220,12.5L220,13L219.4,13.5L220,14.1L222,14.7L224,15.9L224.5,15.7L224.5,12.5L225.4,12L226.4,12L226.9,12.5L227.1,14.5L227.5,15.7L228,16.5L229.5,17.5L230,17.5ZM60,12.5L60.5,12L60.7,11L60.3,10.5L59.5,10.5L58.8,11L58.7,11.5L59.5,12.4ZM83.5,12.5L82.5,10.5L82,10.2L81,10.5L80.5,11L80.4,12L80.7,12.5ZM173.5,15.5L175.5,13.9L176,13.8L178.1,14.5L179,15.2L179.3,13.5L178.5,13.4L178,14L176.5,12.4L174.5,12.4L174.1,12L175,11L175,10.7L173,11.6L172.5,11.5L171.5,10.2L171,10.3L170.8,11L170.8,11.5L171.8,13L172,13L172.5,12.5L173,12.5L173.4,13L172.1,14.5L172,15.5L172.5,15.9L173,15.9ZM207.7,15L208.4,14L208.5,13.2L208,12.7L207.5,12.5L206.5,11.5L205.5,11.5L204,12.3L203.5,12.7L203.4,13L203.8,13.5L206,15.1L206.5,15.4L207,15.4ZM167.2,13L167.2,12.5L167,12.4L166.5,12.5L165.9,13L166,13.2L166.5,13.4ZM48.3,14L48.4,13.5L48.1,13L47.5,12.8L47.4,13.5L47.5,13.8L48,14.2ZM110.4,15L111,14.7L112,14.9L112,14.5L113,13.5L113,13.2L112.5,12.7L112,12.9L111,13.8L109.9,14.5L109.6,15L110,15.2ZM63.6,19L63.6,17L64,16.2L64.7,16L64.8,15.5L64.5,14.9L63,14.6L62.2,15L61.6,16.5L60.5,17.5L60.6,18L61.5,18.7L63,19.3L63.5,19.2ZM191,16L190.4,15.5L190.5,15L191,14.7L191.3,15ZM2.6,19.5L3.1,19L3.4,18L3.2,17L2.5,16.5L1.5,16.8L0.5,15.9L0,15.9L0,19.6ZM202.3,24L203,23.4L203.3,22.5L203.1,22L201.5,20.5L201.6,20L202,19.5L203,19L203.5,18.5L203.5,18L203.2,17L202.5,16.2L202,16L199.5,16.8L199.2,17.5L199.1,19.5L198.4,20.5L198.6,21L199,21.3L200.5,22L200.9,22.5L200.7,23.5L201,24.3L201.5,24.4ZM144.5,104.5L145,104L146.1,101L146.5,100.5L147.5,100.5L148,100.8L149.6,99.5L149.6,99L150.1,98.5L150.1,97.5L150.6,97L150.6,96.5L152,95L152,91L155.5,87.5L155.6,84.5L155.1,84L155.1,82.5L154.6,82L154.6,79.5L155,79L155,78L156,77L156.1,76.5L157.1,75.5L157.1,75L158.3,73.5L157,72.3L156.6,71.5L156.7,70L157.4,68.5L157,68L155,66.6L154.1,65L152.3,63.5L152,63L152.5,62.5L154.5,62L155.1,63.5L155.5,64.1L158,64.9L159,64.8L161.5,63.7L162,63.1L162.5,63.1L163,62.7L163.5,62.6L164,62.2L164.5,62.2L167.6,59L167.6,58.5L168.1,58L168.1,57.5L169.1,56.5L169.1,56L169.5,55.6L172.5,55.7L172.8,56L172.8,56.5L174.9,58.5L174.9,59L175.4,59.5L175.5,61.5L176,62L176,62.5L176.5,63L176.5,64L177,64.5L177,65L177.5,65.5L177.5,66.5L178,66.8L178.5,66.6L179.4,68L179.2,68.5L179.5,69L180,69.5L180.7,69.5L182,68.3L183,66.8L183.1,65L183.5,64.5L183.5,63.2L182.5,63.1L181.5,62L181,61.7L180.5,61.8L179.5,62.5L178.5,62.9L177.5,62.9L177,62.6L176.3,61.5L177.1,60L177.2,59L177.8,58.5L179.5,58.3L181,58.8L182,58.7L182.3,58.5L182.3,57L183,56.1L183.5,56.3L184.2,57L185.5,59.9L186,59.5L186.5,59.5L188,58.1L188.5,58.1L189,57.6L190,58.5L190,59L190.5,58.9L192,58.1L192.2,57.5L192,56.9L191,56.8L190.5,56.5L189.9,55.5L189.7,54.5L189.9,54L191.5,53L192,52.9L192.6,53.5L192.9,54.5L193.5,55L196,55.6L198,57.5L199.1,59L200,59.5L201.5,59.7L202,59.7L205.5,56.6L206,56.4L206.5,56.5L207,57L207.5,56.5L208,56.5L208.7,56L208.6,55L209,54.3L209.5,54L210.5,54.2L211.2,55L211.6,56L211.4,56.5L211,56.9L210.5,57.2L210,57.2L210,57.5L210.4,58L209,59.5L209,60L208.5,60.5L208.5,62.1L209.5,61.3L210,61.2L211,61.3L212,61L213,60L213.1,59.5L211.5,57.9L211,57.9L210.5,57.5L212,56L212.1,55L212.6,54.5L212.6,54L211.6,53L211.6,52.5L212.1,52L212.1,51.5L212.6,51L212.5,49.5L212.5,49.3L211,49.3L210,48.5L209.8,47.5L210.1,46.5L211,45.9L211,45.5L212.5,44.1L213,44.5L213,45.2L213.3,45.5L214,45.9L215,46.1L215.6,46L215.9,45.5L216.2,44.5L216.5,44.1L217.5,44.3L218,44.5L218.4,45L218.6,45.5L218.5,46L218,46.3L216.5,46.7L216,47.1L215.5,47.6L215.4,48.5L217,50.2L218,50.1L219.5,48.6L220.5,48.6L222,47.1L223.5,47L224.1,46.5L224.1,46L224.5,45.5L225.5,45.5L226,45L226,42.5L226.5,42L226.5,40L226.8,39.5L228.5,39L229,38.5L229.5,38.5L231.1,37L229.5,35.5L228.5,35.5L228,36L227.5,35.5L227.5,34.6L227,34L227,33.5L227.6,32.5L227.3,30.5L227.4,30L226.6,29L226,28.4L225.5,28.4L225,28.9L223.5,28.9L223.1,28.5L224,27.6L224.5,27.6L225,27.1L227.5,27L226.9,25.5L227.8,24.5L228,24L227.5,23.1L227,22.9L226.4,23L226.3,23.5L226.4,25L226,25.2L223.5,25.3L223.2,25.5L222.7,26.5L221.5,26.6L220.5,26.5L217.3,27.5L216.3,29L216.1,30L216.1,31L217.3,32.5L215,34.5L213.5,35.4L212.5,35.1L209.5,33.4L208.9,32.5L208.2,30L206.6,29L206,28L205.5,27.5L205,27.4L200.5,28.2L199.5,28.8L199,28.8L198.9,28.5L199.2,27.5L199,27L197,25.7L196.5,25.4L194.5,25.3L193,24.8L191,23.8L189.5,23.6L188.5,23.6L185.5,24.7L183.5,24.3L181.5,24.4L180,23.7L178.5,22.2L178,21L177.9,19.5L177.5,19.1L177,18.9L174.5,19.3L173,20L171.5,20.1L170.5,21L169.5,21.3L168.5,19.6L167,18.9L166.5,18.2L166,17L165.5,16.7L163.5,17L161,16.5L160.5,16.9L160,16.9L159.5,17.4L158.5,17.5L158,17L158,18L157.7,18.5L156.4,19.5L156.2,20L156.4,21L155.5,21.4L154.5,22.5L154,22.5L153.5,22.3L152.7,21.5L153,19L152.8,18L152.5,17.7L151.5,17.7L150.5,18.5L149.5,18.8L145.5,19.4L144,20.5L144.2,21.5L143.9,23.5L143.5,24.5L143,25.1L142.5,25.2L141,24.7L140.4,23L139.5,21.9L139,21.6L138.5,21.8L137,23.2L136,23.6L133.5,22.5L133,22.5L131.5,23.2L131,23.2L130.6,23L130.4,22.5L130.3,21.5L130,21.5L128,23.5L128,23.8L129.2,25.5L130.5,26.4L132,26.2L134.5,26.2L136,25.2L136.6,26L138.5,27L139.5,26L140,26.6L140.5,26.3L141,26.3L142,26.7L143,27.4L144,27.6L145.4,27.5L145.1,26.5L145.4,26L147,25.1L146.8,23.5L147,22.9L147.5,22.6L148,22.6L148.8,23L149,23.5L148.9,24.5L149.3,25.5L149,26.4L148.5,26.8L147.5,26.4L147,26.4L145.6,27.5L146.1,28L147,28.3L148,29L148.5,29.1L148.7,30L148.4,31L148.5,31.5L150,32.5L151.1,34L150.8,36L150,36.5L149.5,37.1L149.1,39L148.1,40.5L147.8,41.5L145,42.8L143.6,43L144.5,43.6L145.2,44.5L146,44.8L146.5,44.7L147.2,43.5L148,42.7L148.5,42.6L149.5,42.9L150.5,43.5L150.7,44L150.8,45L149.9,48L149.7,50L149.8,50.5L150.7,52L150.6,54.5L150.5,54.8L150,54.9L147.7,54L147.2,53.5L146.8,52.5L146.5,52.1L144.5,51.2L144,50.7L143.5,49.5L143,48.9L140,52.2L139.5,52.6L139,52.6L138.3,52.5L137.6,52L137.4,51.5L137.9,50L137.5,49.4L136.5,48.9L135.5,49.2L134,49.1L133,49.2L131,48.5L130.5,48.6L129,49.6L128,49.7L127,49.3L126.5,48.9L126.4,48.5L126.5,48L127.6,46L128.6,45L128.9,44.5L128.9,44L128,43L127.5,42.7L126,42.9L125.5,43.1L125,44.5L123,45.3L121,45.4L120.5,45.6L119.5,46.8L118.5,47L118,47.5L118,48L117.5,48.5L117.5,49.5L115.6,51.5L116.4,55L115.3,56.5L114.7,58.5L114.8,59L115.5,60.2L116,60.3L117,60L117.5,60.4L117.6,62L117,63.3L116,63.8L115,63.9L114.5,64.5L114.1,65.5L114.5,66L115.5,65.4L116,65.5L116.6,66L117.5,68L117.6,68.5L117,70L118,71L119.5,70.9L121,71.2L123.5,70.5L125.5,70.8L128,70.3L128.2,70.5L128.1,71L128.5,71L130,72.6L130.5,72.6L130.9,73L130.9,74.5L130.4,75L130.4,75.5L130.9,76L130.9,76.5L131.4,77L131.4,77.5L131.9,78L131.9,78.5L132.4,79L132.4,79.5L132.9,80L132.9,80.5L133.4,81L133.4,83L133.9,83.5L133.9,85L133.4,85.5L133.4,86.5L132.9,87L132.9,87.5L132.5,88L132.5,88.6L133,89L133.2,89.5L132.9,91L133.4,91.5L133.4,92L133.8,92.5L133.9,93L134.4,93.5L134.5,95.5L135,95.9L135.3,96L135.5,96.3L135.6,98L136,98.5L135.9,99.5L136.5,100L136.5,100.5L137.5,100L138.1,100L139,100.4L141,102.7L142.5,103.5L143.6,104.5ZM16.4,20.5L17,20L17.5,18.3L18.4,18L18.4,17.5L18,17.3L16.5,17.4L15,17L14.5,17.2L13.4,18.5L13.2,19L13.3,19.5L14,20.1ZM83.3,19.5L83.5,19L82,17.4L81,17.5L81,18.5L81.5,19.7L82.5,19.9ZM237.5,26.5L238.1,26L238.6,25L238.8,24.5L238.6,23L238.9,22.5L240.1,22L240.6,19.5L240.6,19L240,18.4L239,18.9L238,18.9L236.5,17.4L236,17.2L235,17.1L234.4,17.5L234.5,18L236.1,20.5L236,22.3L236.9,24.5L236.7,26L237,26.6ZM250.4,23L251.5,22.1L251.5,18.2L250.4,19L249.5,19.2L247.5,18.9L247,18.6L246,17.4L245.5,17.2L244.5,17.6L244.3,18L244.2,18.5L244.6,19.5L246,20.5L247.5,21L248.4,22L249,23.1L249.5,23.2ZM56.5,61.5L57.2,61L57.5,60.4L57.5,59.5L57,58L57.2,57.5L59,55.9L59.1,54.5L59,53.4L58,53.5L57,52.8L56,52.5L55.4,52L55.5,51L56,49.9L56.4,49.5L57,49.4L57.5,49.9L57.8,51L58,51.1L58.3,51L59,50L61.5,49.6L61.9,51.5L62.5,52.1L63,52.1L64,51.2L65,51.1L65.5,51.6L66.5,51.5L66.5,51L66,49.9L64.1,48L64.6,47L64.1,45.5L64.2,45L65,42.7L66,42.1L67,42L68,42.2L69.5,43.7L71,44L71.6,44.5L71.7,45L71.5,45.4L70.5,46L70.3,46.5L70.7,48L71,48L71.5,47.6L72,47.6L74.5,45L73.5,44.3L73,43.5L73,42.6L73.7,41L73.8,40.5L73.5,40.1L72.5,39.7L71,40.2L70,40L69.5,39.5L69.3,38.5L69.5,38.2L70.5,38L71.1,37.5L70.5,37.2L70,37.3L69.5,37.8L69,37.9L68,37.3L67.5,36.5L67.8,36L69,35L69.5,34.2L69.8,33.5L69.7,32.5L69.5,32.3L68.5,32.5L67.5,33.7L66.5,34.2L65.5,34L65,33.7L64.6,33L64.4,31.5L63.6,30L62.5,29.2L61.5,29.2L61,28.9L60.8,27.5L61,25.4L60.4,24.5L60.4,24L60.6,23L60,22L59,21.6L58.5,22L58.4,23L58,23.7L57.5,23.7L56,23.3L55,23.4L54.5,23.1L54,22L53.5,21.5L52,21.3L50.5,20.7L48.5,20.2L48.1,20L47.7,19.5L47.5,18.5L47,17.9L46,18.1L45.6,18.5L45.6,19.5L45.3,20L44.5,20.6L43.7,20.5L42.5,19.5L42,19.4L40,20.2L38,20.2L36.5,19.6L35.5,19.7L35.1,20L35,20.5L35.5,21.2L36.5,21.7L37,21.7L38,21.1L38.5,21.5L39,23.1L39,24L38.6,24.5L38,24.6L37.5,24.4L36.5,23.5L35.5,23.5L35,23.2L33.8,22L33,21.8L32,21.9L31.6,21.5L31.5,19.5L31.4,19L30.5,18.1L28,17.9L27,18.2L25,20.3L23.8,22L23.1,24L23.1,25L23.5,25.3L24.5,25.6L24.9,26L25,26.5L25.8,26.5L25.1,25.5L25.2,25L27,23.7L27.4,23L27.5,22.4L28,22.2L29.5,23L29.8,23.5L29.9,24.5L31.1,26L30.9,26.5L30,27L30.5,27.6L31,27.6L32,28.3L32.8,27L33.5,26.7L35.5,27.6L36.5,28.5L38,29L39.2,30L39.8,31.5L39.7,32L38.7,33L38.7,34.5L39.5,35.3L40.2,36.5L40.4,37.5L40.4,39L40.9,41.5L40.8,42L40,42.5L39.6,43L39.5,43.7L40,44.2L42,44.1L44.4,45L44.2,46.5L44.4,48L44.3,49L44.6,49.5L46.5,50.9L48.5,51L50.2,51.5L50.5,52L50.5,53L50.9,53.5L52.2,54L53,55.4L54.5,55.9L55.3,57L55.3,59.5L54.7,61.5L55.5,61.6ZM76.4,26L78,24.9L81,23.6L81.5,23.2L82,22.5L82.1,21L81.5,20.4L81,20.4L80.5,20.6L79.5,21.6L78.5,22.3L77.8,22L77.5,20.5L77,20L76.5,19.8L75.5,19.9L74.5,19.6L74,19.7L73.5,20.1L73,20.1L72.2,19.5L71.5,19.5L70,21L69.5,20.5L69.5,20L70.5,19L70.5,18.8L68.5,18.1L67.8,18.5L67.6,19L67.7,19.5L68.5,20.7L69.6,21L69.5,21.6L69,21.3L68.5,21.2L67.8,22L67.8,22.5L68.7,23L69.1,24L69,24.5L69.5,24.5L70,25L70,25.5L69.5,26L70,26.4L71,26.4L71.5,26.2L72.5,25L73,25L74.4,25.5L75.5,26.5ZM215.1,22.5L216,21.3L219,21.7L219.5,21.5L219.5,21L217.5,19.4L217,19.2L216.5,19.3L215.9,20L215,22L215,22.9ZM61.5,24L63,22.5L64,22.6L65,23.5L65.5,23.5L65.9,22.5L65.5,21.2L64.5,20.5L64,20.4L63.5,20.6L63,21.1L62.5,22.4L61.6,23.5ZM117,21L117.5,20.5L117.5,20.2L116.5,20.1L115.9,20.5L116,21.1L116.5,21.4ZM168.5,31L167.5,31.2L167,31.1L166.5,30.5L166.3,29.5L166.6,27L165.7,25.5L166.8,23L169,21.6L170,23.1L172,23.4L172.6,24L172.7,24.5L172.3,25.5L172,27L170.6,28.5L170,30L169.5,30.7ZM244.6,25.5L244.7,25L244.6,24.5L244,23.9L243,23.8L242.2,24L242.1,24.5L242.4,25L243,25.6L244,25.8ZM10.7,31L11.5,30.5L12,29.8L13.5,29L14,28.5L15,28.7L15.5,28.5L15.9,28L16.1,27.5L16.1,26.5L15.9,25L15.5,24.6L14.5,24.4L14.3,26L14,26.8L13.5,27.5L12,28.4L11,27.7L10.5,27.9L9.5,27.9L9,28.4L8.5,28.5L8.3,29L8.5,29.6L10,31ZM215.6,26L215,24.9L214.5,24.6L214.1,25.5L214.3,26L215,26.4ZM119.1,32.5L119.2,32L119,31L119.5,30.5L121,29.8L121.5,29.8L124.5,32.1L125.1,32L125,30.8L124.1,28.5L125,26.6L125,26L124.5,25.8L122,26.8L121,28L120.5,28L120,27.8L119,28L117.5,29.5L117.5,31.5L118.5,32.4ZM140,26.5L139.5,26L140,25.5L140.5,26ZM161.5,27.2L161,27.5L160.9,27L161,26.5L161.5,26.1L161.7,26.5ZM180,37.5L178,36.9L176,36.9L175.4,36.5L175.2,36L175.9,31.5L175.3,29L175.8,28L176.4,27.5L177.5,27.1L179,27.7L180.4,29L181,30.6L182,30.9L183,30.9L184,30.3L185,29.5L186,27.9L186.5,28L188.5,29.3L190,30L190.4,30.5L190.5,32.5L190,33.3L188.5,33.9L186,34L184.5,33.8L183,33L182.5,33.1L181.4,34L181.1,34.5L181.1,36L180.9,37L180.5,37.4ZM236.5,33L238,31.5L238.1,31L236.8,29L236.5,27.6L236,27.4L234.5,28L234.1,28.5L234,29.5L234.5,30.3L235.9,31.5L236,33ZM135.1,35L136.2,34L136.5,33.5L136.3,33L135,32.3L134.5,31L133.5,30.5L133.3,30L133.3,29L133,28.3L132,28.3L130.5,28.8L129,29.6L128,30.7L127.4,32L127.6,32.5L128.5,33.2L129,33.4L131.6,33.5L132.8,34L133.7,35L134.5,35.2ZM86.7,31.5L87.5,31L87.5,30.5L86,29L85.6,29L85.3,30.5L85.4,31L86,31.5ZM52.5,33.7L52,33.8L51,33.3L49.6,32L49.6,31.5L50,30.2L50.8,29.5L51.5,29.2L52.5,29.3L53.5,29.8L54,30.4L54.2,31L54.1,31.5L53.1,32.5ZM60.5,32.2L59.5,32.3L59.1,32L58.7,31L58.8,30.5L60,29.5L61,29L61.5,29.6L61.7,31L61,32ZM71,31.5L72.5,30.7L73.5,30.7L73.7,30.5L73.6,30L73.1,29.5L72.5,29.3L71.5,29.2L71,29.5L70.5,30.1L70.3,31L70.5,31.5ZM206,32.8L204.5,32.6L204.2,32.5L204,32.2L203.5,32.1L203,32.5L200,32.8L199.5,32.6L199,32.1L198.8,31L199,30.7L199.5,30.6L200.5,30.9L202,30.9L203.5,31.9L205,31.8L205.9,32L206.3,32.5ZM140.2,33L140.3,32.5L140,31.9L139.5,31.5L138.7,31.5L138.5,32L139.5,33.2L140,33.3ZM158,33.6L157.5,33.5L156.6,33L156.4,32.5L156.5,32L157,31.4L157.5,31.5L157.9,32L158.3,33L158.3,33.5ZM78,40L78,39.5L78.5,39L79,39L79.5,38.5L80,38.4L81,38.8L81.5,38.4L82.1,37L82.5,36.6L83,36.6L83.4,37L83.2,38L82.8,38.5L83,38.5L85,36.5L85.5,37L85.9,37L85.8,36L86.2,34.5L86,34.1L85.4,34.5L85.2,35L85.2,35.5L84.5,36.1L84.3,36L84,35L83.5,34.9L82.5,34.8L81.5,35.1L81,35.1L78.5,34.4L77,32.3L76.5,33L73.5,35L73.4,36L73.7,37L75,36.9L75.5,37.1L75.8,37.5L75.9,38L75.6,39L75.6,39.5L76.4,40L77.5,40.4ZM90,34.5L90.1,34L88.5,32.7L87.3,33.5L89.5,34.8L90,34.9ZM219,33.4L218.5,33.3L217.8,33L218.5,32.6L219,32.7L219.3,33ZM130.3,35L129.5,34.2L129.1,34.5L129,35L129.5,35.3L130,35.3ZM141.7,38L142.2,37.5L142.4,37L142.2,36.5L141.5,35.9L141,35.8L140.5,35.9L140,36.5L139.9,37L140,38L140.5,38.5L141,38.5ZM162,41.5L160.5,41.7L160,41.5L158.5,39.9L158,39.7L156,40L155.2,39.5L155.2,39L157,38.8L158.7,37.5L160.4,37L162,36L162.5,36.1L163,37L162.6,38.5L162.9,40L162.5,41ZM194,37.8L193.2,37.5L193.1,37L193.5,36.5L194,36.4L194.4,37L194.3,37.5ZM218.5,43.9L218,44L217.5,43.5L217.6,43L217.1,42.5L217.1,41.5L218.5,40.1L220.5,40.1L223,37.6L223.4,38L223.5,38.7L224,39L223.5,39.7L223,40.1L222.5,40.3L222.4,42L222,42.4L221.5,42.4L220.5,43.4L219,43.4ZM204,54.6L203,54.6L202,54.3L201.3,53.5L201,52.5L200,52.4L199.5,52L198,50.3L196,49.6L195,48.2L194.2,47.5L193.2,46L193.1,45.5L194,43L195,41.5L195.5,40L196,39.7L197,39.7L199.5,40.3L201.5,40.5L202.5,40.2L204.5,38.7L205,38.6L205.9,39L206.9,40.5L207.1,41.5L206.7,42L204,42.9L201.5,42.9L200.5,43.3L199.6,44.5L199.1,46.5L199,47.5L199.1,48L200,49.4L200.5,49.9L202.5,51.1L203,51.2L204.5,50.7L205.5,50.9L207,52L207.3,52.5L207.2,53L206.5,53.9L205,54.2ZM215.5,43.1L215,43.2L214,43.1L213.1,42.5L212.9,41.5L214,40L214.5,39.9L215,40L215.9,41L215.9,42ZM49.5,44.1L47,43.7L46,43.4L45.6,42.5L45.8,41.5L46.2,41L47,40.4L47.5,40.3L49,40.7L49.5,41L49.8,41.5L50.2,43.5L50,43.8ZM136.1,45L137,43.6L137.3,42.5L137,41.8L136.5,41.5L135.7,42L135.4,43L134.4,44.5L134.6,45L136,45.1ZM172,45.1L171.5,45.2L171.3,45L171.2,44.5L171.3,42.5L171.5,41.5L172,41.2L172.5,41.2L173,41.5L173.7,43L173.6,43.5ZM157.5,51L157,51L156.5,50L156.4,49L156.9,47.5L155.6,46L155.2,45L155.3,43.5L155.5,43L156,42.9L156.5,43L157.1,43.5L158,45.3L159,45.5L159.6,46L159.6,46.5L159,47.5L158.9,48L159.3,49L159.3,49.5L159.1,50L158.6,50.5ZM183,47L181.5,46.9L181,46.5L180.9,45.5L182.3,43.5L183,43.1L183.5,43.1L184,43.4L184.4,44L184.7,45.5L184.7,46L184.3,46.5ZM164,49.6L163.2,49L163,48.5L163,47.8L163.5,47.4L164.9,48L165.1,48.5L164.5,49.4ZM118.5,51.1L118,50.9L117.7,50.5L117.7,49.5L118,48.9L119,48.8L119.5,49L119.9,49.5L119.9,50L119.5,50.6ZM71,52L71,51.5L70.5,51L70.5,50.6L70.1,51L70,51.5L70.6,52ZM49.1,57L50,56L50.4,56L50.4,54.5L50,53.8L49,54.1L47.8,55.5L47.9,56ZM67.4,64.5L69,63.1L69,62.5L67,60.4L66,60.4L65.6,60L65.6,59.5L66,59L66.2,58L64,56.6L63.5,56.6L63,56.8L62.6,57.5L62.6,58.5L64,60.6L65,61.5L65.3,62L65.4,63L65.2,64L65.4,64.5L65.5,64.7L66,64.8ZM197.6,61.5L198.4,60.5L198.2,60L197.6,59.5L197,59.2L196.5,59.3L195.4,60L195.2,61L195.5,61.6L196.5,62ZM80,61L80.3,60.5L79.5,60.3L78.8,60.5L79,61.1L79.5,61.2ZM138.5,70.5L138,71L137.5,70.8L135.5,67.8L133.5,66.9L133,66.8L131.5,67.3L130,67.5L129.5,67.2L129.2,66.5L129.6,66L131.5,65.3L132.5,65.3L134,65.9L135.5,66L140,63.9L140.5,63.8L141,64L141.5,64.4L142,64.5L143.3,63.5L144,63.2L144.5,63.2L145.3,63.5L145.4,64L145.2,65L145,65.6L144.5,66.1L144,66.1L142,65.1L141.5,65.1L141,65.4L140.4,67L139.5,68L139.2,68.5L139.6,69.5L139.4,70ZM124.5,66.1L123.5,65.9L123.1,65.5L123.3,65L123.5,64.8L124.1,65L124.5,65.5L124.7,66ZM75.9,65.5L75.5,65.3L75,65.5L75.5,66ZM120.5,67.1L120,67.2L119.7,67L119.4,66.5L119.5,66L120,65.9L121.1,66L121.1,66.5ZM214.1,67L214.3,66.5L214,66.3L213.5,66.4L213.4,67ZM199.5,69L201,67.5L201,67.3L200,67.3L199.5,67.7L199.3,68.5ZM145,74L144,74.2L143.1,74L142.4,73.5L142.3,73L143.1,71.5L142.8,70.5L143,70L144.5,68L145,68L146.2,69L146.4,69.5L146,71.5L146.6,73L146.4,73.5ZM79.8,70L79.5,69.5L79,69.1L78.4,69L78.3,69.5L78.7,70L79.5,70.3ZM130,70L129.1,70L128.7,69.5L129.5,69.1L130,69.4ZM88.5,92L90,91.1L91.5,90.6L92.3,90L92.5,89.5L92.6,88L93.6,87L94.5,85.5L95,85.1L96,85.1L97.5,85.7L98.4,87L99.4,88L100,89L100.1,86L100,85.5L98.5,85.7L98,85.6L97.5,84.5L97,83.9L96.5,83.9L95.5,84.2L94,83.6L93.5,83L93,81.1L92.5,81L92,81.5L91.5,82.5L90,83.6L89,83.5L87.2,82L87.2,81.5L88,80.1L88.5,79.8L89.5,79.9L89.8,79.5L89.7,78.5L89.9,78L92.5,75.6L93,75.6L93.1,76L94.5,77.1L96,77L97.5,77.3L98.6,77L98.5,76.5L98,76.4L97,75.4L94.5,75.5L94,75L93,75.5L91,75.3L90.1,73.5L89.8,72L89.4,71L88.5,70.3L86.5,69.6L85.5,70L84.5,71.2L83,72L82,73.2L81,74.1L80.4,75.5L79,77L78.9,77.5L79.4,79.5L79.3,80L78,81L77.6,81.5L77.6,82L78,82.7L78.5,82.6L79.5,81.8L81,81.5L83,80.7L85,80.5L85.5,80.8L86.2,82L85,83L83.5,83.7L83.2,84L82.6,85L82.5,86L82.8,86.5L83.5,87L84.5,87L86.5,86.8L88,87.8L89,87.8L89.8,88L89.7,88.5L89.4,89L87.8,89.5L87.5,90L87.6,91.5L88,91.9ZM205.6,83L206.4,80.5L206,80L206.5,79.5L206.4,79L206,78.6L205.5,78.6L203,79.4L202.3,79L201,77.5L201,77L200,76L200,75.5L199.6,75L199.6,74L200,73.6L200.4,74L200.4,74.5L201,75L201,75.5L202.1,74L202.3,73.5L201.5,73L200.5,73.9L200.1,73.5L200,72.5L199.5,72L199.5,71L199,70.5L198.9,70L197.4,71.5L197.1,72L198.4,74.5L199.9,76.5L200,77L199.5,78.5L199.5,79.1L199.7,79.5L201,80.2L202.7,81.5L203.8,83L204.5,83L205,83.4L205.5,83.2ZM77.5,76.5L77.9,76L77.8,75.5L77.5,74.3L77.1,74L77,73.5L77.5,73L77.5,72.5L76.5,71.2L75.5,70.6L74.1,72L74.2,72.5L75.5,72.7L76.9,73.5L76.8,74L76,74.9L75.8,75.5L76.2,76ZM72.3,73.5L73.3,72.5L72.7,72L71,71.7L70.8,72L70.8,72.5L71.5,73.6L72,74ZM214.6,73L214,73L213,72L212.7,72.5L212.8,73L213,73.1ZM72.4,80.5L73,79.7L73.1,79L72.2,76.5L72.4,75L72,74L71.5,74.4L71.3,75L71.3,76.5L70.8,77.5L69,79L68.5,79.2L68,79.2L67.7,78.5L67.5,78.5L67.5,79.3L69,80.1L70.5,80.1L71.5,80.5L72,80.6ZM138.5,82.5L136,82.5L135.5,82L135.3,79L136,76.2L136.5,75.4L137,75.3L138.5,75.4L140,75L140.5,75.2L141,75.7L142.5,79L142.7,80.5L142,81.2L140,81.6ZM146,80.2L145.5,80.4L145,80.2L144.9,79.5L145.8,79.5L146.2,80ZM222.2,80.5L222,79.5L221.5,79.4L221.4,80L221.5,80.7L222,80.7ZM227.6,81.5L228.3,81L228.5,80.5L228.5,80L228,79.5L227.5,79.6L226.5,80.5L225.2,81L224.9,81.5L226,81.9ZM213.1,84.5L213.5,84.1L214,84.1L215,83L215.3,82.5L215.1,82L214.5,81.7L213,81.5L212,80.4L211.5,80.1L210.5,80.1L210,80.2L209.7,80.5L209.6,81L210.1,83.5L211.5,83.6L212.5,84.6ZM162.3,88L162.4,87.5L162.2,87L160.7,86.5L160.6,86L161.3,84.5L160.5,83.4L157,87L158,87.3L160,87.5L161,88.3L161.5,88.4ZM228.3,107L230,106.6L230.5,106.3L230.8,105L231.5,103.8L233,103L233.6,102.5L233.6,102L234.1,101.5L234.1,101L234.5,100.5L234.6,98L234.5,96.5L233,96.9L231.5,95.2L229.5,95.1L228.5,94.5L228.3,94L228.5,93.5L229.9,90.5L229.6,90L229.6,89.5L229.1,89L229,87.5L227.5,86L226,86.1L224.5,85.2L223.5,85.4L223.4,87L223,87.4L222.5,87L222.5,86.4L222,86.7L221.5,86.7L220,86.5L219,87.3L218.5,87.3L215.6,85.5L215,85.5L214.5,84.9L212,87.4L211.4,87.5L210,89L210,89.5L209.5,89.9L208.5,89.9L208,90.4L207,90.4L206,91.4L205.5,91.4L204.5,92.5L204.1,95L204.5,95.7L206.3,97L205,99.3L205,101.2L206,101.3L206.5,101.1L208,98.9L208.5,98.5L209.5,98.5L210,99L211.3,101L210.7,102.5L210.8,104L210.5,104.5L212,104.6L213.5,103L215.5,103L216,102.6L217.5,102.5L218.5,101.2L219,101.2L219.2,102L218.7,103L219,103.5L220.5,105.1L221.5,105.2L223,106.5L223.4,106.5L224,105.9L224.5,105.9L225.5,106.8L227.5,107.1ZM147,94.2L146.5,94.3L146.1,94L146,93L145.5,92.3L144,91.3L142.7,91L142.3,90.5L142.5,90L144.5,88.5L146,88.9L146.5,88.8L146.7,88.5L146.6,87.5L146,87.2L144.5,87.9L144.1,87.5L144,87L144.6,86.5L146,85.7L149.5,85.4L150,85.6L150.3,86L150.5,86.5L150.6,88L151.6,89.5L151.7,90L151,91L149.5,92.1L149,93.2L148.5,93.6ZM211.5,89.8L211,89.9L210.5,89.5L210.5,88.9L211,88.6L211.5,88.7L211.7,89L211.7,89.5ZM80,119L79.1,118L79.1,117.5L79.6,117L79.6,116.5L80.1,116L80.1,115.5L81,114.5L80.5,114L80.6,113L82,111.5L82.2,110.5L82,110.1L81.5,110.1L80.8,110.5L80.5,111L80,111.1L79.8,110.5L79,109.5L78.9,109L79.5,108L79.6,107.5L78.8,106.5L78.7,106L79,105.5L79.5,105.3L80.5,105.4L83.5,107.4L84,107.3L85.5,106.1L86,105.9L87,105.9L87,105.5L87.5,105L88,104.5L88.5,104.5L90,103L90,102.5L91.6,101L91.5,100.5L92,100L92,99.5L93.1,98.5L93,97.6L92.5,97.6L92,98L91.8,99.5L91.6,100L91,100.4L90.5,100.2L89.7,98.5L87.5,95.5L84,93.7L82.3,92L81,89.5L80.5,89.3L79.5,89.2L79,89.3L78.7,90L78.7,91.5L78.5,92.4L78,92.7L76.7,92.5L76.6,93L77.2,95L78.5,96.4L78.5,97L78,97.4L77,97.6L76.8,98L77,99.5L76.8,101L76,102L75.3,102.5L75.2,103L75.5,103.7L77,104.8L77,105.5L76.3,106L75.5,106.1L74,105.4L73,105.5L73,107.6L73.2,108L73.3,109.5L74.3,112L73.7,113.5L73.5,115L72.4,116L72.5,116.6L72.9,117.5L73.5,117.7L75,117.4L76,117.5L78,118.6ZM97.5,94L99.1,92.5L99.1,92L99.6,91.5L99.5,90L98,91.5L97,92L96.2,93L96,93.5L96.5,94ZM136,96L135.7,95.5L135.9,95L136,94.7L136.5,94.4L136.8,95L136.8,95.5L136.5,95.9ZM157.6,97.5L158,97.1L158.5,97.1L160,95.4L159,96L157.5,96L156.5,96.4L157.5,97.6ZM214.5,102.2L214,102.3L213.6,102L213.5,101L212.8,100L213.3,99.5L214,99L216,99.5L216.5,99.4L217.5,97.2L218.2,96.5L219,96.4L219.9,97L220.2,97.5L220.2,98.5L220,99.1L219,100.5L218.5,100.8L217,100L216.5,99.9L215.5,101.3ZM251.5,106L251.5,105.5L250.5,104.5L249.7,104.5L249.6,105.5L250.1,106L251.5,106.3ZM245.2,112.5L247,112.3L247,112L248.5,110.6L249,110.6L249.6,110L249.6,109.5L249,108.6L248.8,108L249.4,106L249,105.5L247.5,104.6L246.5,104.6L246.4,107L245.9,107.5L245.9,108L244,110L243.5,110L242.7,111L242.7,111.5L243,112.2L243.5,112.4Z" fill="#ff8a14" fill-rule="evenodd"/>
<path d="M109.2,6L109,5.5L108.5,5.4L108.5,6.2L109,6.5ZM90.5,19L91,18.6L93,19L94.2,18.5L94.1,18L93.5,17L93.8,16.5L94.5,16L95,15.3L95.2,13L95,12.3L93.7,11.5L93.7,11L95,9.7L95.5,9.5L97,9.9L98,9.5L98.3,9L98.4,8.5L98.2,8L97.5,7L97.4,6L97,5.8L95.5,6.1L94.8,6.5L94.1,8L93.2,9L92.9,9.5L93,10L92.5,10.2L91.5,9.8L90.5,10.1L89.7,10.5L89.2,11.5L87.7,12.5L87.1,14L86.5,14.5L86.5,15L87.3,16.5L87.5,18.1L88,19.2L88.5,19.4L89.5,19.4ZM164.7,24L165.5,23.4L166.6,21L166.5,20L165.3,18L161.5,17.7L160.5,17.8L159.9,18L158,20L158,20.7L158.3,21.5L159.5,22.6L160.5,24.2L161,24.4L163,24.3ZM29.7,21.5L30,21.3L30.4,20.5L30.4,19.5L30.1,19L29.5,18.8L28,18.7L27.3,19L26.8,19.5L26.5,20L26.5,20.5L29,21.5ZM151.3,21L151.5,20.5L151.5,20L151,19.9L150.4,20.5L150.5,21L151,21.3ZM183.7,29.5L184.4,29L184.7,28.5L185.2,27L185.2,26.5L184.5,26L184,25.9L182.5,25.9L181.5,25.7L178.5,24.3L178,23.9L177.5,23L176.9,20L176.5,19.8L175.5,20.2L175,20.5L174.5,21.4L174,21.7L173,21.2L172.5,21.2L172.1,21.5L172.2,22L172.5,22.5L173.5,23.5L174.1,25.5L174.5,26L175,26.2L175.5,26.2L175.7,25L176.2,24.5L177,24.3L177.5,24.5L178,24.9L179.1,26.5L180.5,28L181.6,29.5L182.5,29.8ZM250.9,21.5L251.5,21.3L251.5,19.7L250.5,20.3L249,20.5L248.9,21L249.5,21.7L250,21.9ZM44.2,42L45,40.6L45.5,40.1L47,39.1L48.5,38.4L49.3,36.5L49.4,35.5L48.7,34L47.3,33L47,32L48.2,30.5L48.5,29.5L52,26.7L52.3,26L52.2,25.5L51.1,25L51.2,24.5L53,23.6L53.3,23L53,22.4L51,21.8L50,21.9L49,22.2L48.5,21.8L47,20.1L46.5,20L44,21.7L43.5,21.7L42,20.8L41.6,21L40.9,23.5L41,24.5L40.6,25L38.3,26.5L38.2,27L38.3,27.5L38.8,28L40.5,29L40.9,29.5L40.8,30.5L41.1,32L41,32.5L40,33.5L39.8,34L39.9,34.5L40.9,36.5L41,38.5L41.3,39.5L42.4,41.5L43,42.2L43.5,42.4ZM25.6,23.5L26.2,23L26.3,22.5L26,21.5L25.5,21.2L25,21.5L24.6,22L24.3,23L24.8,23.5ZM159,29.5L159.5,27L159.5,26.1L157.6,25.5L157.6,25L158.1,24L158,23.3L157.5,22.8L156.5,22.9L156,23.4L155.7,24L155.7,24.5L157,25.5L156.2,28.5L157,29.5L157.5,29.7L158.5,29.8ZM133.8,25L134.2,24.5L134.2,24L133.5,23.5L133,23.5L132,24.5L132,25L132.5,25.2L133,25.2ZM151.6,32.5L153.5,32L154.1,31.5L154.3,31L154.1,30.5L153.2,29.5L153.1,29L153.4,27L154.5,25.5L154.6,25L154.4,24.5L153.8,24L153,23.6L152,23.3L151.5,23.5L151.1,24L150.2,27.5L150.4,30L150.9,31L151,32ZM138.6,24.5L138.9,24L138.5,23.9L137.9,24.5L138,24.6ZM43,27L42.5,27.1L42,26.6L41.5,25.2L41,24.5L42.5,24.3L43,24.5L43.6,25L43.9,25.5L43.9,26ZM49,26.1L48.5,26.2L48,26.1L47.6,25.5L47.5,24.5L48,24L48.5,24.2L49.6,25.5ZM57.4,29.5L58.5,29.1L59.1,28.5L59.5,27L59.5,26L59,25.5L57,24.7L56.5,24.5L56,24.6L55.1,25.5L56,26.2L56.5,27L56.6,27.5L56,29L56,29.5L56.5,29.7ZM192.1,29L192.2,28.5L191.7,27.5L191.6,25.5L191.3,25L191,24.8L187.5,24.9L187,25.1L186.6,25.5L186.5,26.5L187.1,27.5L187.7,28L191,29.4L191.5,29.4ZM226.1,27L225.5,26.5L225,26.5L224.6,27ZM165,46L165.3,45.5L165.5,44L166,43.1L166.8,43L168,43.7L169.5,43.4L170,42.8L170.1,42L170,41.5L169,41.1L168.7,40.5L168.6,39.5L169,37.8L169.5,37L170,36.8L171.5,37.2L172.3,37L172.7,36L174.1,35L174.5,34.5L175,31.5L174.7,30.5L174,29.7L172.5,29.5L171.5,29.9L171,30.4L170,32L167.5,32.9L166,33.8L165.5,33.6L165.2,32.5L165.1,30L165.6,27.5L165.4,27L165,26.7L164.5,26.7L163.2,27.5L162.7,28.5L162.7,30L163.5,31.5L163.5,32L162.7,33.5L162.7,34L163,34.6L164.3,35.5L164.6,36L165.5,38.3L165.5,39.5L164.8,41L164.9,42.5L163.9,45.5L164.5,46.2ZM222.4,33L224.1,32L225.5,31.8L226,31.5L226.1,29.5L226,28.5L225.5,28.5L225,29L223,29L221.5,28.6L220.5,28.9L219,28.8L218.5,29.1L218.3,30L219,31L220.5,32L221.5,33.1ZM205.3,30.5L205.6,30L205.5,29.5L205,28.9L204,29L202.9,29.5L202.9,30L203.6,30.5L204.5,30.7ZM190.6,47L191.3,45.5L192.8,44L193.1,42.5L193.7,41.5L193.7,41L193,40.7L192.5,40L192.9,39L192.1,37.5L192,37L192.3,36L193.5,34.8L195,34.8L195.5,34.5L196,33.5L196.5,32.9L197.6,32.5L197.5,31.5L197.1,30L196.5,29.5L193.5,31.4L192,31.5L191.5,32.1L191,34L190.5,34.4L186.5,34.7L183,34.2L182.5,34.5L182.2,35L182,36L182,37.5L181.7,38.5L181.7,39L183,41.5L183.5,41.8L184.5,41.7L185,41.9L185.5,44L186,44.9L187,45.3L189,45.4L189.8,47L190,47.2ZM52.1,50.5L53.5,50.2L54,49.6L54.4,47.5L55.2,46.5L55.5,45.5L56.5,45.2L57,45.5L58,46.6L59.5,46.8L61.5,45.9L62,45.5L63.1,43.5L62,42.8L61.4,42L61.5,41.5L62,41L62.5,41L63.5,41.7L64,41.7L67,40.6L67.5,40.1L67.6,39.5L67.5,39L66.5,37.6L65.9,35.5L63,33.8L62.5,33.7L58,33.1L54.5,33.8L54,34.7L53.7,36L54.1,38L53.9,40.5L54.2,41L55,41.5L55.3,42L55,42.5L52.5,43.8L51.9,44L50.5,45L48,44.6L46.5,45L46,45.5L45.9,46L46.2,48L46,49L46.1,49.5L46.5,49.9L47,50.1L47.5,50.1L48.5,49.3L49,49.1L49.5,49.3L50.2,50L51,50.5L51.5,50.7ZM205.6,49.5L207.5,48.7L208,48.3L208.5,47.5L209,45.8L210.5,45L211.7,43.5L211.8,43L211.4,42L211.4,41.5L212,39.2L212.5,38.4L214,37L212.5,36.3L211.2,35L210,34.5L205,33.9L201,34.1L198.5,33.7L196.5,35.5L195.8,36.5L195.8,37.5L196.5,38.5L197.1,39L199,39.8L201.5,39.9L202.5,39.5L204,37.7L205,37.7L206,38.1L206.4,38.5L208.5,42L208.5,42.5L208,43.1L206.5,42.8L204,43.4L201.5,43.6L200.7,44L200.3,44.5L199.9,47L200.1,48L200.5,48.6L203,49.5ZM156.4,36L156.8,35.5L156.9,35L156.6,34.5L156,34.4L155.6,35L155.7,35.5L156,36.2ZM218,40.5L218.5,40L220.5,40L221,39.5L221.7,38L223.1,37L222.6,35.5L222,34.8L220.5,34.6L219,35.1L216.5,34.7L215,35.4L214,36.5L214,37L215,37.5L217.7,40.5ZM174.1,39.5L173.5,37.8L173,37.5L171.9,38.5L171.8,39L172,39.6L172.5,39.8L173.5,39.9ZM150.5,41L152,40.3L152.5,39.9L152.6,39L152.3,38.5L151.5,38.2L151,38.4L150.5,39L150,40.5ZM175.1,59L176.3,57.5L177,57.3L178.5,57.1L180,56.1L181.5,55.6L182.5,54.4L183.6,54L183.8,53.5L183.8,52L184.3,51.5L185.5,50.7L185.9,50L185.9,49L185.1,48L184,47.8L180.5,47.9L179.7,47.5L179.3,47L179,45.9L178.5,45.6L177.5,45.7L177.3,45.5L177.2,44L177.3,43.5L178,42.7L179,42.7L179.5,43L180,43.9L180.5,43.8L180.6,43.5L179.6,40.5L179.5,39.5L179,39.2L178,39.5L177.3,40.5L176,41.1L175.6,41.5L175.6,43L175.4,43.5L173.5,45.1L172.5,46.3L169.5,47.3L169.2,47L168.9,45.5L168.5,45.2L168,45.1L167,45.8L166.7,46.5L166.9,47L167.8,48L167.7,48.5L166.7,49.5L166.2,50.5L166.1,51L166.2,51.5L167,52L168.1,53.5L169.5,54.5L170.1,55.5L172.5,55.6L172.9,56L172.8,56.5L175,58.5ZM222.5,44.5L223,44.2L224.2,44L224.8,43.5L225,41.5L224.8,41L224.5,40.8L224,40.9L222.5,41.8L222,42.5L221.7,42.5L221.2,44L221.3,44.5L221.5,44.8L222,44.9ZM159.5,43.5L159.6,43L158.5,41.3L158,41.1L157.1,41.5L157,42L158.5,43.5L159,43.7ZM71.3,42L70.5,41.6L70,41.8L69.9,42L70.5,42.5L71,42.4ZM153.7,88.5L153.7,87L154.3,86L155,84.1L155,82.5L154.5,82L154.5,81.2L152.5,80L152,79L152,78.5L153.1,77L155,75.8L156.1,75.5L156.5,75.1L155.5,72.5L155.7,69.5L155.3,68.5L154,67L152.5,64.7L152,64.3L149.7,63.5L149.5,63L150.1,62.5L152.7,61.5L154,60.5L154.5,60.4L155,60.4L155.7,61L156.1,62.5L156.5,63.2L158,63.9L159,63.9L160.5,63.2L161.5,62.9L162.5,62.9L163,62.6L163.5,62.5L164,62.1L164.5,62.1L167.5,59L167.5,58.5L167.8,58L167.7,56.5L167,55.8L165.5,54.7L165.3,53.5L165,52.7L163,50.8L162.5,50.5L161.5,50.2L160.5,50.2L160,50.4L158,51.7L157,52.1L156,51.9L155.5,51.5L155,50.5L154.5,50L154.4,49.5L155.2,48.5L155.4,47.5L154,44.5L153,43.5L153.1,43L153,42.5L152,41.8L151.6,42L151.6,42.5L152,43.2L152.7,43.5L153,44L152,44.7L151.4,46L151.4,48.5L150.8,50L151,50.5L152.4,51.5L151.8,53L151.7,55L151.5,55.5L151,55.8L150,55.7L147,54.6L143.1,54L141.5,53.1L141,53L139.5,53.4L138,53.2L137,52.7L135.5,51.4L132.5,50.7L131,49.7L130.5,49.7L129,50.3L127.5,50.2L125.3,49L125,48.5L125,48L125.4,46.5L125,46.2L121.5,46.4L121,46.5L120.4,47.5L120.4,48L121.2,49.5L120.9,50.5L120.5,51.1L118.6,52.5L117.8,53.5L117.7,54L117.5,56.2L116.6,57.5L116.7,58L118.4,59L118.9,60L118.9,61L118.4,62.5L118.8,63.5L120.5,64.5L121,64.6L123,63.7L124.5,63.9L126.5,64.5L128,65.3L128.5,65.3L132,64.5L134,64.8L136,64.8L137.5,64.4L139.5,63.2L140.5,63L142,63L144.5,62.6L145.5,62.7L146.2,63L146.5,63.5L146,65.5L146.1,67L146.3,67.5L147.7,68.5L148.5,71L150,72L150.7,73.5L150,74.5L149.5,74.7L148,74.1L147.5,74.2L145.5,75.5L142.5,75L142.2,75.5L142.2,76L142.5,76.5L144,77.7L145.5,78.3L146.5,78.4L148,77.6L148.3,78L147.7,81.5L148,81.9L151,81.3L151.5,81.5L151.8,82.5L151.5,84.5L151.7,87.5L152,88.1L153,88.9L153.5,88.8ZM218,50L218.3,49.5L217.5,48.3L217,48.3L216,48.6L216,49L217,50.1ZM63,52L64,51.1L65.4,51L64.8,50L64,49.7L63.3,50L62.9,51L62.9,52ZM195.6,53L197.9,52.5L198.1,52L197.6,51L194,49.8L192,50.1L190.5,50.8L189.5,50.6L188.5,49.9L188,49.9L187.4,50.5L187.4,51L188,52L189,52.6L190,52.6L191,51.8L192.5,51.6L194.5,51.9ZM209.2,51.5L209,50.5L208.6,50L208,49.7L207.5,49.9L207.2,50.5L207.4,51L208.5,51.7ZM212,51.5L212.5,51L212.5,50.4L212,50.5L211.5,51L211.5,51.5L212,52ZM56.4,55.5L56.8,55L56.8,54.5L56.6,54L56,53.5L55,53.3L54.8,53.5L54.7,54L55,54.9L55.8,55.5ZM201.2,58.5L203.5,57.3L204,56.5L204,56L203.3,55.5L201.5,55.4L200,54.7L198.8,55L198.5,55.5L198.5,56L199,57L200,58.1L200.5,58.5ZM188.1,58L189,57.5L189.2,57L189.1,56.5L188.5,55.7L187.5,55.5L186.9,57.5L187.4,58ZM181.2,66.5L181.8,66L182,65L181,63.3L180.5,63.2L179.7,64L179.6,64.5L180.1,66L180.5,66.4ZM127,69L127.3,68.5L127.4,68L127,67.4L126.5,67L126,67L125.3,67.5L125.1,68L125.1,68.5L125.5,69.3L126,69.4ZM120.3,70L120.7,69.5L120.2,69L119.5,68.7L118.8,69L118.7,69.5L119,70ZM88.4,78.5L90,76.5L89.9,75.5L88.1,71.5L87.5,71L86.5,70.9L86,71.1L83.5,72.8L83,74.5L84.2,75.5L84.5,77L84.9,77.5L87,78.7L87.5,78.8ZM136.4,73L136.7,72.5L136.7,72L136,71L135.5,70.8L135,70.8L134.2,71.5L134.5,72L135.5,73L136,73.2ZM132.7,72L132.8,71.5L132.5,71.3L132,71.4L132.2,72L132.5,72.1ZM132,78.5L132.6,76.5L133,76.1L133.5,76.1L134.5,76.7L135,76.3L135.2,75.5L134.9,75L134.5,74.8L133.5,74.8L131.5,76L131.2,76.5L131.5,77L131.5,77.5L132,78ZM145.6,83.5L146,83.2L146.4,82.5L146.3,82L146,81.8L145.5,81.8L144.8,82L143.8,83L144.5,83.6ZM142.9,83.5L143.2,83L142.5,82.8L142.1,83L142,83.5L142.5,83.6ZM85.1,86L86.5,85.7L88,85.9L88.5,85.8L88.7,85.5L88.1,84.5L87.5,84.2L86.5,84L85.5,84L84,84.5L83.8,85L83.7,85.5L84,85.9ZM213,84.5L213.5,84L214,84L212.5,83.6L212,84L212.5,84.5ZM158.8,86L159.3,85.5L159.3,85L159,85L158,86ZM136.5,88.5L137,88.3L137.6,87.5L137.4,87L135.5,86.7L135,86.1L134.5,85.9L133.5,86.3L133.1,87L133.2,87.5L134,87.9L134.5,87.9L135.5,87.1ZM228.5,106L229.5,105.6L230,105L230.5,104L230.9,102.5L232.6,102L233.1,101.5L233.2,101L233.2,100L233,99.8L231.5,99.4L231.1,99L231,98.5L231.7,97L231.3,96L231,95.8L229,95.6L227.4,94.5L227.2,94L227.4,93.5L229.2,90.5L229.2,89.5L229,89L228.5,88.6L227.5,88.5L226.5,88.8L225.4,89.5L225.3,90L225.5,91.5L225.3,93.5L225,94.1L224.5,94.5L224,94.7L223.5,94.5L222.7,93L220.8,91L221.2,90.5L223,89.8L224.1,89L224,88.5L223.5,88.1L223,87.9L220.5,87.7L219,88.7L218,89L217.5,88.9L216.5,88.3L215,88.1L213.5,87L212.5,87L212,87.5L211.5,87.5L212.5,87.6L212.8,88.5L212.7,90L211.8,91.5L212,94L212.7,95.5L213,95.8L215.5,97.1L216,97L218,95.7L219,95.5L220.5,95.9L221,96.5L221.2,97.5L220.8,100L221.2,101.5L219.8,103.5L220,104.5L220.5,105L221.5,105.1L222.5,106L222.7,106L225,103.2L225.5,103.6L226.6,105.5L227.7,106ZM141.3,89L141.7,88.5L141.5,87.3L141,87.1L139.6,87.5L139.3,88L140,88.9L140.5,89.1ZM144.7,102L145.5,100.1L146,99.6L148,98.9L149,98.9L150,98.2L150,97.5L150.5,97L150.5,96.5L151.5,94.3L151.5,93.4L151,93L150.5,93L149.5,94.1L147.5,95.5L145.5,95.5L144.9,95L144.7,94L144.9,93L144.5,92.6L143,92.6L141.5,92L140.5,92.4L139.5,92.3L138.5,91.8L137.5,90.6L137,90.5L136,91.5L135.5,91.2L135,89.6L133.5,91.2L133.5,92L133.9,92.5L134,93L134.5,93.5L134.5,94.1L136,92.6L136.5,92.4L137,92.6L137.5,93.1L137.7,94L137.8,96L137.7,96.5L137.1,97.5L137.1,98L137.3,98.5L140.9,100L141.3,100.5L141.6,101.5L142,101.7L144,102.4ZM84,106L86.3,104.5L87.5,103.3L88.4,103L89,101L88.5,100.4L87.5,100.2L87,99.8L86.9,99L87.3,98L86.4,96L85.5,95.5L84,94.9L83.5,94.5L82.7,93.5L81.5,92.5L81,91.6L80.5,91.2L80,91.7L79.4,93.5L79.3,94L80,96.5L79.9,97L78.5,98.5L78.3,99L77.7,101.5L77.7,102.5L78.5,103.6L79,103.9L81,104.4L82.5,105.6L83.5,106ZM210,97L210.2,96.5L209.9,94L209.5,93.1L209,92.8L208.5,93.1L207.2,95L207.2,95.5L208,97.1L208.5,97.4L209.5,97.3ZM234.4,99L234.5,98L234,97.9L233.6,98.5L233.5,99L234,99.3ZM248,111L248.5,110.5L248.9,110.5L247.7,108L247.9,106.5L247.5,106L247,105.9L246.5,106.2L246.5,107L246,107.5L246,108L245.6,108.5L245.4,109.5L244.8,111L245.5,111.3L247.5,111.3ZM76.9,111.5L77.2,111L77.5,109L77.4,108L77,107.7L75,108.1L74.5,108.5L74.3,109L74.5,110.2L75.5,111.4L76.5,111.7ZM79,117.5L79.5,117L79.7,116L79.3,114.5L79.1,114L77,112.8L76,113.2L75.5,114L75.3,116L78,117.5L79,117.8Z" fill="#f7de14" fill-rule="evenodd"/>
<path d="M90.3,15.5L93.5,14.2L93.7,14L93.5,13.5L92,12.9L91,12.7L90,12.8L89,13.1L88.4,14L88.5,15L89.5,15.7ZM163.1,23.5L164.5,23L164.9,22.5L165.3,21L165,20.1L163,19.1L161,19L160,19.4L159.4,20L159.3,20.5L159.7,21.5L160.5,22.7L161.5,23.4ZM45.5,23.5L47,22.3L47.1,21.5L46.6,21L45.7,21.5L45,22.5L45,23.1ZM152.6,25.5L152.7,25L152.5,24.8L152.1,25L152,25.5L152.5,25.7ZM44.6,30L45,29.9L45.4,29.5L45.5,27.5L45,27L44.5,27L44,27.4L43.1,28.5L43.1,29L43.5,29.7L44,30ZM183.8,28L183.8,27.5L183.5,27.4L181.8,27.5L182,28L182.5,28.3L183.5,28.3ZM223.5,31L223.9,30.5L223,30.1L222,30.1L221.4,30.5L221.6,31L222,31.3L222.5,31.4ZM173.1,34L174,33L174.2,32L174,31.5L173.5,31L172.5,30.9L171.5,31.6L171.3,33L171.6,33.5L172.3,34ZM171.3,35.5L171.4,34.5L171,33.6L170,33.4L169.5,33.6L169.2,34L169.2,34.5L169.3,35L169.7,35.5L170.5,35.8L171,35.9ZM44,40L47.1,37.5L47.5,36.4L47.4,35.5L46.5,34.8L46,34.8L44.5,35.3L43.5,34.8L41,34.1L40.9,34.5L41,34.9L41.8,36.5L41.8,38.5L41.9,39L43,40.1L43.5,40.3ZM60.4,40.5L61.5,39.2L62,39L64,40.1L64.6,40L65,39.4L65.4,38L65.4,37.5L65.1,37L64.5,36.8L63,36.9L62.7,36.5L62.5,35.5L62.2,35L61.5,34.7L57,34.2L56,34.5L55.3,35L55,35.5L55,36.1L55.5,36.7L56.1,37L56.2,37.5L56.1,38.5L55.6,40L56,40.4L57.5,40.8L59.5,40.8ZM202.2,39L202.6,38L202.2,36.5L202.3,35.5L202,35.3L199,34.5L198,35.1L197.2,36L196.9,37L197.2,38L197.5,38.5L198.1,39L199.5,39.4L200.5,39.5L201.5,39.4ZM187.9,43.5L189.5,42.9L190.2,42.5L190.4,42L190.2,41L191,40.8L191.2,40.5L191.5,39L191,36.5L190.5,35.9L189,35.3L186.5,35.4L183.5,35.1L183,35.4L182.9,36L183.1,38.5L183.6,40L184,40.4L184.5,40.4L185.5,39.8L186,39.8L186.5,40L186.7,43.5L187,43.7ZM210.5,40.5L211.2,39.5L211.5,37.5L211.4,36.5L211,35.7L210.5,35.3L209.5,35.2L208,35.4L206.5,35.2L205.8,35.5L205.5,36L205.7,36.5L207,36.9L207.4,39L208,39.9L209,40.7L210,40.8ZM167.6,39L167.6,37.5L168.3,36L168,35.5L167.5,35.5L167.1,37L166.6,38L167,39.1ZM219.8,39L220.1,38.5L220,38L218.5,37.2L217.5,36L216.5,35.9L216.1,36L216,36.5L216.3,37L217.5,37.7L218.5,38.8L219,39.1ZM204.1,48L205.9,46.5L207,45.2L207.3,44.5L207,43.8L206.5,43.5L206,43.5L203.5,44.2L201.5,44.4L201,44.8L200.8,46.5L201,47.6L201.5,47.9L202.5,48.1ZM49.7,48L50.7,47.5L50.6,46.5L50.2,46L49,45.5L48,45.3L47.5,45.5L47,46L46.8,47L47,47.6L47.5,48.3L48,48.4ZM153.6,48L153.7,47.5L153.5,46.9L153,46.6L152.5,46.8L152.3,47.5L152.5,48.3L153,48.4ZM174.8,57.5L176.5,56.3L178.5,56.1L180.8,54.5L181.1,53.5L180.9,52.5L180.9,51.5L181.6,50L181.5,49.5L179,48.6L177.5,47.5L175.5,47.1L171,47.9L168,50.5L168.6,52.5L168.9,53L171.4,54.5L171.7,55L171.7,55.5L172.5,55.5L172.9,56L172.9,56.5L174,57.6L174.5,57.8ZM130,64.5L132,64L136,64.2L137,63.9L139,62.7L140.5,62.4L144.5,62.1L148,62.5L150.7,61.5L152,60.9L152.8,60L153.4,59L153.6,58L153.7,56L154,55.3L154.5,55L155,55.2L155.1,55.5L155.3,58L157.1,60L157.3,60.5L157.3,62.5L158,63L159,62.8L160.5,61.8L163,62.2L164.5,61.8L165,61.5L167,59.5L167,59L166.2,57L164.3,55.5L164,53.9L163.3,53L162.8,52L162,51.2L161,51.2L159.8,51.5L159.2,52L158.5,53L158,53.2L156,53.3L154.5,52.3L154,52.4L152.8,55.5L152,56.4L151.5,56.5L150,56.3L147,55.2L145,55.1L143,54.7L141,53.9L139,54.1L138,54L136.8,53.5L135,52.1L132,51.5L130.5,50.7L128,51L125,49.8L124,49.7L123.5,49.9L122,50.8L119.9,52.5L118.8,54L118.5,56L118.5,57.5L119.6,59.5L119.9,60.5L120,62.2L120.1,62.5L121,63L123,62.9L125.5,63.5L128,64.4ZM151.5,76.5L152,76.4L154.1,75L154.3,74.5L153.9,73L154.3,71L154.3,70L152.7,68L151.8,65.5L149.5,64.6L148,64.2L147.5,64.3L147.1,65L147.2,66L147.5,66.4L150.7,68L151.4,68.5L151.6,69L151,71.5L151.4,72.5L152.2,73.5L152.1,74L151,75.5L150.9,76ZM88.1,77.5L89.2,76.5L89.2,75.5L89,75L88.5,74.4L87.5,74L87,72.5L86.5,72.5L85.4,73L85,73.5L86.1,75L86,76.5L86.2,77L87,77.6L87.5,77.7ZM215.9,95.5L216.8,95L217.1,94.5L217.1,94L216,91L215.5,90.4L214.5,90.1L214,90.3L213,91.7L213,93.5L213.5,94.5L214,95L215,95.6ZM222.3,95L222.4,94.5L222,93.6L221.5,93.3L221,93.2L220.5,93.5L220.3,94L220.5,94.5L222,95.4ZM140.8,98L141.8,97L141.9,96.5L141.8,96L139.5,94.7L139,95.1L138.9,95.5L138.9,96.5L139.2,97.5L139.5,98L140,98.2ZM229.2,104L229.4,103.5L229.4,101L229.7,99L229.6,97L227.5,95.4L226,94.8L223.5,96L222.5,96.1L222,99L223,101.5L223.5,101.5L224.5,101L226,99.6L227,99.4L227.7,100L227.8,100.5L227.1,103L227.2,103.5L227.7,104L228.5,104.3L229,104.2ZM84,105L85.9,103.5L86.2,103L86.3,102L86,101L85.4,100L85.3,99.5L85.6,98L85.3,97L85,96.5L83.5,95.9L83,96.1L82.6,97L81.5,97.8L80.5,99L79.4,99.5L79,100L78.5,101.5L79,102.5L79.5,103L82,103.9L83.4,105ZM144.6,99L145.7,98L145.8,97.5L143.5,96.5L143,96.5L142.5,97L142.4,97.5L142.8,98.5L143.5,99.2L144,99.3ZM78.5,116L78.4,115.5L78,115.1L77.5,114.9L76.9,115L76.8,115.5L77.5,116L78,116.2Z" fill="#22cc22" fill-rule="evenodd"/>
<path d="M201.2,38.5L201.4,38L201.2,37.5L200.4,36L199,35.6L198.3,36L197.9,36.5L197.9,37L198,37.6L198.5,38.3L199,38.6L200,38.8ZM189.7,38.5L189,37L188.5,36.4L188,36.5L187,37.3L186.5,37.4L185.5,36.9L184.9,37L184.8,37.5L185,37.8L185.5,37.9L186.5,37.7L186.9,38L187.5,38.2L188.5,38.2L189.5,38.6ZM210.1,39.5L210.5,37L210,36.2L209.5,36.2L209,36.3L208.5,36.8L208.4,38L209,39.5L209.5,39.7ZM59.8,39L60.2,38.5L60.2,37.5L59.9,37L59.5,36.7L59,36.7L58.5,37L58.2,37.5L58.3,38.5L59,39.2L59.5,39.2ZM48.9,47L48.9,46.5L48.5,46.3L47.8,46.5L47.8,47L48,47.3L48.5,47.3ZM174.1,57L175.5,55.7L177.5,55.4L178.5,55L179.9,54L180.1,53.5L180,51L179.7,50.5L178.6,49.5L177.5,48.9L175,48.2L173.5,48.5L171,49.5L170,50.5L169.7,51.5L169.7,52L170,52.4L173,54.5L173.4,55L173.5,55.5L173,56.5L173.5,57ZM135.7,63.5L138,62.2L139.5,61.9L143,61.6L147.5,61.6L150,61L151,60.5L151.5,60L151.8,59L151.5,58L151.3,57.5L150.6,57L147.7,56L145,55.8L140.5,54.9L138,54.9L136,54.2L134,52.6L132,52.4L130.5,51.9L128.5,51.9L127,51.5L125,50.6L124,50.8L122.6,51.5L120.7,53L120,53.8L119.7,55L119.8,57.5L120.9,60.5L122,61.5L124,62.5L128.5,63.7L130,63.8L132.5,63.3ZM164.3,61L165.3,60.5L165.9,59.5L165.7,58.5L165.3,58L162.5,55.8L159.5,54.7L158.5,54.8L158,55L157.9,55.5L158.2,56.5L160.3,59L163,60.9L163.5,61ZM88.2,76L88,75.6L87.5,75.7L87.3,76L87.5,76.5ZM227.1,97L227.3,96.5L227,96.3L226.5,96.1L225.7,96.5L225.7,97L226,97.1ZM84,102.5L84.4,102L84.3,101.5L83.5,100.8L82.5,100.7L81.5,100.8L81,101L80.6,101.5L80.7,102L81.5,102.4L83,102.6Z" fill="#16a8fc" fill-rule="evenodd"/>
<path d="M177.5,53.5L178.3,53L178.7,52L178.5,51L177.5,50L175.5,49.4L174.5,49.3L172.8,50L172,51L172,52L172.3,52.5L173.5,53.4L175.5,53.9L177,53.8ZM135.5,62L139,60.7L143,60.6L145,60.8L148.5,60.5L150,59.7L150.4,59L150.5,58.5L150,57.7L148.1,57L147,56.8L145,56.7L143.5,56.3L139.5,56.1L138.5,56.4L137.5,57.2L137,57.3L136,56L133.3,54L130.5,53.2L128.5,53.1L125,52L124.4,52L123.6,52.5L121.7,54.5L121.3,57L121.5,59L122,59.7L123.5,61.1L124.5,61.5L125.5,61.6L127,61.1L128.5,61L129,61.1L129.8,62L130.5,62.3L135,62.2Z" fill="#1e38f6" fill-rule="evenodd"/>
</g>
<use href="#water" fill="#fff"/>
<use href="#coast" fill="none" stroke="#1a1414" stroke-width="0.62" stroke-linejoin="round"/>
<use href="#water" fill="none" stroke="#3a3030" stroke-width="0.35"/>
</g>
<rect x="-0.15" y="-0.1" width="252.2" height="125.2" fill="none" stroke="#222" stroke-width="0.9"/>
<text x="0" y="130.2" font-size="3.9" text-anchor="middle" class="t">180</text><text x="42" y="130.2" font-size="3.9" text-anchor="middle" class="t">120W</text><text x="84" y="130.2" font-size="3.9" text-anchor="middle" class="t">60W</text><text x="126" y="130.2" font-size="3.9" text-anchor="middle" class="t">0</text><text x="168" y="130.2" font-size="3.9" text-anchor="middle" class="t">60E</text><text x="210" y="130.2" font-size="3.9" text-anchor="middle" class="t">120E</text><text x="252" y="130.2" font-size="3.9" text-anchor="middle" class="t">180</text><text x="-1.6" y="1.8" font-size="3.9" text-anchor="end" class="t">90N</text><text x="-1.6" y="10.1" font-size="3.9" text-anchor="end" class="t">80N</text><text x="-1.6" y="18.5" font-size="3.9" text-anchor="end" class="t">70N</text><text x="-1.6" y="26.8" font-size="3.9" text-anchor="end" class="t">60N</text><text x="-1.6" y="35.1" font-size="3.9" text-anchor="end" class="t">50N</text><text x="-1.6" y="43.5" font-size="3.9" text-anchor="end" class="t">40N</text><text x="-1.6" y="51.8" font-size="3.9" text-anchor="end" class="t">30N</text><text x="-1.6" y="60.1" font-size="3.9" text-anchor="end" class="t">20N</text><text x="-1.6" y="68.5" font-size="3.9" text-anchor="end" class="t">10N</text><text x="-1.6" y="76.8" font-size="3.9" text-anchor="end" class="t">EQ</text><text x="-1.6" y="85.1" font-size="3.9" text-anchor="end" class="t">10S</text><text x="-1.6" y="93.5" font-size="3.9" text-anchor="end" class="t">20S</text><text x="-1.6" y="101.8" font-size="3.9" text-anchor="end" class="t">30S</text><text x="-1.6" y="110.1" font-size="3.9" text-anchor="end" class="t">40S</text><text x="-1.6" y="118.5" font-size="3.9" text-anchor="end" class="t">50S</text><text x="-1.6" y="126.8" font-size="3.9" text-anchor="end" class="t">60S</text>
<rect x="56" y="143" width="20.2" height="4.8" fill="#a418ea"/>
<rect x="76" y="143" width="20.2" height="4.8" fill="#1e38f6"/>
<rect x="96" y="143" width="20.2" height="4.8" fill="#16a8fc"/>
<rect x="116" y="143" width="20.2" height="4.8" fill="#22cc22"/>
<rect x="136" y="143" width="20.2" height="4.8" fill="#f7de14"/>
<rect x="156" y="143" width="20.2" height="4.8" fill="#ff8a14"/>
<rect x="176" y="143" width="20.2" height="4.8" fill="#f6322e"/>
<text x="76" y="153" font-size="5.4" text-anchor="middle" letter-spacing="0.35" fill="#222">1</text>
<text x="96" y="153" font-size="5.4" text-anchor="middle" letter-spacing="0.35" fill="#222">2</text>
<text x="116" y="153" font-size="5.4" text-anchor="middle" letter-spacing="0.35" fill="#222">3</text>
<text x="136" y="153" font-size="5.4" text-anchor="middle" letter-spacing="0.35" fill="#222">4</text>
<text x="156" y="153" font-size="5.4" text-anchor="middle" letter-spacing="0.35" fill="#222">5</text>
<text x="176" y="153" font-size="5.4" text-anchor="middle" letter-spacing="0.35" fill="#222">6</text>
</g>
</svg></body></html>
